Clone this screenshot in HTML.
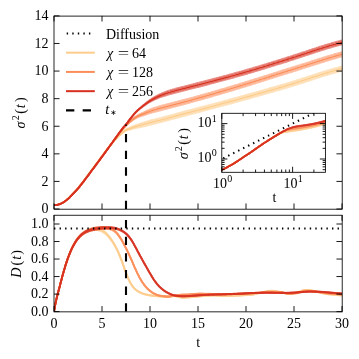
<!DOCTYPE html>
<html><head><meta charset="utf-8"><style>
html,body{margin:0;padding:0;background:#fff;}
svg{display:block;}
</style></head><body>
<svg width="359" height="359" viewBox="0 0 359 359">
<defs><clipPath id="ctop"><rect x="54.0" y="15.9" width="288.0" height="193.1"/></clipPath><clipPath id="cbot"><rect x="54.0" y="215.24" width="288.0" height="96.36000000000001"/></clipPath><clipPath id="cins"><rect x="221.8" y="113.3" width="103.59999999999997" height="59.000000000000014"/></clipPath></defs>
<rect width="359" height="359" fill="#fff"/>
<g font-family="'Liberation Serif', 'DejaVu Serif', serif" fill="#000">
<g fill="none" stroke="#fdcc8a" stroke-width="1.8" stroke-opacity="0.55" stroke-linejoin="round" clip-path="url(#ctop)">
<polyline points="54.0,205.2 55.0,205.2 55.9,205.1 56.9,205.0 57.8,204.7 58.8,204.5 59.8,204.1 60.7,203.7 61.7,203.3 62.6,202.8 63.6,202.2 64.6,201.5 65.5,200.8 66.5,200.1 67.4,199.3 68.4,198.4 69.4,197.5 70.3,196.6 71.3,195.6 72.2,194.6 73.2,193.5 74.2,192.5 75.1,191.5 76.1,190.4 77.0,189.4 78.0,188.3 79.0,187.1 79.9,185.9 80.9,184.7 81.8,183.4 82.8,182.2 83.8,180.9 84.7,179.6 85.7,178.3 86.6,177.0 87.6,175.7 88.6,174.4 89.5,173.1 90.5,171.8 91.4,170.5 92.4,169.2 93.4,167.9 94.3,166.6 95.3,165.3 96.2,164.0 97.2,162.7 98.2,161.4 99.1,160.1 100.1,158.8 101.0,157.5 102.0,156.2 103.0,154.9 103.9,153.6 104.9,152.4 105.8,151.1 106.8,149.8 107.8,148.6 108.7,147.4 109.7,146.2 110.6,145.0 111.6,143.8 112.6,142.7 113.5,141.6 114.5,140.5 115.4,139.4 116.4,138.3 117.4,137.3 118.3,136.3 119.3,135.3 120.2,134.3 121.2,133.4 122.2,132.5 123.1,131.7 124.1,130.9 125.0,130.1 126.0,129.4 127.0,128.8 127.9,128.4 128.9,128.0 129.8,127.6 130.8,127.1 131.8,126.7 132.7,126.3 133.7,125.9 134.6,125.5 135.6,125.1 136.6,124.8 137.5,124.4 138.5,124.1 139.4,123.8 140.4,123.4 141.4,123.1 142.3,122.8 143.3,122.5 144.2,122.2 145.2,121.9 146.2,121.6 147.1,121.3 148.1,121.1 149.0,120.8 150.0,120.5 151.0,120.3 151.9,120.0 152.9,119.8 153.8,119.6 154.8,119.3 155.8,119.1 156.7,118.8 157.7,118.6 158.6,118.3 159.6,118.1 160.6,117.9 161.5,117.6 162.5,117.4 163.4,117.1 164.4,116.9 165.4,116.6 166.3,116.4 167.3,116.1 168.2,115.9 169.2,115.6 170.2,115.3 171.1,115.1 172.1,114.8 173.0,114.6 174.0,114.3 175.0,114.1 175.9,113.8 176.9,113.5 177.8,113.3 178.8,113.0 179.8,112.8 180.7,112.5 181.7,112.2 182.6,112.0 183.6,111.7 184.6,111.5 185.5,111.2 186.5,110.9 187.4,110.7 188.4,110.4 189.4,110.2 190.3,109.9 191.3,109.7 192.2,109.4 193.2,109.2 194.2,108.9 195.1,108.7 196.1,108.4 197.0,108.2 198.0,107.9 199.0,107.7 199.9,107.4 200.9,107.2 201.8,106.9 202.8,106.6 203.8,106.4 204.7,106.1 205.7,105.9 206.6,105.6 207.6,105.4 208.6,105.1 209.5,104.9 210.5,104.6 211.4,104.4 212.4,104.1 213.4,103.9 214.3,103.6 215.3,103.4 216.2,103.1 217.2,102.8 218.2,102.6 219.1,102.3 220.1,102.1 221.0,101.8 222.0,101.6 223.0,101.3 223.9,101.0 224.9,100.8 225.8,100.5 226.8,100.3 227.8,100.0 228.7,99.7 229.7,99.5 230.6,99.2 231.6,98.9 232.6,98.7 233.5,98.4 234.5,98.2 235.4,97.9 236.4,97.6 237.4,97.4 238.3,97.1 239.3,96.8 240.2,96.6 241.2,96.3 242.2,96.0 243.1,95.8 244.1,95.5 245.0,95.2 246.0,95.0 247.0,94.7 247.9,94.4 248.9,94.2 249.8,93.9 250.8,93.6 251.8,93.4 252.7,93.1 253.7,92.8 254.6,92.6 255.6,92.3 256.6,92.0 257.5,91.8 258.5,91.5 259.4,91.2 260.4,91.0 261.4,90.7 262.3,90.4 263.3,90.1 264.2,89.9 265.2,89.6 266.2,89.3 267.1,89.1 268.1,88.8 269.0,88.5 270.0,88.2 271.0,88.0 271.9,87.7 272.9,87.4 273.8,87.1 274.8,86.9 275.8,86.6 276.7,86.3 277.7,86.0 278.6,85.8 279.6,85.5 280.6,85.2 281.5,84.9 282.5,84.7 283.4,84.4 284.4,84.1 285.4,83.8 286.3,83.5 287.3,83.2 288.2,82.9 289.2,82.6 290.2,82.3 291.1,82.0 292.1,81.8 293.0,81.5 294.0,81.2 295.0,80.9 295.9,80.6 296.9,80.2 297.8,79.9 298.8,79.6 299.8,79.3 300.7,79.0 301.7,78.7 302.6,78.4 303.6,78.1 304.6,77.8 305.5,77.5 306.5,77.2 307.4,76.8 308.4,76.5 309.4,76.2 310.3,75.9 311.3,75.6 312.2,75.3 313.2,75.0 314.2,74.6 315.1,74.3 316.1,74.0 317.0,73.7 318.0,73.4 319.0,73.1 319.9,72.8 320.9,72.5 321.8,72.2 322.8,71.9 323.8,71.6 324.7,71.3 325.7,71.0 326.6,70.7 327.6,70.4 328.6,70.1 329.5,69.9 330.5,69.6 331.4,69.3 332.4,69.0 333.4,68.7 334.3,68.5 335.3,68.2 336.2,67.9 337.2,67.7 338.2,67.4 339.1,67.1 340.1,66.9 341.0,66.6 342.0,66.4"/>
<polyline points="54.0,205.2 55.0,205.2 55.9,205.1 56.9,205.0 57.8,204.7 58.8,204.5 59.8,204.1 60.7,203.7 61.7,203.3 62.6,202.8 63.6,202.2 64.6,201.5 65.5,200.8 66.5,200.1 67.4,199.3 68.4,198.4 69.4,197.5 70.3,196.6 71.3,195.6 72.2,194.6 73.2,193.5 74.2,192.5 75.1,191.5 76.1,190.4 77.0,189.4 78.0,188.3 79.0,187.1 79.9,185.9 80.9,184.7 81.8,183.4 82.8,182.2 83.8,180.9 84.7,179.6 85.7,178.3 86.6,177.0 87.6,175.7 88.6,174.4 89.5,173.1 90.5,171.8 91.4,170.5 92.4,169.2 93.4,167.9 94.3,166.6 95.3,165.3 96.2,164.0 97.2,162.7 98.2,161.4 99.1,160.1 100.1,158.8 101.0,157.5 102.0,156.2 103.0,154.9 103.9,153.6 104.9,152.4 105.8,151.1 106.8,149.8 107.8,148.6 108.7,147.4 109.7,146.2 110.6,145.0 111.6,143.8 112.6,142.7 113.5,141.6 114.5,140.5 115.4,139.4 116.4,138.4 117.4,137.4 118.3,136.4 119.3,135.4 120.2,134.5 121.2,133.6 122.2,132.8 123.1,132.0 124.1,131.2 125.0,130.5 126.0,129.8 127.0,129.3 127.9,128.9 128.9,128.6 129.8,128.3 130.8,127.9 131.8,127.5 132.7,127.1 133.7,126.8 134.6,126.5 135.6,126.1 136.6,125.8 137.5,125.5 138.5,125.2 139.4,125.0 140.4,124.7 141.4,124.4 142.3,124.1 143.3,123.8 144.2,123.6 145.2,123.3 146.2,123.0 147.1,122.8 148.1,122.5 149.0,122.2 150.0,122.0 151.0,121.7 151.9,121.5 152.9,121.3 153.8,121.0 154.8,120.8 155.8,120.5 156.7,120.3 157.7,120.0 158.6,119.8 159.6,119.5 160.6,119.3 161.5,119.1 162.5,118.8 163.4,118.6 164.4,118.3 165.4,118.1 166.3,117.8 167.3,117.6 168.2,117.3 169.2,117.0 170.2,116.8 171.1,116.5 172.1,116.3 173.0,116.0 174.0,115.8 175.0,115.5 175.9,115.2 176.9,115.0 177.8,114.7 178.8,114.5 179.8,114.2 180.7,113.9 181.7,113.7 182.6,113.4 183.6,113.2 184.6,112.9 185.5,112.7 186.5,112.4 187.4,112.1 188.4,111.9 189.4,111.6 190.3,111.4 191.3,111.1 192.2,110.9 193.2,110.6 194.2,110.4 195.1,110.1 196.1,109.9 197.0,109.6 198.0,109.4 199.0,109.1 199.9,108.9 200.9,108.6 201.8,108.4 202.8,108.1 203.8,107.8 204.7,107.6 205.7,107.3 206.6,107.1 207.6,106.8 208.6,106.6 209.5,106.3 210.5,106.1 211.4,105.8 212.4,105.6 213.4,105.3 214.3,105.1 215.3,104.8 216.2,104.5 217.2,104.3 218.2,104.0 219.1,103.8 220.1,103.5 221.0,103.3 222.0,103.0 223.0,102.7 223.9,102.5 224.9,102.2 225.8,102.0 226.8,101.7 227.8,101.4 228.7,101.2 229.7,100.9 230.6,100.7 231.6,100.4 232.6,100.1 233.5,99.9 234.5,99.6 235.4,99.3 236.4,99.1 237.4,98.8 238.3,98.5 239.3,98.3 240.2,98.0 241.2,97.8 242.2,97.5 243.1,97.2 244.1,97.0 245.0,96.7 246.0,96.4 247.0,96.2 247.9,95.9 248.9,95.6 249.8,95.4 250.8,95.1 251.8,94.8 252.7,94.6 253.7,94.3 254.6,94.0 255.6,93.8 256.6,93.5 257.5,93.2 258.5,92.9 259.4,92.7 260.4,92.4 261.4,92.1 262.3,91.9 263.3,91.6 264.2,91.3 265.2,91.1 266.2,90.8 267.1,90.5 268.1,90.2 269.0,90.0 270.0,89.7 271.0,89.4 271.9,89.1 272.9,88.9 273.8,88.6 274.8,88.3 275.8,88.0 276.7,87.8 277.7,87.5 278.6,87.2 279.6,86.9 280.6,86.7 281.5,86.4 282.5,86.1 283.4,85.8 284.4,85.5 285.4,85.2 286.3,85.0 287.3,84.7 288.2,84.4 289.2,84.1 290.2,83.8 291.1,83.5 292.1,83.2 293.0,82.9 294.0,82.6 295.0,82.3 295.9,82.0 296.9,81.7 297.8,81.4 298.8,81.1 299.8,80.8 300.7,80.5 301.7,80.2 302.6,79.9 303.6,79.5 304.6,79.2 305.5,78.9 306.5,78.6 307.4,78.3 308.4,78.0 309.4,77.7 310.3,77.3 311.3,77.0 312.2,76.7 313.2,76.4 314.2,76.1 315.1,75.8 316.1,75.5 317.0,75.2 318.0,74.9 319.0,74.6 319.9,74.2 320.9,73.9 321.8,73.6 322.8,73.3 323.8,73.0 324.7,72.7 325.7,72.5 326.6,72.2 327.6,71.9 328.6,71.6 329.5,71.3 330.5,71.0 331.4,70.7 332.4,70.5 333.4,70.2 334.3,69.9 335.3,69.7 336.2,69.4 337.2,69.1 338.2,68.9 339.1,68.6 340.1,68.3 341.0,68.1 342.0,67.8"/>
<polyline points="54.0,205.2 55.0,205.2 55.9,205.1 56.9,205.0 57.8,204.7 58.8,204.5 59.8,204.1 60.7,203.7 61.7,203.3 62.6,202.8 63.6,202.2 64.6,201.5 65.5,200.8 66.5,200.1 67.4,199.3 68.4,198.4 69.4,197.5 70.3,196.6 71.3,195.6 72.2,194.6 73.2,193.5 74.2,192.5 75.1,191.5 76.1,190.4 77.0,189.4 78.0,188.3 79.0,187.1 79.9,185.9 80.9,184.7 81.8,183.4 82.8,182.2 83.8,180.9 84.7,179.6 85.7,178.3 86.6,177.0 87.6,175.7 88.6,174.4 89.5,173.1 90.5,171.8 91.4,170.5 92.4,169.2 93.4,167.9 94.3,166.6 95.3,165.3 96.2,164.0 97.2,162.7 98.2,161.4 99.1,160.1 100.1,158.8 101.0,157.5 102.0,156.2 103.0,154.9 103.9,153.6 104.9,152.4 105.8,151.1 106.8,149.8 107.8,148.6 108.7,147.4 109.7,146.2 110.6,145.0 111.6,143.8 112.6,142.7 113.5,141.6 114.5,140.5 115.4,139.5 116.4,138.5 117.4,137.5 118.3,136.5 119.3,135.6 120.2,134.7 121.2,133.8 122.2,133.0 123.1,132.3 124.1,131.6 125.0,130.9 126.0,130.3 127.0,129.8 127.9,129.5 128.9,129.2 129.8,128.9 130.8,128.6 131.8,128.3 132.7,128.0 133.7,127.7 134.6,127.4 135.6,127.1 136.6,126.9 137.5,126.6 138.5,126.4 139.4,126.1 140.4,125.9 141.4,125.7 142.3,125.4 143.3,125.2 144.2,124.9 145.2,124.7 146.2,124.4 147.1,124.2 148.1,123.9 149.0,123.7 150.0,123.4 151.0,123.2 151.9,122.9 152.9,122.7 153.8,122.5 154.8,122.2 155.8,122.0 156.7,121.7 157.7,121.5 158.6,121.2 159.6,121.0 160.6,120.8 161.5,120.5 162.5,120.3 163.4,120.0 164.4,119.8 165.4,119.5 166.3,119.3 167.3,119.0 168.2,118.8 169.2,118.5 170.2,118.2 171.1,118.0 172.1,117.7 173.0,117.5 174.0,117.2 175.0,117.0 175.9,116.7 176.9,116.4 177.8,116.2 178.8,115.9 179.8,115.7 180.7,115.4 181.7,115.1 182.6,114.9 183.6,114.6 184.6,114.4 185.5,114.1 186.5,113.8 187.4,113.6 188.4,113.3 189.4,113.1 190.3,112.8 191.3,112.6 192.2,112.3 193.2,112.1 194.2,111.8 195.1,111.6 196.1,111.3 197.0,111.1 198.0,110.8 199.0,110.6 199.9,110.3 200.9,110.1 201.8,109.8 202.8,109.5 203.8,109.3 204.7,109.0 205.7,108.8 206.6,108.5 207.6,108.3 208.6,108.0 209.5,107.8 210.5,107.5 211.4,107.3 212.4,107.0 213.4,106.8 214.3,106.5 215.3,106.3 216.2,106.0 217.2,105.7 218.2,105.5 219.1,105.2 220.1,105.0 221.0,104.7 222.0,104.5 223.0,104.2 223.9,103.9 224.9,103.7 225.8,103.4 226.8,103.2 227.8,102.9 228.7,102.6 229.7,102.4 230.6,102.1 231.6,101.8 232.6,101.6 233.5,101.3 234.5,101.1 235.4,100.8 236.4,100.5 237.4,100.3 238.3,100.0 239.3,99.7 240.2,99.5 241.2,99.2 242.2,98.9 243.1,98.7 244.1,98.4 245.0,98.1 246.0,97.9 247.0,97.6 247.9,97.3 248.9,97.1 249.8,96.8 250.8,96.5 251.8,96.3 252.7,96.0 253.7,95.7 254.6,95.5 255.6,95.2 256.6,94.9 257.5,94.7 258.5,94.4 259.4,94.1 260.4,93.9 261.4,93.6 262.3,93.3 263.3,93.0 264.2,92.8 265.2,92.5 266.2,92.2 267.1,92.0 268.1,91.7 269.0,91.4 270.0,91.1 271.0,90.9 271.9,90.6 272.9,90.3 273.8,90.0 274.8,89.8 275.8,89.5 276.7,89.2 277.7,88.9 278.6,88.7 279.6,88.4 280.6,88.1 281.5,87.8 282.5,87.6 283.4,87.3 284.4,87.0 285.4,86.7 286.3,86.4 287.3,86.1 288.2,85.8 289.2,85.5 290.2,85.2 291.1,84.9 292.1,84.7 293.0,84.4 294.0,84.1 295.0,83.8 295.9,83.5 296.9,83.1 297.8,82.8 298.8,82.5 299.8,82.2 300.7,81.9 301.7,81.6 302.6,81.3 303.6,81.0 304.6,80.7 305.5,80.4 306.5,80.1 307.4,79.7 308.4,79.4 309.4,79.1 310.3,78.8 311.3,78.5 312.2,78.2 313.2,77.9 314.2,77.5 315.1,77.2 316.1,76.9 317.0,76.6 318.0,76.3 319.0,76.0 319.9,75.7 320.9,75.4 321.8,75.1 322.8,74.8 323.8,74.5 324.7,74.2 325.7,73.9 326.6,73.6 327.6,73.3 328.6,73.0 329.5,72.8 330.5,72.5 331.4,72.2 332.4,71.9 333.4,71.6 334.3,71.4 335.3,71.1 336.2,70.8 337.2,70.6 338.2,70.3 339.1,70.0 340.1,69.8 341.0,69.5 342.0,69.3"/>
<polyline points="54.0,205.2 55.0,205.2 55.9,205.1 56.9,205.0 57.8,204.7 58.8,204.5 59.8,204.1 60.7,203.7 61.7,203.3 62.6,202.8 63.6,202.2 64.6,201.5 65.5,200.8 66.5,200.1 67.4,199.3 68.4,198.4 69.4,197.5 70.3,196.6 71.3,195.6 72.2,194.6 73.2,193.5 74.2,192.5 75.1,191.5 76.1,190.4 77.0,189.4 78.0,188.3 79.0,187.1 79.9,185.9 80.9,184.7 81.8,183.4 82.8,182.2 83.8,180.9 84.7,179.6 85.7,178.3 86.6,177.0 87.6,175.7 88.6,174.4 89.5,173.1 90.5,171.8 91.4,170.5 92.4,169.2 93.4,167.9 94.3,166.6 95.3,165.3 96.2,164.0 97.2,162.7 98.2,161.4 99.1,160.1 100.1,158.8 101.0,157.5 102.0,156.2 103.0,154.9 103.9,153.6 104.9,152.4 105.8,151.1 106.8,149.8 107.8,148.6 108.7,147.4 109.7,146.2 110.6,145.0 111.6,143.8 112.6,142.7 113.5,141.6 114.5,140.5 115.4,139.5 116.4,138.5 117.4,137.6 118.3,136.6 119.3,135.7 120.2,134.9 121.2,134.1 122.2,133.3 123.1,132.6 124.1,131.9 125.0,131.3 126.0,130.8 127.0,130.3 127.9,130.0 128.9,129.8 129.8,129.6 130.8,129.3 131.8,129.0 132.7,128.8 133.7,128.6 134.6,128.3 135.6,128.1 136.6,127.9 137.5,127.7 138.5,127.5 139.4,127.3 140.4,127.1 141.4,126.9 142.3,126.7 143.3,126.5 144.2,126.3 145.2,126.1 146.2,125.8 147.1,125.6 148.1,125.4 149.0,125.1 150.0,124.9 151.0,124.6 151.9,124.4 152.9,124.2 153.8,123.9 154.8,123.7 155.8,123.4 156.7,123.2 157.7,122.9 158.6,122.7 159.6,122.4 160.6,122.2 161.5,122.0 162.5,121.7 163.4,121.5 164.4,121.2 165.4,121.0 166.3,120.7 167.3,120.5 168.2,120.2 169.2,119.9 170.2,119.7 171.1,119.4 172.1,119.2 173.0,118.9 174.0,118.7 175.0,118.4 175.9,118.1 176.9,117.9 177.8,117.6 178.8,117.4 179.8,117.1 180.7,116.8 181.7,116.6 182.6,116.3 183.6,116.1 184.6,115.8 185.5,115.6 186.5,115.3 187.4,115.0 188.4,114.8 189.4,114.5 190.3,114.3 191.3,114.0 192.2,113.8 193.2,113.5 194.2,113.3 195.1,113.0 196.1,112.8 197.0,112.5 198.0,112.3 199.0,112.0 199.9,111.8 200.9,111.5 201.8,111.3 202.8,111.0 203.8,110.7 204.7,110.5 205.7,110.2 206.6,110.0 207.6,109.7 208.6,109.5 209.5,109.2 210.5,109.0 211.4,108.7 212.4,108.5 213.4,108.2 214.3,108.0 215.3,107.7 216.2,107.4 217.2,107.2 218.2,106.9 219.1,106.7 220.1,106.4 221.0,106.2 222.0,105.9 223.0,105.6 223.9,105.4 224.9,105.1 225.8,104.9 226.8,104.6 227.8,104.3 228.7,104.1 229.7,103.8 230.6,103.6 231.6,103.3 232.6,103.0 233.5,102.8 234.5,102.5 235.4,102.2 236.4,102.0 237.4,101.7 238.3,101.4 239.3,101.2 240.2,100.9 241.2,100.7 242.2,100.4 243.1,100.1 244.1,99.9 245.0,99.6 246.0,99.3 247.0,99.1 247.9,98.8 248.9,98.5 249.8,98.3 250.8,98.0 251.8,97.7 252.7,97.5 253.7,97.2 254.6,96.9 255.6,96.7 256.6,96.4 257.5,96.1 258.5,95.8 259.4,95.6 260.4,95.3 261.4,95.0 262.3,94.8 263.3,94.5 264.2,94.2 265.2,94.0 266.2,93.7 267.1,93.4 268.1,93.1 269.0,92.9 270.0,92.6 271.0,92.3 271.9,92.0 272.9,91.8 273.8,91.5 274.8,91.2 275.8,90.9 276.7,90.7 277.7,90.4 278.6,90.1 279.6,89.8 280.6,89.6 281.5,89.3 282.5,89.0 283.4,88.7 284.4,88.4 285.4,88.1 286.3,87.9 287.3,87.6 288.2,87.3 289.2,87.0 290.2,86.7 291.1,86.4 292.1,86.1 293.0,85.8 294.0,85.5 295.0,85.2 295.9,84.9 296.9,84.6 297.8,84.3 298.8,84.0 299.8,83.7 300.7,83.4 301.7,83.1 302.6,82.8 303.6,82.4 304.6,82.1 305.5,81.8 306.5,81.5 307.4,81.2 308.4,80.9 309.4,80.6 310.3,80.2 311.3,79.9 312.2,79.6 313.2,79.3 314.2,79.0 315.1,78.7 316.1,78.4 317.0,78.1 318.0,77.8 319.0,77.5 319.9,77.1 320.9,76.8 321.8,76.5 322.8,76.2 323.8,75.9 324.7,75.6 325.7,75.4 326.6,75.1 327.6,74.8 328.6,74.5 329.5,74.2 330.5,73.9 331.4,73.6 332.4,73.4 333.4,73.1 334.3,72.8 335.3,72.6 336.2,72.3 337.2,72.0 338.2,71.8 339.1,71.5 340.1,71.2 341.0,71.0 342.0,70.7"/>
</g>
<g fill="none" stroke="#fdcc8a" stroke-width="1.2" stroke-opacity="1.0" stroke-linejoin="round" clip-path="url(#ctop)">
<polyline points="54.0,205.2 55.0,205.2 55.9,205.1 56.9,205.0 57.8,204.7 58.8,204.5 59.8,204.1 60.7,203.7 61.7,203.3 62.6,202.8 63.6,202.2 64.6,201.5 65.5,200.8 66.5,200.1 67.4,199.3 68.4,198.4 69.4,197.5 70.3,196.6 71.3,195.6 72.2,194.6 73.2,193.5 74.2,192.5 75.1,191.5 76.1,190.4 77.0,189.4 78.0,188.3 79.0,187.1 79.9,185.9 80.9,184.7 81.8,183.4 82.8,182.2 83.8,180.9 84.7,179.6 85.7,178.3 86.6,177.0 87.6,175.7 88.6,174.4 89.5,173.1 90.5,171.8 91.4,170.5 92.4,169.2 93.4,167.9 94.3,166.6 95.3,165.3 96.2,164.0 97.2,162.7 98.2,161.4 99.1,160.1 100.1,158.8 101.0,157.5 102.0,156.2 103.0,154.9 103.9,153.6 104.9,152.4 105.8,151.1 106.8,149.8 107.8,148.6 108.7,147.4 109.7,146.2 110.6,145.0 111.6,143.8 112.6,142.7 113.5,141.6 114.5,140.5 115.4,139.5 116.4,138.4 117.4,137.4 118.3,136.4 119.3,135.5 120.2,134.6 121.2,133.7 122.2,132.9 123.1,132.1 124.1,131.4 125.0,130.7 126.0,130.1 127.0,129.6 127.9,129.2 128.9,128.9 129.8,128.6 130.8,128.2 131.8,127.9 132.7,127.5 133.7,127.2 134.6,126.9 135.6,126.6 136.6,126.4 137.5,126.1 138.5,125.8 139.4,125.5 140.4,125.3 141.4,125.0 142.3,124.8 143.3,124.5 144.2,124.2 145.2,124.0 146.2,123.7 147.1,123.5 148.1,123.2 149.0,123.0 150.0,122.7 151.0,122.5 151.9,122.2 152.9,122.0 153.8,121.7 154.8,121.5 155.8,121.2 156.7,121.0 157.7,120.8 158.6,120.5 159.6,120.3 160.6,120.0 161.5,119.8 162.5,119.5 163.4,119.3 164.4,119.0 165.4,118.8 166.3,118.5 167.3,118.3 168.2,118.0 169.2,117.8 170.2,117.5 171.1,117.3 172.1,117.0 173.0,116.7 174.0,116.5 175.0,116.2 175.9,116.0 176.9,115.7 177.8,115.5 178.8,115.2 179.8,114.9 180.7,114.7 181.7,114.4 182.6,114.2 183.6,113.9 184.6,113.6 185.5,113.4 186.5,113.1 187.4,112.9 188.4,112.6 189.4,112.4 190.3,112.1 191.3,111.9 192.2,111.6 193.2,111.3 194.2,111.1 195.1,110.8 196.1,110.6 197.0,110.3 198.0,110.1 199.0,109.8 199.9,109.6 200.9,109.3 201.8,109.1 202.8,108.8 203.8,108.6 204.7,108.3 205.7,108.1 206.6,107.8 207.6,107.6 208.6,107.3 209.5,107.1 210.5,106.8 211.4,106.5 212.4,106.3 213.4,106.0 214.3,105.8 215.3,105.5 216.2,105.3 217.2,105.0 218.2,104.8 219.1,104.5 220.1,104.2 221.0,104.0 222.0,103.7 223.0,103.5 223.9,103.2 224.9,103.0 225.8,102.7 226.8,102.4 227.8,102.2 228.7,101.9 229.7,101.6 230.6,101.4 231.6,101.1 232.6,100.9 233.5,100.6 234.5,100.3 235.4,100.1 236.4,99.8 237.4,99.5 238.3,99.3 239.3,99.0 240.2,98.7 241.2,98.5 242.2,98.2 243.1,98.0 244.1,97.7 245.0,97.4 246.0,97.2 247.0,96.9 247.9,96.6 248.9,96.4 249.8,96.1 250.8,95.8 251.8,95.6 252.7,95.3 253.7,95.0 254.6,94.8 255.6,94.5 256.6,94.2 257.5,93.9 258.5,93.7 259.4,93.4 260.4,93.1 261.4,92.9 262.3,92.6 263.3,92.3 264.2,92.0 265.2,91.8 266.2,91.5 267.1,91.2 268.1,91.0 269.0,90.7 270.0,90.4 271.0,90.1 271.9,89.9 272.9,89.6 273.8,89.3 274.8,89.0 275.8,88.8 276.7,88.5 277.7,88.2 278.6,87.9 279.6,87.7 280.6,87.4 281.5,87.1 282.5,86.8 283.4,86.5 284.4,86.3 285.4,86.0 286.3,85.7 287.3,85.4 288.2,85.1 289.2,84.8 290.2,84.5 291.1,84.2 292.1,83.9 293.0,83.6 294.0,83.3 295.0,83.0 295.9,82.7 296.9,82.4 297.8,82.1 298.8,81.8 299.8,81.5 300.7,81.2 301.7,80.9 302.6,80.6 303.6,80.3 304.6,80.0 305.5,79.6 306.5,79.3 307.4,79.0 308.4,78.7 309.4,78.4 310.3,78.1 311.3,77.8 312.2,77.4 313.2,77.1 314.2,76.8 315.1,76.5 316.1,76.2 317.0,75.9 318.0,75.6 319.0,75.3 319.9,75.0 320.9,74.7 321.8,74.4 322.8,74.1 323.8,73.8 324.7,73.5 325.7,73.2 326.6,72.9 327.6,72.6 328.6,72.3 329.5,72.0 330.5,71.7 331.4,71.5 332.4,71.2 333.4,70.9 334.3,70.6 335.3,70.4 336.2,70.1 337.2,69.8 338.2,69.6 339.1,69.3 340.1,69.1 341.0,68.8 342.0,68.5"/>
</g>
<g fill="none" stroke="#fc8d59" stroke-width="1.8" stroke-opacity="0.55" stroke-linejoin="round" clip-path="url(#ctop)">
<polyline points="54.0,205.1 55.0,205.1 55.9,205.0 56.9,204.9 57.8,204.7 58.8,204.4 59.8,204.1 60.7,203.7 61.7,203.3 62.6,202.7 63.6,202.2 64.6,201.5 65.5,200.9 66.5,200.1 67.4,199.3 68.4,198.5 69.4,197.6 70.3,196.6 71.3,195.6 72.2,194.6 73.2,193.6 74.2,192.6 75.1,191.6 76.1,190.5 77.0,189.5 78.0,188.4 79.0,187.2 79.9,186.1 80.9,184.8 81.8,183.6 82.8,182.4 83.8,181.1 84.7,179.8 85.7,178.5 86.6,177.3 87.6,176.0 88.6,174.7 89.5,173.4 90.5,172.1 91.4,170.8 92.4,169.5 93.4,168.2 94.3,166.9 95.3,165.6 96.2,164.3 97.2,163.0 98.2,161.7 99.1,160.5 100.1,159.2 101.0,157.8 102.0,156.5 103.0,155.2 103.9,153.9 104.9,152.6 105.8,151.3 106.8,149.9 107.8,148.6 108.7,147.3 109.7,146.0 110.6,144.7 111.6,143.4 112.6,142.1 113.5,140.8 114.5,139.5 115.4,138.2 116.4,136.9 117.4,135.7 118.3,134.4 119.3,133.2 120.2,132.0 121.2,130.8 122.2,129.7 123.1,128.5 124.1,127.4 125.0,126.3 126.0,125.2 127.0,124.2 127.9,123.2 128.9,122.3 129.8,121.3 130.8,120.5 131.8,119.6 132.7,118.8 133.7,118.0 134.6,117.3 135.6,116.6 136.6,115.9 137.5,115.3 138.5,114.8 139.4,114.3 140.4,113.8 141.4,113.4 142.3,112.9 143.3,112.5 144.2,112.0 145.2,111.5 146.2,111.1 147.1,110.6 148.1,110.2 149.0,109.8 150.0,109.4 151.0,109.0 151.9,108.7 152.9,108.3 153.8,108.0 154.8,107.7 155.8,107.4 156.7,107.1 157.7,106.8 158.6,106.5 159.6,106.2 160.6,106.0 161.5,105.7 162.5,105.4 163.4,105.2 164.4,104.9 165.4,104.7 166.3,104.4 167.3,104.2 168.2,103.9 169.2,103.7 170.2,103.4 171.1,103.2 172.1,102.9 173.0,102.7 174.0,102.4 175.0,102.2 175.9,101.9 176.9,101.7 177.8,101.4 178.8,101.2 179.8,100.9 180.7,100.7 181.7,100.4 182.6,100.2 183.6,99.9 184.6,99.7 185.5,99.4 186.5,99.2 187.4,98.9 188.4,98.7 189.4,98.4 190.3,98.1 191.3,97.9 192.2,97.6 193.2,97.4 194.2,97.1 195.1,96.8 196.1,96.6 197.0,96.3 198.0,96.0 199.0,95.8 199.9,95.5 200.9,95.2 201.8,95.0 202.8,94.7 203.8,94.4 204.7,94.1 205.7,93.9 206.6,93.6 207.6,93.3 208.6,93.0 209.5,92.8 210.5,92.5 211.4,92.2 212.4,91.9 213.4,91.7 214.3,91.4 215.3,91.1 216.2,90.8 217.2,90.5 218.2,90.3 219.1,90.0 220.1,89.7 221.0,89.4 222.0,89.1 223.0,88.8 223.9,88.6 224.9,88.3 225.8,88.0 226.8,87.7 227.8,87.4 228.7,87.1 229.7,86.9 230.6,86.6 231.6,86.3 232.6,86.0 233.5,85.7 234.5,85.4 235.4,85.1 236.4,84.8 237.4,84.6 238.3,84.3 239.3,84.0 240.2,83.7 241.2,83.4 242.2,83.1 243.1,82.8 244.1,82.5 245.0,82.2 246.0,81.9 247.0,81.6 247.9,81.3 248.9,81.0 249.8,80.7 250.8,80.4 251.8,80.1 252.7,79.8 253.7,79.5 254.6,79.2 255.6,78.9 256.6,78.6 257.5,78.3 258.5,78.0 259.4,77.7 260.4,77.4 261.4,77.1 262.3,76.8 263.3,76.5 264.2,76.2 265.2,75.9 266.2,75.6 267.1,75.3 268.1,75.0 269.0,74.7 270.0,74.4 271.0,74.1 271.9,73.8 272.9,73.5 273.8,73.2 274.8,72.9 275.8,72.6 276.7,72.3 277.7,72.0 278.6,71.7 279.6,71.4 280.6,71.0 281.5,70.7 282.5,70.4 283.4,70.1 284.4,69.8 285.4,69.5 286.3,69.2 287.3,68.9 288.2,68.6 289.2,68.3 290.2,68.0 291.1,67.7 292.1,67.4 293.0,67.1 294.0,66.8 295.0,66.5 295.9,66.2 296.9,65.9 297.8,65.6 298.8,65.3 299.8,65.0 300.7,64.7 301.7,64.4 302.6,64.1 303.6,63.8 304.6,63.5 305.5,63.2 306.5,62.9 307.4,62.6 308.4,62.3 309.4,62.0 310.3,61.7 311.3,61.3 312.2,61.0 313.2,60.7 314.2,60.4 315.1,60.1 316.1,59.8 317.0,59.5 318.0,59.2 319.0,58.9 319.9,58.6 320.9,58.3 321.8,58.0 322.8,57.7 323.8,57.4 324.7,57.1 325.7,56.8 326.6,56.5 327.6,56.2 328.6,56.0 329.5,55.7 330.5,55.4 331.4,55.1 332.4,54.8 333.4,54.5 334.3,54.2 335.3,54.0 336.2,53.7 337.2,53.4 338.2,53.1 339.1,52.8 340.1,52.6 341.0,52.3 342.0,52.0"/>
<polyline points="54.0,205.1 55.0,205.1 55.9,205.0 56.9,204.9 57.8,204.7 58.8,204.4 59.8,204.1 60.7,203.7 61.7,203.3 62.6,202.7 63.6,202.2 64.6,201.5 65.5,200.9 66.5,200.1 67.4,199.3 68.4,198.5 69.4,197.6 70.3,196.6 71.3,195.6 72.2,194.6 73.2,193.6 74.2,192.6 75.1,191.6 76.1,190.5 77.0,189.5 78.0,188.4 79.0,187.2 79.9,186.1 80.9,184.8 81.8,183.6 82.8,182.4 83.8,181.1 84.7,179.8 85.7,178.5 86.6,177.3 87.6,176.0 88.6,174.7 89.5,173.4 90.5,172.1 91.4,170.8 92.4,169.5 93.4,168.2 94.3,166.9 95.3,165.6 96.2,164.3 97.2,163.0 98.2,161.7 99.1,160.5 100.1,159.2 101.0,157.8 102.0,156.5 103.0,155.2 103.9,153.9 104.9,152.6 105.8,151.3 106.8,149.9 107.8,148.6 108.7,147.3 109.7,146.0 110.6,144.7 111.6,143.4 112.6,142.1 113.5,140.8 114.5,139.5 115.4,138.2 116.4,136.9 117.4,135.7 118.3,134.5 119.3,133.2 120.2,132.0 121.2,130.9 122.2,129.7 123.1,128.6 124.1,127.5 125.0,126.4 126.0,125.4 127.0,124.4 127.9,123.5 128.9,122.6 129.8,121.7 130.8,120.8 131.8,120.0 132.7,119.3 133.7,118.5 134.6,117.8 135.6,117.2 136.6,116.6 137.5,116.0 138.5,115.5 139.4,115.1 140.4,114.7 141.4,114.3 142.3,113.9 143.3,113.5 144.2,113.0 145.2,112.6 146.2,112.2 147.1,111.8 148.1,111.4 149.0,111.0 150.0,110.7 151.0,110.3 151.9,110.0 152.9,109.7 153.8,109.4 154.8,109.1 155.8,108.8 156.7,108.5 157.7,108.2 158.6,107.9 159.6,107.7 160.6,107.4 161.5,107.2 162.5,106.9 163.4,106.6 164.4,106.4 165.4,106.1 166.3,105.9 167.3,105.6 168.2,105.4 169.2,105.1 170.2,104.9 171.1,104.6 172.1,104.4 173.0,104.1 174.0,103.9 175.0,103.6 175.9,103.4 176.9,103.1 177.8,102.9 178.8,102.6 179.8,102.4 180.7,102.1 181.7,101.9 182.6,101.6 183.6,101.4 184.6,101.1 185.5,100.9 186.5,100.6 187.4,100.4 188.4,100.1 189.4,99.9 190.3,99.6 191.3,99.3 192.2,99.1 193.2,98.8 194.2,98.5 195.1,98.3 196.1,98.0 197.0,97.8 198.0,97.5 199.0,97.2 199.9,97.0 200.9,96.7 201.8,96.4 202.8,96.1 203.8,95.9 204.7,95.6 205.7,95.3 206.6,95.0 207.6,94.8 208.6,94.5 209.5,94.2 210.5,93.9 211.4,93.7 212.4,93.4 213.4,93.1 214.3,92.8 215.3,92.5 216.2,92.3 217.2,92.0 218.2,91.7 219.1,91.4 220.1,91.1 221.0,90.9 222.0,90.6 223.0,90.3 223.9,90.0 224.9,89.7 225.8,89.4 226.8,89.2 227.8,88.9 228.7,88.6 229.7,88.3 230.6,88.0 231.6,87.7 232.6,87.4 233.5,87.2 234.5,86.9 235.4,86.6 236.4,86.3 237.4,86.0 238.3,85.7 239.3,85.4 240.2,85.1 241.2,84.8 242.2,84.5 243.1,84.2 244.1,84.0 245.0,83.7 246.0,83.4 247.0,83.1 247.9,82.8 248.9,82.5 249.8,82.2 250.8,81.9 251.8,81.6 252.7,81.3 253.7,81.0 254.6,80.7 255.6,80.4 256.6,80.1 257.5,79.8 258.5,79.5 259.4,79.2 260.4,78.9 261.4,78.6 262.3,78.3 263.3,78.0 264.2,77.7 265.2,77.3 266.2,77.0 267.1,76.7 268.1,76.4 269.0,76.1 270.0,75.8 271.0,75.5 271.9,75.2 272.9,74.9 273.8,74.6 274.8,74.3 275.8,74.0 276.7,73.7 277.7,73.4 278.6,73.1 279.6,72.8 280.6,72.5 281.5,72.2 282.5,71.9 283.4,71.6 284.4,71.3 285.4,71.0 286.3,70.7 287.3,70.4 288.2,70.1 289.2,69.8 290.2,69.5 291.1,69.2 292.1,68.9 293.0,68.6 294.0,68.3 295.0,68.0 295.9,67.7 296.9,67.4 297.8,67.1 298.8,66.8 299.8,66.5 300.7,66.2 301.7,65.9 302.6,65.5 303.6,65.2 304.6,64.9 305.5,64.6 306.5,64.3 307.4,64.0 308.4,63.7 309.4,63.4 310.3,63.1 311.3,62.8 312.2,62.5 313.2,62.2 314.2,61.9 315.1,61.6 316.1,61.3 317.0,61.0 318.0,60.7 319.0,60.4 319.9,60.1 320.9,59.8 321.8,59.5 322.8,59.2 323.8,58.9 324.7,58.6 325.7,58.3 326.6,58.0 327.6,57.7 328.6,57.4 329.5,57.1 330.5,56.8 331.4,56.5 332.4,56.3 333.4,56.0 334.3,55.7 335.3,55.4 336.2,55.1 337.2,54.8 338.2,54.6 339.1,54.3 340.1,54.0 341.0,53.8 342.0,53.5"/>
<polyline points="54.0,205.1 55.0,205.1 55.9,205.0 56.9,204.9 57.8,204.7 58.8,204.4 59.8,204.1 60.7,203.7 61.7,203.3 62.6,202.7 63.6,202.2 64.6,201.5 65.5,200.9 66.5,200.1 67.4,199.3 68.4,198.5 69.4,197.6 70.3,196.6 71.3,195.6 72.2,194.6 73.2,193.6 74.2,192.6 75.1,191.6 76.1,190.5 77.0,189.5 78.0,188.4 79.0,187.2 79.9,186.1 80.9,184.8 81.8,183.6 82.8,182.4 83.8,181.1 84.7,179.8 85.7,178.5 86.6,177.3 87.6,176.0 88.6,174.7 89.5,173.4 90.5,172.1 91.4,170.8 92.4,169.5 93.4,168.2 94.3,166.9 95.3,165.6 96.2,164.3 97.2,163.0 98.2,161.7 99.1,160.5 100.1,159.2 101.0,157.8 102.0,156.5 103.0,155.2 103.9,153.9 104.9,152.6 105.8,151.3 106.8,149.9 107.8,148.6 108.7,147.3 109.7,146.0 110.6,144.7 111.6,143.4 112.6,142.1 113.5,140.8 114.5,139.5 115.4,138.2 116.4,136.9 117.4,135.7 118.3,134.5 119.3,133.3 120.2,132.1 121.2,130.9 122.2,129.8 123.1,128.7 124.1,127.6 125.0,126.6 126.0,125.6 127.0,124.6 127.9,123.7 128.9,122.9 129.8,122.0 130.8,121.2 131.8,120.4 132.7,119.7 133.7,119.0 134.6,118.4 135.6,117.8 136.6,117.2 137.5,116.7 138.5,116.3 139.4,115.9 140.4,115.5 141.4,115.1 142.3,114.8 143.3,114.4 144.2,114.1 145.2,113.7 146.2,113.3 147.1,113.0 148.1,112.6 149.0,112.3 150.0,111.9 151.0,111.6 151.9,111.3 152.9,111.0 153.8,110.7 154.8,110.5 155.8,110.2 156.7,109.9 157.7,109.6 158.6,109.4 159.6,109.1 160.6,108.9 161.5,108.6 162.5,108.3 163.4,108.1 164.4,107.8 165.4,107.6 166.3,107.3 167.3,107.1 168.2,106.8 169.2,106.6 170.2,106.3 171.1,106.1 172.1,105.8 173.0,105.6 174.0,105.3 175.0,105.1 175.9,104.8 176.9,104.6 177.8,104.3 178.8,104.1 179.8,103.8 180.7,103.6 181.7,103.3 182.6,103.1 183.6,102.8 184.6,102.6 185.5,102.3 186.5,102.1 187.4,101.8 188.4,101.6 189.4,101.3 190.3,101.0 191.3,100.8 192.2,100.5 193.2,100.3 194.2,100.0 195.1,99.7 196.1,99.5 197.0,99.2 198.0,98.9 199.0,98.7 199.9,98.4 200.9,98.1 201.8,97.9 202.8,97.6 203.8,97.3 204.7,97.0 205.7,96.8 206.6,96.5 207.6,96.2 208.6,95.9 209.5,95.7 210.5,95.4 211.4,95.1 212.4,94.8 213.4,94.6 214.3,94.3 215.3,94.0 216.2,93.7 217.2,93.4 218.2,93.2 219.1,92.9 220.1,92.6 221.0,92.3 222.0,92.0 223.0,91.7 223.9,91.5 224.9,91.2 225.8,90.9 226.8,90.6 227.8,90.3 228.7,90.0 229.7,89.8 230.6,89.5 231.6,89.2 232.6,88.9 233.5,88.6 234.5,88.3 235.4,88.0 236.4,87.7 237.4,87.5 238.3,87.2 239.3,86.9 240.2,86.6 241.2,86.3 242.2,86.0 243.1,85.7 244.1,85.4 245.0,85.1 246.0,84.8 247.0,84.5 247.9,84.2 248.9,83.9 249.8,83.6 250.8,83.3 251.8,83.0 252.7,82.7 253.7,82.4 254.6,82.1 255.6,81.8 256.6,81.5 257.5,81.2 258.5,80.9 259.4,80.6 260.4,80.3 261.4,80.0 262.3,79.7 263.3,79.4 264.2,79.1 265.2,78.8 266.2,78.5 267.1,78.2 268.1,77.9 269.0,77.6 270.0,77.3 271.0,77.0 271.9,76.7 272.9,76.4 273.8,76.1 274.8,75.8 275.8,75.5 276.7,75.2 277.7,74.9 278.6,74.6 279.6,74.3 280.6,73.9 281.5,73.6 282.5,73.3 283.4,73.0 284.4,72.7 285.4,72.4 286.3,72.1 287.3,71.8 288.2,71.5 289.2,71.2 290.2,70.9 291.1,70.6 292.1,70.3 293.0,70.0 294.0,69.7 295.0,69.4 295.9,69.1 296.9,68.8 297.8,68.5 298.8,68.2 299.8,67.9 300.7,67.6 301.7,67.3 302.6,67.0 303.6,66.7 304.6,66.4 305.5,66.1 306.5,65.8 307.4,65.5 308.4,65.2 309.4,64.9 310.3,64.6 311.3,64.2 312.2,63.9 313.2,63.6 314.2,63.3 315.1,63.0 316.1,62.7 317.0,62.4 318.0,62.1 319.0,61.8 319.9,61.5 320.9,61.2 321.8,60.9 322.8,60.6 323.8,60.3 324.7,60.0 325.7,59.7 326.6,59.4 327.6,59.1 328.6,58.9 329.5,58.6 330.5,58.3 331.4,58.0 332.4,57.7 333.4,57.4 334.3,57.1 335.3,56.9 336.2,56.6 337.2,56.3 338.2,56.0 339.1,55.7 340.1,55.5 341.0,55.2 342.0,54.9"/>
<polyline points="54.0,205.1 55.0,205.1 55.9,205.0 56.9,204.9 57.8,204.7 58.8,204.4 59.8,204.1 60.7,203.7 61.7,203.3 62.6,202.7 63.6,202.2 64.6,201.5 65.5,200.9 66.5,200.1 67.4,199.3 68.4,198.5 69.4,197.6 70.3,196.6 71.3,195.6 72.2,194.6 73.2,193.6 74.2,192.6 75.1,191.6 76.1,190.5 77.0,189.5 78.0,188.4 79.0,187.2 79.9,186.1 80.9,184.8 81.8,183.6 82.8,182.4 83.8,181.1 84.7,179.8 85.7,178.5 86.6,177.3 87.6,176.0 88.6,174.7 89.5,173.4 90.5,172.1 91.4,170.8 92.4,169.5 93.4,168.2 94.3,166.9 95.3,165.6 96.2,164.3 97.2,163.0 98.2,161.7 99.1,160.5 100.1,159.2 101.0,157.8 102.0,156.5 103.0,155.2 103.9,153.9 104.9,152.6 105.8,151.3 106.8,149.9 107.8,148.6 108.7,147.3 109.7,146.0 110.6,144.7 111.6,143.4 112.6,142.1 113.5,140.8 114.5,139.5 115.4,138.2 116.4,136.9 117.4,135.7 118.3,134.5 119.3,133.3 120.2,132.1 121.2,131.0 122.2,129.9 123.1,128.8 124.1,127.7 125.0,126.7 126.0,125.8 127.0,124.9 127.9,124.0 128.9,123.1 129.8,122.3 130.8,121.6 131.8,120.9 132.7,120.2 133.7,119.5 134.6,118.9 135.6,118.4 136.6,117.9 137.5,117.4 138.5,117.0 139.4,116.7 140.4,116.3 141.4,116.0 142.3,115.7 143.3,115.4 144.2,115.1 145.2,114.8 146.2,114.4 147.1,114.1 148.1,113.8 149.0,113.5 150.0,113.2 151.0,112.9 151.9,112.7 152.9,112.4 153.8,112.1 154.8,111.9 155.8,111.6 156.7,111.3 157.7,111.1 158.6,110.8 159.6,110.6 160.6,110.3 161.5,110.1 162.5,109.8 163.4,109.5 164.4,109.3 165.4,109.0 166.3,108.8 167.3,108.5 168.2,108.3 169.2,108.0 170.2,107.8 171.1,107.5 172.1,107.3 173.0,107.0 174.0,106.8 175.0,106.5 175.9,106.3 176.9,106.0 177.8,105.8 178.8,105.5 179.8,105.3 180.7,105.0 181.7,104.8 182.6,104.5 183.6,104.3 184.6,104.0 185.5,103.8 186.5,103.5 187.4,103.3 188.4,103.0 189.4,102.8 190.3,102.5 191.3,102.2 192.2,102.0 193.2,101.7 194.2,101.4 195.1,101.2 196.1,100.9 197.0,100.7 198.0,100.4 199.0,100.1 199.9,99.9 200.9,99.6 201.8,99.3 202.8,99.0 203.8,98.8 204.7,98.5 205.7,98.2 206.6,97.9 207.6,97.7 208.6,97.4 209.5,97.1 210.5,96.8 211.4,96.6 212.4,96.3 213.4,96.0 214.3,95.7 215.3,95.4 216.2,95.2 217.2,94.9 218.2,94.6 219.1,94.3 220.1,94.0 221.0,93.8 222.0,93.5 223.0,93.2 223.9,92.9 224.9,92.6 225.8,92.3 226.8,92.1 227.8,91.8 228.7,91.5 229.7,91.2 230.6,90.9 231.6,90.6 232.6,90.3 233.5,90.1 234.5,89.8 235.4,89.5 236.4,89.2 237.4,88.9 238.3,88.6 239.3,88.3 240.2,88.0 241.2,87.7 242.2,87.4 243.1,87.1 244.1,86.9 245.0,86.6 246.0,86.3 247.0,86.0 247.9,85.7 248.9,85.4 249.8,85.1 250.8,84.8 251.8,84.5 252.7,84.2 253.7,83.9 254.6,83.6 255.6,83.3 256.6,83.0 257.5,82.7 258.5,82.4 259.4,82.1 260.4,81.8 261.4,81.5 262.3,81.2 263.3,80.9 264.2,80.6 265.2,80.2 266.2,79.9 267.1,79.6 268.1,79.3 269.0,79.0 270.0,78.7 271.0,78.4 271.9,78.1 272.9,77.8 273.8,77.5 274.8,77.2 275.8,76.9 276.7,76.6 277.7,76.3 278.6,76.0 279.6,75.7 280.6,75.4 281.5,75.1 282.5,74.8 283.4,74.5 284.4,74.2 285.4,73.9 286.3,73.6 287.3,73.3 288.2,73.0 289.2,72.7 290.2,72.4 291.1,72.1 292.1,71.8 293.0,71.5 294.0,71.2 295.0,70.9 295.9,70.6 296.9,70.3 297.8,70.0 298.8,69.7 299.8,69.4 300.7,69.1 301.7,68.8 302.6,68.4 303.6,68.1 304.6,67.8 305.5,67.5 306.5,67.2 307.4,66.9 308.4,66.6 309.4,66.3 310.3,66.0 311.3,65.7 312.2,65.4 313.2,65.1 314.2,64.8 315.1,64.5 316.1,64.2 317.0,63.9 318.0,63.6 319.0,63.3 319.9,63.0 320.9,62.7 321.8,62.4 322.8,62.1 323.8,61.8 324.7,61.5 325.7,61.2 326.6,60.9 327.6,60.6 328.6,60.3 329.5,60.0 330.5,59.7 331.4,59.4 332.4,59.2 333.4,58.9 334.3,58.6 335.3,58.3 336.2,58.0 337.2,57.7 338.2,57.5 339.1,57.2 340.1,56.9 341.0,56.7 342.0,56.4"/>
</g>
<g fill="none" stroke="#fc8d59" stroke-width="1.2" stroke-opacity="1.0" stroke-linejoin="round" clip-path="url(#ctop)">
<polyline points="54.0,205.1 55.0,205.1 55.9,205.0 56.9,204.9 57.8,204.7 58.8,204.4 59.8,204.1 60.7,203.7 61.7,203.3 62.6,202.7 63.6,202.2 64.6,201.5 65.5,200.9 66.5,200.1 67.4,199.3 68.4,198.5 69.4,197.6 70.3,196.6 71.3,195.6 72.2,194.6 73.2,193.6 74.2,192.6 75.1,191.6 76.1,190.5 77.0,189.5 78.0,188.4 79.0,187.2 79.9,186.1 80.9,184.8 81.8,183.6 82.8,182.4 83.8,181.1 84.7,179.8 85.7,178.5 86.6,177.3 87.6,176.0 88.6,174.7 89.5,173.4 90.5,172.1 91.4,170.8 92.4,169.5 93.4,168.2 94.3,166.9 95.3,165.6 96.2,164.3 97.2,163.0 98.2,161.7 99.1,160.5 100.1,159.2 101.0,157.8 102.0,156.5 103.0,155.2 103.9,153.9 104.9,152.6 105.8,151.3 106.8,149.9 107.8,148.6 108.7,147.3 109.7,146.0 110.6,144.7 111.6,143.4 112.6,142.1 113.5,140.8 114.5,139.5 115.4,138.2 116.4,136.9 117.4,135.7 118.3,134.5 119.3,133.3 120.2,132.1 121.2,130.9 122.2,129.8 123.1,128.6 124.1,127.6 125.0,126.5 126.0,125.5 127.0,124.5 127.9,123.6 128.9,122.7 129.8,121.8 130.8,121.0 131.8,120.2 132.7,119.5 133.7,118.8 134.6,118.1 135.6,117.5 136.6,116.9 137.5,116.4 138.5,115.9 139.4,115.5 140.4,115.1 141.4,114.7 142.3,114.3 143.3,113.9 144.2,113.6 145.2,113.2 146.2,112.8 147.1,112.4 148.1,112.0 149.0,111.7 150.0,111.3 151.0,111.0 151.9,110.7 152.9,110.4 153.8,110.1 154.8,109.8 155.8,109.5 156.7,109.2 157.7,108.9 158.6,108.7 159.6,108.4 160.6,108.1 161.5,107.9 162.5,107.6 163.4,107.4 164.4,107.1 165.4,106.9 166.3,106.6 167.3,106.4 168.2,106.1 169.2,105.9 170.2,105.6 171.1,105.4 172.1,105.1 173.0,104.9 174.0,104.6 175.0,104.4 175.9,104.1 176.9,103.9 177.8,103.6 178.8,103.4 179.8,103.1 180.7,102.9 181.7,102.6 182.6,102.4 183.6,102.1 184.6,101.9 185.5,101.6 186.5,101.3 187.4,101.1 188.4,100.8 189.4,100.6 190.3,100.3 191.3,100.1 192.2,99.8 193.2,99.5 194.2,99.3 195.1,99.0 196.1,98.7 197.0,98.5 198.0,98.2 199.0,97.9 199.9,97.7 200.9,97.4 201.8,97.1 202.8,96.9 203.8,96.6 204.7,96.3 205.7,96.0 206.6,95.8 207.6,95.5 208.6,95.2 209.5,94.9 210.5,94.7 211.4,94.4 212.4,94.1 213.4,93.8 214.3,93.6 215.3,93.3 216.2,93.0 217.2,92.7 218.2,92.4 219.1,92.1 220.1,91.9 221.0,91.6 222.0,91.3 223.0,91.0 223.9,90.7 224.9,90.5 225.8,90.2 226.8,89.9 227.8,89.6 228.7,89.3 229.7,89.0 230.6,88.7 231.6,88.5 232.6,88.2 233.5,87.9 234.5,87.6 235.4,87.3 236.4,87.0 237.4,86.7 238.3,86.4 239.3,86.1 240.2,85.9 241.2,85.6 242.2,85.3 243.1,85.0 244.1,84.7 245.0,84.4 246.0,84.1 247.0,83.8 247.9,83.5 248.9,83.2 249.8,82.9 250.8,82.6 251.8,82.3 252.7,82.0 253.7,81.7 254.6,81.4 255.6,81.1 256.6,80.8 257.5,80.5 258.5,80.2 259.4,79.9 260.4,79.6 261.4,79.3 262.3,79.0 263.3,78.7 264.2,78.4 265.2,78.1 266.2,77.8 267.1,77.5 268.1,77.2 269.0,76.9 270.0,76.6 271.0,76.3 271.9,75.9 272.9,75.6 273.8,75.3 274.8,75.0 275.8,74.7 276.7,74.4 277.7,74.1 278.6,73.8 279.6,73.5 280.6,73.2 281.5,72.9 282.5,72.6 283.4,72.3 284.4,72.0 285.4,71.7 286.3,71.4 287.3,71.1 288.2,70.8 289.2,70.5 290.2,70.2 291.1,69.9 292.1,69.6 293.0,69.3 294.0,69.0 295.0,68.7 295.9,68.4 296.9,68.1 297.8,67.8 298.8,67.5 299.8,67.2 300.7,66.9 301.7,66.6 302.6,66.3 303.6,66.0 304.6,65.7 305.5,65.4 306.5,65.1 307.4,64.7 308.4,64.4 309.4,64.1 310.3,63.8 311.3,63.5 312.2,63.2 313.2,62.9 314.2,62.6 315.1,62.3 316.1,62.0 317.0,61.7 318.0,61.4 319.0,61.1 319.9,60.8 320.9,60.5 321.8,60.2 322.8,59.9 323.8,59.6 324.7,59.3 325.7,59.0 326.6,58.7 327.6,58.4 328.6,58.1 329.5,57.8 330.5,57.5 331.4,57.3 332.4,57.0 333.4,56.7 334.3,56.4 335.3,56.1 336.2,55.9 337.2,55.6 338.2,55.3 339.1,55.0 340.1,54.8 341.0,54.5 342.0,54.2"/>
</g>
<g fill="none" stroke="#d7301f" stroke-width="1.8" stroke-opacity="0.55" stroke-linejoin="round" clip-path="url(#ctop)">
<polyline points="54.0,205.0 55.0,205.1 55.9,205.0 56.9,204.9 57.8,204.7 58.8,204.4 59.8,204.1 60.7,203.7 61.7,203.2 62.6,202.7 63.6,202.2 64.6,201.6 65.5,200.9 66.5,200.1 67.4,199.3 68.4,198.5 69.4,197.6 70.3,196.7 71.3,195.7 72.2,194.7 73.2,193.7 74.2,192.7 75.1,191.7 76.1,190.7 77.0,189.6 78.0,188.5 79.0,187.4 79.9,186.2 80.9,185.0 81.8,183.8 82.8,182.5 83.8,181.3 84.7,180.0 85.7,178.7 86.6,177.5 87.6,176.2 88.6,174.9 89.5,173.6 90.5,172.3 91.4,171.0 92.4,169.7 93.4,168.5 94.3,167.2 95.3,165.9 96.2,164.6 97.2,163.3 98.2,162.0 99.1,160.7 100.1,159.4 101.0,158.1 102.0,156.8 103.0,155.5 103.9,154.2 104.9,152.9 105.8,151.5 106.8,150.2 107.8,148.9 108.7,147.5 109.7,146.2 110.6,144.9 111.6,143.5 112.6,142.2 113.5,140.9 114.5,139.5 115.4,138.2 116.4,136.9 117.4,135.5 118.3,134.2 119.3,132.8 120.2,131.5 121.2,130.2 122.2,128.9 123.1,127.6 124.1,126.5 125.0,125.5 126.0,124.4 127.0,123.2 127.9,121.9 128.9,120.6 129.8,119.3 130.8,118.1 131.8,116.9 132.7,115.6 133.7,114.5 134.6,113.3 135.6,112.2 136.6,111.2 137.5,110.2 138.5,109.3 139.4,108.4 140.4,107.6 141.4,106.7 142.3,105.9 143.3,105.1 144.2,104.4 145.2,103.6 146.2,102.8 147.1,102.0 148.1,101.3 149.0,100.6 150.0,99.9 151.0,99.3 151.9,98.6 152.9,98.0 153.8,97.4 154.8,96.9 155.8,96.3 156.7,95.8 157.7,95.3 158.6,94.8 159.6,94.4 160.6,93.9 161.5,93.5 162.5,93.0 163.4,92.6 164.4,92.3 165.4,91.9 166.3,91.5 167.3,91.2 168.2,90.8 169.2,90.5 170.2,90.2 171.1,89.9 172.1,89.6 173.0,89.3 174.0,89.1 175.0,88.8 175.9,88.5 176.9,88.3 177.8,88.0 178.8,87.8 179.8,87.5 180.7,87.3 181.7,87.0 182.6,86.8 183.6,86.6 184.6,86.3 185.5,86.1 186.5,85.8 187.4,85.6 188.4,85.4 189.4,85.1 190.3,84.9 191.3,84.7 192.2,84.4 193.2,84.2 194.2,83.9 195.1,83.7 196.1,83.4 197.0,83.2 198.0,83.0 199.0,82.7 199.9,82.5 200.9,82.2 201.8,82.0 202.8,81.7 203.8,81.5 204.7,81.2 205.7,81.0 206.6,80.7 207.6,80.5 208.6,80.2 209.5,79.9 210.5,79.7 211.4,79.4 212.4,79.2 213.4,78.9 214.3,78.7 215.3,78.4 216.2,78.2 217.2,77.9 218.2,77.6 219.1,77.4 220.1,77.1 221.0,76.9 222.0,76.6 223.0,76.4 223.9,76.1 224.9,75.8 225.8,75.6 226.8,75.3 227.8,75.1 228.7,74.8 229.7,74.5 230.6,74.3 231.6,74.0 232.6,73.8 233.5,73.5 234.5,73.2 235.4,73.0 236.4,72.7 237.4,72.4 238.3,72.2 239.3,71.9 240.2,71.6 241.2,71.4 242.2,71.1 243.1,70.8 244.1,70.5 245.0,70.3 246.0,70.0 247.0,69.7 247.9,69.4 248.9,69.2 249.8,68.9 250.8,68.6 251.8,68.3 252.7,68.0 253.7,67.7 254.6,67.5 255.6,67.2 256.6,66.9 257.5,66.6 258.5,66.3 259.4,66.0 260.4,65.7 261.4,65.4 262.3,65.1 263.3,64.8 264.2,64.5 265.2,64.3 266.2,64.0 267.1,63.7 268.1,63.4 269.0,63.1 270.0,62.8 271.0,62.5 271.9,62.2 272.9,61.9 273.8,61.6 274.8,61.3 275.8,61.0 276.7,60.7 277.7,60.4 278.6,60.1 279.6,59.8 280.6,59.5 281.5,59.2 282.5,58.9 283.4,58.6 284.4,58.3 285.4,58.0 286.3,57.7 287.3,57.4 288.2,57.1 289.2,56.8 290.2,56.5 291.1,56.2 292.1,55.9 293.0,55.6 294.0,55.2 295.0,54.9 295.9,54.6 296.9,54.3 297.8,54.0 298.8,53.7 299.8,53.4 300.7,53.1 301.7,52.7 302.6,52.4 303.6,52.1 304.6,51.8 305.5,51.5 306.5,51.1 307.4,50.8 308.4,50.5 309.4,50.2 310.3,49.9 311.3,49.6 312.2,49.2 313.2,48.9 314.2,48.6 315.1,48.3 316.1,48.0 317.0,47.7 318.0,47.4 319.0,47.0 319.9,46.7 320.9,46.4 321.8,46.1 322.8,45.8 323.8,45.5 324.7,45.2 325.7,44.9 326.6,44.7 327.6,44.4 328.6,44.1 329.5,43.8 330.5,43.5 331.4,43.2 332.4,43.0 333.4,42.7 334.3,42.4 335.3,42.2 336.2,41.9 337.2,41.6 338.2,41.4 339.1,41.1 340.1,40.9 341.0,40.6 342.0,40.4"/>
<polyline points="54.0,205.0 55.0,205.1 55.9,205.0 56.9,204.9 57.8,204.7 58.8,204.4 59.8,204.1 60.7,203.7 61.7,203.2 62.6,202.7 63.6,202.2 64.6,201.6 65.5,200.9 66.5,200.1 67.4,199.3 68.4,198.5 69.4,197.6 70.3,196.7 71.3,195.7 72.2,194.7 73.2,193.7 74.2,192.7 75.1,191.7 76.1,190.7 77.0,189.6 78.0,188.5 79.0,187.4 79.9,186.2 80.9,185.0 81.8,183.8 82.8,182.5 83.8,181.3 84.7,180.0 85.7,178.7 86.6,177.5 87.6,176.2 88.6,174.9 89.5,173.6 90.5,172.3 91.4,171.0 92.4,169.7 93.4,168.5 94.3,167.2 95.3,165.9 96.2,164.6 97.2,163.3 98.2,162.0 99.1,160.7 100.1,159.4 101.0,158.1 102.0,156.8 103.0,155.5 103.9,154.2 104.9,152.9 105.8,151.5 106.8,150.2 107.8,148.9 108.7,147.5 109.7,146.2 110.6,144.9 111.6,143.5 112.6,142.2 113.5,140.9 114.5,139.5 115.4,138.2 116.4,136.9 117.4,135.5 118.3,134.2 119.3,132.8 120.2,131.5 121.2,130.2 122.2,128.9 123.1,127.6 124.1,126.5 125.0,125.5 126.0,124.4 127.0,123.2 127.9,121.9 128.9,120.6 129.8,119.4 130.8,118.1 131.8,116.9 132.7,115.7 133.7,114.6 134.6,113.4 135.6,112.4 136.6,111.4 137.5,110.4 138.5,109.5 139.4,108.7 140.4,107.9 141.4,107.1 142.3,106.3 143.3,105.5 144.2,104.8 145.2,104.0 146.2,103.3 147.1,102.6 148.1,101.9 149.0,101.2 150.0,100.6 151.0,100.0 151.9,99.4 152.9,98.8 153.8,98.3 154.8,97.7 155.8,97.2 156.7,96.8 157.7,96.3 158.6,95.9 159.6,95.4 160.6,95.0 161.5,94.6 162.5,94.2 163.4,93.8 164.4,93.5 165.4,93.1 166.3,92.8 167.3,92.4 168.2,92.1 169.2,91.8 170.2,91.5 171.1,91.2 172.1,90.9 173.0,90.7 174.0,90.4 175.0,90.1 175.9,89.9 176.9,89.6 177.8,89.4 178.8,89.1 179.8,88.9 180.7,88.6 181.7,88.4 182.6,88.2 183.6,87.9 184.6,87.7 185.5,87.4 186.5,87.2 187.4,87.0 188.4,86.7 189.4,86.5 190.3,86.2 191.3,86.0 192.2,85.8 193.2,85.5 194.2,85.3 195.1,85.0 196.1,84.8 197.0,84.5 198.0,84.3 199.0,84.1 199.9,83.8 200.9,83.6 201.8,83.3 202.8,83.1 203.8,82.8 204.7,82.6 205.7,82.3 206.6,82.1 207.6,81.8 208.6,81.6 209.5,81.3 210.5,81.0 211.4,80.8 212.4,80.5 213.4,80.3 214.3,80.0 215.3,79.8 216.2,79.5 217.2,79.3 218.2,79.0 219.1,78.7 220.1,78.5 221.0,78.2 222.0,78.0 223.0,77.7 223.9,77.5 224.9,77.2 225.8,76.9 226.8,76.7 227.8,76.4 228.7,76.2 229.7,75.9 230.6,75.6 231.6,75.4 232.6,75.1 233.5,74.8 234.5,74.6 235.4,74.3 236.4,74.0 237.4,73.8 238.3,73.5 239.3,73.2 240.2,73.0 241.2,72.7 242.2,72.4 243.1,72.2 244.1,71.9 245.0,71.6 246.0,71.3 247.0,71.1 247.9,70.8 248.9,70.5 249.8,70.2 250.8,69.9 251.8,69.7 252.7,69.4 253.7,69.1 254.6,68.8 255.6,68.5 256.6,68.2 257.5,67.9 258.5,67.7 259.4,67.4 260.4,67.1 261.4,66.8 262.3,66.5 263.3,66.2 264.2,65.9 265.2,65.6 266.2,65.3 267.1,65.0 268.1,64.7 269.0,64.4 270.0,64.1 271.0,63.8 271.9,63.5 272.9,63.2 273.8,62.9 274.8,62.6 275.8,62.3 276.7,62.0 277.7,61.7 278.6,61.4 279.6,61.2 280.6,60.9 281.5,60.6 282.5,60.3 283.4,60.0 284.4,59.7 285.4,59.4 286.3,59.1 287.3,58.7 288.2,58.4 289.2,58.1 290.2,57.8 291.1,57.5 292.1,57.2 293.0,56.9 294.0,56.6 295.0,56.3 295.9,56.0 296.9,55.7 297.8,55.4 298.8,55.0 299.8,54.7 300.7,54.4 301.7,54.1 302.6,53.8 303.6,53.5 304.6,53.1 305.5,52.8 306.5,52.5 307.4,52.2 308.4,51.9 309.4,51.5 310.3,51.2 311.3,50.9 312.2,50.6 313.2,50.3 314.2,50.0 315.1,49.6 316.1,49.3 317.0,49.0 318.0,48.7 319.0,48.4 319.9,48.1 320.9,47.8 321.8,47.5 322.8,47.2 323.8,46.9 324.7,46.6 325.7,46.3 326.6,46.0 327.6,45.7 328.6,45.4 329.5,45.2 330.5,44.9 331.4,44.6 332.4,44.3 333.4,44.0 334.3,43.8 335.3,43.5 336.2,43.2 337.2,43.0 338.2,42.7 339.1,42.5 340.1,42.2 341.0,42.0 342.0,41.7"/>
<polyline points="54.0,205.0 55.0,205.1 55.9,205.0 56.9,204.9 57.8,204.7 58.8,204.4 59.8,204.1 60.7,203.7 61.7,203.2 62.6,202.7 63.6,202.2 64.6,201.6 65.5,200.9 66.5,200.1 67.4,199.3 68.4,198.5 69.4,197.6 70.3,196.7 71.3,195.7 72.2,194.7 73.2,193.7 74.2,192.7 75.1,191.7 76.1,190.7 77.0,189.6 78.0,188.5 79.0,187.4 79.9,186.2 80.9,185.0 81.8,183.8 82.8,182.5 83.8,181.3 84.7,180.0 85.7,178.7 86.6,177.5 87.6,176.2 88.6,174.9 89.5,173.6 90.5,172.3 91.4,171.0 92.4,169.7 93.4,168.5 94.3,167.2 95.3,165.9 96.2,164.6 97.2,163.3 98.2,162.0 99.1,160.7 100.1,159.4 101.0,158.1 102.0,156.8 103.0,155.5 103.9,154.2 104.9,152.9 105.8,151.5 106.8,150.2 107.8,148.9 108.7,147.5 109.7,146.2 110.6,144.9 111.6,143.5 112.6,142.2 113.5,140.9 114.5,139.5 115.4,138.2 116.4,136.9 117.4,135.5 118.3,134.2 119.3,132.8 120.2,131.5 121.2,130.2 122.2,128.9 123.1,127.6 124.1,126.5 125.0,125.5 126.0,124.4 127.0,123.2 127.9,121.9 128.9,120.6 129.8,119.4 130.8,118.2 131.8,117.0 132.7,115.8 133.7,114.6 134.6,113.6 135.6,112.5 136.6,111.5 137.5,110.6 138.5,109.8 139.4,108.9 140.4,108.2 141.4,107.4 142.3,106.7 143.3,105.9 144.2,105.2 145.2,104.5 146.2,103.8 147.1,103.1 148.1,102.5 149.0,101.9 150.0,101.3 151.0,100.7 151.9,100.1 152.9,99.6 153.8,99.1 154.8,98.6 155.8,98.2 156.7,97.7 157.7,97.3 158.6,96.9 159.6,96.5 160.6,96.1 161.5,95.7 162.5,95.4 163.4,95.0 164.4,94.7 165.4,94.3 166.3,94.0 167.3,93.7 168.2,93.4 169.2,93.1 170.2,92.8 171.1,92.6 172.1,92.3 173.0,92.0 174.0,91.8 175.0,91.5 175.9,91.2 176.9,91.0 177.8,90.7 178.8,90.5 179.8,90.2 180.7,90.0 181.7,89.7 182.6,89.5 183.6,89.3 184.6,89.0 185.5,88.8 186.5,88.5 187.4,88.3 188.4,88.1 189.4,87.8 190.3,87.6 191.3,87.4 192.2,87.1 193.2,86.9 194.2,86.6 195.1,86.4 196.1,86.1 197.0,85.9 198.0,85.7 199.0,85.4 199.9,85.2 200.9,84.9 201.8,84.7 202.8,84.4 203.8,84.2 204.7,83.9 205.7,83.7 206.6,83.4 207.6,83.2 208.6,82.9 209.5,82.6 210.5,82.4 211.4,82.1 212.4,81.9 213.4,81.6 214.3,81.4 215.3,81.1 216.2,80.9 217.2,80.6 218.2,80.3 219.1,80.1 220.1,79.8 221.0,79.6 222.0,79.3 223.0,79.1 223.9,78.8 224.9,78.5 225.8,78.3 226.8,78.0 227.8,77.8 228.7,77.5 229.7,77.2 230.6,77.0 231.6,76.7 232.6,76.5 233.5,76.2 234.5,75.9 235.4,75.7 236.4,75.4 237.4,75.1 238.3,74.9 239.3,74.6 240.2,74.3 241.2,74.1 242.2,73.8 243.1,73.5 244.1,73.2 245.0,73.0 246.0,72.7 247.0,72.4 247.9,72.1 248.9,71.9 249.8,71.6 250.8,71.3 251.8,71.0 252.7,70.7 253.7,70.4 254.6,70.2 255.6,69.9 256.6,69.6 257.5,69.3 258.5,69.0 259.4,68.7 260.4,68.4 261.4,68.1 262.3,67.8 263.3,67.5 264.2,67.2 265.2,67.0 266.2,66.7 267.1,66.4 268.1,66.1 269.0,65.8 270.0,65.5 271.0,65.2 271.9,64.9 272.9,64.6 273.8,64.3 274.8,64.0 275.8,63.7 276.7,63.4 277.7,63.1 278.6,62.8 279.6,62.5 280.6,62.2 281.5,61.9 282.5,61.6 283.4,61.3 284.4,61.0 285.4,60.7 286.3,60.4 287.3,60.1 288.2,59.8 289.2,59.5 290.2,59.2 291.1,58.9 292.1,58.6 293.0,58.3 294.0,57.9 295.0,57.6 295.9,57.3 296.9,57.0 297.8,56.7 298.8,56.4 299.8,56.1 300.7,55.8 301.7,55.4 302.6,55.1 303.6,54.8 304.6,54.5 305.5,54.2 306.5,53.8 307.4,53.5 308.4,53.2 309.4,52.9 310.3,52.6 311.3,52.3 312.2,51.9 313.2,51.6 314.2,51.3 315.1,51.0 316.1,50.7 317.0,50.4 318.0,50.1 319.0,49.7 319.9,49.4 320.9,49.1 321.8,48.8 322.8,48.5 323.8,48.2 324.7,47.9 325.7,47.6 326.6,47.4 327.6,47.1 328.6,46.8 329.5,46.5 330.5,46.2 331.4,45.9 332.4,45.7 333.4,45.4 334.3,45.1 335.3,44.9 336.2,44.6 337.2,44.3 338.2,44.1 339.1,43.8 340.1,43.6 341.0,43.3 342.0,43.1"/>
<polyline points="54.0,205.0 55.0,205.1 55.9,205.0 56.9,204.9 57.8,204.7 58.8,204.4 59.8,204.1 60.7,203.7 61.7,203.2 62.6,202.7 63.6,202.2 64.6,201.6 65.5,200.9 66.5,200.1 67.4,199.3 68.4,198.5 69.4,197.6 70.3,196.7 71.3,195.7 72.2,194.7 73.2,193.7 74.2,192.7 75.1,191.7 76.1,190.7 77.0,189.6 78.0,188.5 79.0,187.4 79.9,186.2 80.9,185.0 81.8,183.8 82.8,182.5 83.8,181.3 84.7,180.0 85.7,178.7 86.6,177.5 87.6,176.2 88.6,174.9 89.5,173.6 90.5,172.3 91.4,171.0 92.4,169.7 93.4,168.5 94.3,167.2 95.3,165.9 96.2,164.6 97.2,163.3 98.2,162.0 99.1,160.7 100.1,159.4 101.0,158.1 102.0,156.8 103.0,155.5 103.9,154.2 104.9,152.9 105.8,151.5 106.8,150.2 107.8,148.9 108.7,147.5 109.7,146.2 110.6,144.9 111.6,143.5 112.6,142.2 113.5,140.9 114.5,139.5 115.4,138.2 116.4,136.9 117.4,135.5 118.3,134.2 119.3,132.8 120.2,131.5 121.2,130.2 122.2,128.9 123.1,127.6 124.1,126.5 125.0,125.5 126.0,124.4 127.0,123.2 127.9,121.9 128.9,120.7 129.8,119.4 130.8,118.2 131.8,117.0 132.7,115.9 133.7,114.7 134.6,113.7 135.6,112.7 136.6,111.7 137.5,110.8 138.5,110.0 139.4,109.2 140.4,108.4 141.4,107.7 142.3,107.0 143.3,106.3 144.2,105.7 145.2,105.0 146.2,104.3 147.1,103.7 148.1,103.1 149.0,102.5 150.0,101.9 151.0,101.4 151.9,100.9 152.9,100.4 153.8,99.9 154.8,99.5 155.8,99.1 156.7,98.7 157.7,98.3 158.6,97.9 159.6,97.5 160.6,97.2 161.5,96.8 162.5,96.5 163.4,96.2 164.4,95.9 165.4,95.6 166.3,95.3 167.3,95.0 168.2,94.7 169.2,94.4 170.2,94.2 171.1,93.9 172.1,93.6 173.0,93.4 174.0,93.1 175.0,92.8 175.9,92.6 176.9,92.3 177.8,92.1 178.8,91.8 179.8,91.6 180.7,91.3 181.7,91.1 182.6,90.9 183.6,90.6 184.6,90.4 185.5,90.1 186.5,89.9 187.4,89.7 188.4,89.4 189.4,89.2 190.3,88.9 191.3,88.7 192.2,88.5 193.2,88.2 194.2,88.0 195.1,87.7 196.1,87.5 197.0,87.2 198.0,87.0 199.0,86.8 199.9,86.5 200.9,86.3 201.8,86.0 202.8,85.8 203.8,85.5 204.7,85.3 205.7,85.0 206.6,84.8 207.6,84.5 208.6,84.3 209.5,84.0 210.5,83.7 211.4,83.5 212.4,83.2 213.4,83.0 214.3,82.7 215.3,82.5 216.2,82.2 217.2,82.0 218.2,81.7 219.1,81.4 220.1,81.2 221.0,80.9 222.0,80.7 223.0,80.4 223.9,80.2 224.9,79.9 225.8,79.6 226.8,79.4 227.8,79.1 228.7,78.9 229.7,78.6 230.6,78.3 231.6,78.1 232.6,77.8 233.5,77.5 234.5,77.3 235.4,77.0 236.4,76.7 237.4,76.5 238.3,76.2 239.3,75.9 240.2,75.7 241.2,75.4 242.2,75.1 243.1,74.9 244.1,74.6 245.0,74.3 246.0,74.0 247.0,73.8 247.9,73.5 248.9,73.2 249.8,72.9 250.8,72.6 251.8,72.4 252.7,72.1 253.7,71.8 254.6,71.5 255.6,71.2 256.6,70.9 257.5,70.6 258.5,70.4 259.4,70.1 260.4,69.8 261.4,69.5 262.3,69.2 263.3,68.9 264.2,68.6 265.2,68.3 266.2,68.0 267.1,67.7 268.1,67.4 269.0,67.1 270.0,66.8 271.0,66.5 271.9,66.2 272.9,65.9 273.8,65.6 274.8,65.3 275.8,65.0 276.7,64.7 277.7,64.4 278.6,64.1 279.6,63.9 280.6,63.6 281.5,63.3 282.5,63.0 283.4,62.7 284.4,62.4 285.4,62.1 286.3,61.8 287.3,61.4 288.2,61.1 289.2,60.8 290.2,60.5 291.1,60.2 292.1,59.9 293.0,59.6 294.0,59.3 295.0,59.0 295.9,58.7 296.9,58.4 297.8,58.1 298.8,57.7 299.8,57.4 300.7,57.1 301.7,56.8 302.6,56.5 303.6,56.2 304.6,55.8 305.5,55.5 306.5,55.2 307.4,54.9 308.4,54.6 309.4,54.2 310.3,53.9 311.3,53.6 312.2,53.3 313.2,53.0 314.2,52.7 315.1,52.3 316.1,52.0 317.0,51.7 318.0,51.4 319.0,51.1 319.9,50.8 320.9,50.5 321.8,50.2 322.8,49.9 323.8,49.6 324.7,49.3 325.7,49.0 326.6,48.7 327.6,48.4 328.6,48.1 329.5,47.9 330.5,47.6 331.4,47.3 332.4,47.0 333.4,46.7 334.3,46.5 335.3,46.2 336.2,45.9 337.2,45.7 338.2,45.4 339.1,45.2 340.1,44.9 341.0,44.7 342.0,44.4"/>
</g>
<g fill="none" stroke="#d7301f" stroke-width="1.2" stroke-opacity="1.0" stroke-linejoin="round" clip-path="url(#ctop)">
<polyline points="54.0,205.0 55.0,205.1 55.9,205.0 56.9,204.9 57.8,204.7 58.8,204.4 59.8,204.1 60.7,203.7 61.7,203.2 62.6,202.7 63.6,202.2 64.6,201.6 65.5,200.9 66.5,200.1 67.4,199.3 68.4,198.5 69.4,197.6 70.3,196.7 71.3,195.7 72.2,194.7 73.2,193.7 74.2,192.7 75.1,191.7 76.1,190.7 77.0,189.6 78.0,188.5 79.0,187.4 79.9,186.2 80.9,185.0 81.8,183.8 82.8,182.5 83.8,181.3 84.7,180.0 85.7,178.7 86.6,177.5 87.6,176.2 88.6,174.9 89.5,173.6 90.5,172.3 91.4,171.0 92.4,169.7 93.4,168.5 94.3,167.2 95.3,165.9 96.2,164.6 97.2,163.3 98.2,162.0 99.1,160.7 100.1,159.4 101.0,158.1 102.0,156.8 103.0,155.5 103.9,154.2 104.9,152.9 105.8,151.5 106.8,150.2 107.8,148.9 108.7,147.5 109.7,146.2 110.6,144.9 111.6,143.5 112.6,142.2 113.5,140.9 114.5,139.5 115.4,138.2 116.4,136.9 117.4,135.5 118.3,134.2 119.3,132.8 120.2,131.5 121.2,130.2 122.2,128.9 123.1,127.6 124.1,126.5 125.0,125.5 126.0,124.4 127.0,123.2 127.9,121.9 128.9,120.6 129.8,119.4 130.8,118.1 131.8,116.9 132.7,115.7 133.7,114.6 134.6,113.5 135.6,112.4 136.6,111.5 137.5,110.5 138.5,109.6 139.4,108.8 140.4,108.0 141.4,107.2 142.3,106.5 143.3,105.7 144.2,105.0 145.2,104.3 146.2,103.5 147.1,102.9 148.1,102.2 149.0,101.5 150.0,100.9 151.0,100.3 151.9,99.8 152.9,99.2 153.8,98.7 154.8,98.2 155.8,97.7 156.7,97.2 157.7,96.8 158.6,96.4 159.6,95.9 160.6,95.5 161.5,95.2 162.5,94.8 163.4,94.4 164.4,94.1 165.4,93.7 166.3,93.4 167.3,93.1 168.2,92.8 169.2,92.5 170.2,92.2 171.1,91.9 172.1,91.6 173.0,91.3 174.0,91.1 175.0,90.8 175.9,90.6 176.9,90.3 177.8,90.1 178.8,89.8 179.8,89.6 180.7,89.3 181.7,89.1 182.6,88.8 183.6,88.6 184.6,88.4 185.5,88.1 186.5,87.9 187.4,87.6 188.4,87.4 189.4,87.2 190.3,86.9 191.3,86.7 192.2,86.4 193.2,86.2 194.2,86.0 195.1,85.7 196.1,85.5 197.0,85.2 198.0,85.0 199.0,84.7 199.9,84.5 200.9,84.2 201.8,84.0 202.8,83.7 203.8,83.5 204.7,83.2 205.7,83.0 206.6,82.7 207.6,82.5 208.6,82.2 209.5,82.0 210.5,81.7 211.4,81.5 212.4,81.2 213.4,81.0 214.3,80.7 215.3,80.4 216.2,80.2 217.2,79.9 218.2,79.7 219.1,79.4 220.1,79.2 221.0,78.9 222.0,78.6 223.0,78.4 223.9,78.1 224.9,77.9 225.8,77.6 226.8,77.3 227.8,77.1 228.7,76.8 229.7,76.6 230.6,76.3 231.6,76.0 232.6,75.8 233.5,75.5 234.5,75.3 235.4,75.0 236.4,74.7 237.4,74.5 238.3,74.2 239.3,73.9 240.2,73.7 241.2,73.4 242.2,73.1 243.1,72.8 244.1,72.6 245.0,72.3 246.0,72.0 247.0,71.7 247.9,71.5 248.9,71.2 249.8,70.9 250.8,70.6 251.8,70.3 252.7,70.1 253.7,69.8 254.6,69.5 255.6,69.2 256.6,68.9 257.5,68.6 258.5,68.3 259.4,68.0 260.4,67.7 261.4,67.5 262.3,67.2 263.3,66.9 264.2,66.6 265.2,66.3 266.2,66.0 267.1,65.7 268.1,65.4 269.0,65.1 270.0,64.8 271.0,64.5 271.9,64.2 272.9,63.9 273.8,63.6 274.8,63.3 275.8,63.0 276.7,62.7 277.7,62.4 278.6,62.1 279.6,61.8 280.6,61.5 281.5,61.2 282.5,60.9 283.4,60.6 284.4,60.3 285.4,60.0 286.3,59.7 287.3,59.4 288.2,59.1 289.2,58.8 290.2,58.5 291.1,58.2 292.1,57.9 293.0,57.6 294.0,57.3 295.0,57.0 295.9,56.7 296.9,56.3 297.8,56.0 298.8,55.7 299.8,55.4 300.7,55.1 301.7,54.8 302.6,54.4 303.6,54.1 304.6,53.8 305.5,53.5 306.5,53.2 307.4,52.9 308.4,52.5 309.4,52.2 310.3,51.9 311.3,51.6 312.2,51.3 313.2,50.9 314.2,50.6 315.1,50.3 316.1,50.0 317.0,49.7 318.0,49.4 319.0,49.1 319.9,48.8 320.9,48.5 321.8,48.2 322.8,47.9 323.8,47.6 324.7,47.3 325.7,47.0 326.6,46.7 327.6,46.4 328.6,46.1 329.5,45.8 330.5,45.5 331.4,45.3 332.4,45.0 333.4,44.7 334.3,44.5 335.3,44.2 336.2,43.9 337.2,43.7 338.2,43.4 339.1,43.1 340.1,42.9 341.0,42.6 342.0,42.4"/>
</g>
<line x1="126.00" y1="209.00" x2="126.00" y2="124.43" stroke="#000" stroke-width="2.1" stroke-dasharray="8.33 8.33"/>
<g fill="none" stroke="#fdcc8a" stroke-width="1.8" stroke-opacity="0.6" stroke-linejoin="round" clip-path="url(#cbot)">
<polyline points="54.0,311.4 55.0,305.7 55.9,301.0 56.9,297.0 57.8,293.2 58.8,289.6 59.8,285.9 60.7,282.2 61.7,278.6 62.6,275.0 63.6,271.5 64.6,268.2 65.5,265.0 66.5,262.0 67.4,259.2 68.4,256.5 69.4,254.0 70.3,251.6 71.3,249.4 72.2,247.4 73.2,245.5 74.2,243.7 75.1,242.0 76.1,240.5 77.0,239.1 78.0,237.8 79.0,236.6 79.9,235.6 80.9,234.6 81.8,233.7 82.8,232.9 83.8,232.2 84.7,231.5 85.7,230.9 86.6,230.4 87.6,229.9 88.6,229.4 89.5,229.1 90.5,228.7 91.4,228.5 92.4,228.3 93.4,228.1 94.3,228.0 95.3,228.0 96.2,228.0 97.2,228.1 98.2,228.2 99.1,228.5 100.1,228.8 101.0,229.2 102.0,229.7 103.0,230.3 103.9,230.9 104.9,231.7 105.8,232.5 106.8,233.4 107.8,234.5 108.7,235.6 109.7,236.8 110.6,238.1 111.6,239.5 112.6,241.0 113.5,242.5 114.5,244.2 115.4,245.9 116.4,247.8 117.4,249.8 118.3,251.9 119.3,254.1 120.2,256.5 121.2,259.0 122.2,261.6 123.1,264.4 124.1,267.2 125.0,269.9 126.0,272.5 127.0,275.0 127.9,277.4 128.9,279.6 129.8,281.5 130.8,283.3 131.8,284.9 132.7,286.2 133.7,287.4 134.6,288.4 135.6,289.3 136.6,290.1 137.5,290.7 138.5,291.3 139.4,291.9 140.4,292.3 141.4,292.7 142.3,293.1 143.3,293.5 144.2,293.8 145.2,294.1 146.2,294.3 147.1,294.6 148.1,294.8 149.0,294.9 150.0,295.1 151.0,295.3 151.9,295.4 152.9,295.5 153.8,295.6 154.8,295.7 155.8,295.8 156.7,295.9 157.7,296.0 158.6,296.1 159.6,296.1 160.6,296.2 161.5,296.2 162.5,296.3 163.4,296.3 164.4,296.3 165.4,296.4 166.3,296.4 167.3,296.4 168.2,296.4 169.2,296.4 170.2,296.2 171.1,296.0 172.1,295.8 173.0,295.8 174.0,295.7 175.0,295.8 175.9,296.0 176.9,296.2 177.8,296.5 178.8,296.7 179.8,296.9 180.7,297.1 181.7,297.2 182.6,297.3 183.6,297.3 184.6,297.3 185.5,297.3 186.5,297.3 187.4,297.2 188.4,297.1 189.4,297.0 190.3,297.0 191.3,296.9 192.2,296.8 193.2,296.7 194.2,296.6 195.1,296.5 196.1,296.4 197.0,296.3 198.0,296.2 199.0,296.1 199.9,296.1 200.9,296.0 201.8,295.9 202.8,295.8 203.8,295.7 204.7,295.7 205.7,295.6 206.6,295.5 207.6,295.5 208.6,295.4 209.5,295.4 210.5,295.3 211.4,295.3 212.4,295.2 213.4,295.2 214.3,295.2 215.3,295.2 216.2,295.3 217.2,295.3 218.2,295.4 219.1,295.4 220.1,295.5 221.0,295.6 222.0,295.6 223.0,295.7 223.9,295.7 224.9,295.7 225.8,295.7 226.8,295.7 227.8,295.7 228.7,295.7 229.7,295.6 230.6,295.6 231.6,295.6 232.6,295.5 233.5,295.5 234.5,295.4 235.4,295.4 236.4,295.4 237.4,295.3 238.3,295.3 239.3,295.2 240.2,295.2 241.2,295.1 242.2,295.1 243.1,295.0 244.1,294.9 245.0,294.9 246.0,294.8 247.0,294.8 247.9,294.7 248.9,294.6 249.8,294.6 250.8,294.5 251.8,294.4 252.7,294.3 253.7,294.1 254.6,293.9 255.6,293.7 256.6,293.5 257.5,293.2 258.5,293.0 259.4,292.8 260.4,292.6 261.4,292.4 262.3,292.2 263.3,291.9 264.2,291.7 265.2,291.5 266.2,291.3 267.1,291.1 268.1,290.9 269.0,290.8 270.0,290.7 271.0,290.6 271.9,290.6 272.9,290.7 273.8,290.7 274.8,290.8 275.8,291.0 276.7,291.1 277.7,291.3 278.6,291.5 279.6,291.6 280.6,291.8 281.5,292.0 282.5,292.3 283.4,292.6 284.4,292.9 285.4,293.1 286.3,293.3 287.3,293.5 288.2,293.6 289.2,293.6 290.2,293.6 291.1,293.5 292.1,293.3 293.0,293.1 294.0,292.9 295.0,292.7 295.9,292.4 296.9,292.2 297.8,291.9 298.8,291.6 299.8,291.3 300.7,291.0 301.7,290.7 302.6,290.4 303.6,290.1 304.6,289.9 305.5,289.8 306.5,289.8 307.4,289.8 308.4,289.9 309.4,290.0 310.3,290.1 311.3,290.3 312.2,290.4 313.2,290.6 314.2,290.8 315.1,291.0 316.1,291.1 317.0,291.4 318.0,291.6 319.0,291.9 319.9,292.1 320.9,292.4 321.8,292.7 322.8,293.0 323.8,293.2 324.7,293.4 325.7,293.6 326.6,293.8 327.6,293.9 328.6,294.0 329.5,294.1 330.5,294.1 331.4,294.2 332.4,294.3 333.4,294.4 334.3,294.5 335.3,294.6 336.2,294.7 337.2,294.7 338.2,294.8 339.1,294.9 340.1,295.0 341.0,295.1 342.0,295.1"/>
<polyline points="54.0,311.5 55.0,305.8 55.9,301.2 56.9,297.2 57.8,293.4 58.8,289.7 59.8,286.1 60.7,282.4 61.7,278.8 62.6,275.2 63.6,271.7 64.6,268.4 65.5,265.2 66.5,262.2 67.4,259.4 68.4,256.7 69.4,254.2 70.3,251.9 71.3,249.7 72.2,247.7 73.2,245.8 74.2,244.0 75.1,242.4 76.1,240.9 77.0,239.5 78.0,238.2 79.0,237.0 79.9,236.0 80.9,235.0 81.8,234.2 82.8,233.4 83.8,232.7 84.7,232.0 85.7,231.5 86.6,230.9 87.6,230.5 88.6,230.1 89.5,229.7 90.5,229.4 91.4,229.1 92.4,228.9 93.4,228.8 94.3,228.7 95.3,228.6 96.2,228.7 97.2,228.8 98.2,228.9 99.1,229.2 100.1,229.5 101.0,229.9 102.0,230.4 103.0,230.9 103.9,231.6 104.9,232.3 105.8,233.1 106.8,234.0 107.8,235.0 108.7,236.2 109.7,237.3 110.6,238.6 111.6,240.0 112.6,241.4 113.5,243.0 114.5,244.6 115.4,246.3 116.4,248.2 117.4,250.1 118.3,252.2 119.3,254.4 120.2,256.8 121.2,259.3 122.2,261.9 123.1,264.7 124.1,267.4 125.0,270.1 126.0,272.8 127.0,275.3 127.9,277.6 128.9,279.8 129.8,281.7 130.8,283.5 131.8,285.0 132.7,286.4 133.7,287.6 134.6,288.6 135.6,289.5 136.6,290.2 137.5,290.9 138.5,291.5 139.4,292.0 140.4,292.5 141.4,292.9 142.3,293.3 143.3,293.6 144.2,293.9 145.2,294.2 146.2,294.5 147.1,294.7 148.1,294.9 149.0,295.1 150.0,295.3 151.0,295.4 151.9,295.5 152.9,295.7 153.8,295.8 154.8,295.9 155.8,296.0 156.7,296.1 157.7,296.1 158.6,296.2 159.6,296.3 160.6,296.3 161.5,296.4 162.5,296.4 163.4,296.5 164.4,296.5 165.4,296.5 166.3,296.5 167.3,296.6 168.2,296.6 169.2,296.6 170.2,296.3 171.1,296.1 172.1,296.0 173.0,295.9 174.0,295.9 175.0,296.0 175.9,296.1 176.9,296.3 177.8,296.6 178.8,296.9 179.8,297.1 180.7,297.3 181.7,297.4 182.6,297.5 183.6,297.5 184.6,297.5 185.5,297.4 186.5,297.4 187.4,297.3 188.4,297.3 189.4,297.2 190.3,297.1 191.3,297.0 192.2,296.9 193.2,296.8 194.2,296.7 195.1,296.6 196.1,296.5 197.0,296.5 198.0,296.4 199.0,296.3 199.9,296.2 200.9,296.1 201.8,296.0 202.8,296.0 203.8,295.9 204.7,295.8 205.7,295.8 206.6,295.7 207.6,295.6 208.6,295.6 209.5,295.5 210.5,295.5 211.4,295.4 212.4,295.4 213.4,295.4 214.3,295.4 215.3,295.4 216.2,295.4 217.2,295.5 218.2,295.5 219.1,295.6 220.1,295.7 221.0,295.7 222.0,295.8 223.0,295.8 223.9,295.9 224.9,295.9 225.8,295.9 226.8,295.9 227.8,295.8 228.7,295.8 229.7,295.8 230.6,295.7 231.6,295.7 232.6,295.7 233.5,295.6 234.5,295.6 235.4,295.5 236.4,295.5 237.4,295.5 238.3,295.4 239.3,295.4 240.2,295.3 241.2,295.3 242.2,295.2 243.1,295.1 244.1,295.1 245.0,295.0 246.0,295.0 247.0,294.9 247.9,294.9 248.9,294.8 249.8,294.7 250.8,294.7 251.8,294.6 252.7,294.5 253.7,294.3 254.6,294.1 255.6,293.9 256.6,293.6 257.5,293.4 258.5,293.1 259.4,292.9 260.4,292.7 261.4,292.5 262.3,292.3 263.3,292.1 264.2,291.9 265.2,291.7 266.2,291.4 267.1,291.2 268.1,291.1 269.0,290.9 270.0,290.8 271.0,290.8 271.9,290.8 272.9,290.8 273.8,290.9 274.8,291.0 275.8,291.1 276.7,291.3 277.7,291.4 278.6,291.6 279.6,291.8 280.6,291.9 281.5,292.2 282.5,292.4 283.4,292.7 284.4,293.0 285.4,293.3 286.3,293.5 287.3,293.7 288.2,293.8 289.2,293.8 290.2,293.7 291.1,293.6 292.1,293.5 293.0,293.3 294.0,293.1 295.0,292.8 295.9,292.6 296.9,292.3 297.8,292.1 298.8,291.8 299.8,291.5 300.7,291.1 301.7,290.8 302.6,290.5 303.6,290.3 304.6,290.1 305.5,290.0 306.5,289.9 307.4,290.0 308.4,290.0 309.4,290.1 310.3,290.2 311.3,290.4 312.2,290.6 313.2,290.8 314.2,290.9 315.1,291.1 316.1,291.3 317.0,291.5 318.0,291.8 319.0,292.0 319.9,292.3 320.9,292.6 321.8,292.9 322.8,293.1 323.8,293.4 324.7,293.6 325.7,293.8 326.6,293.9 327.6,294.0 328.6,294.1 329.5,294.2 330.5,294.3 331.4,294.4 332.4,294.5 333.4,294.6 334.3,294.6 335.3,294.7 336.2,294.8 337.2,294.9 338.2,295.0 339.1,295.1 340.1,295.1 341.0,295.2 342.0,295.3"/>
<polyline points="54.0,311.7 55.0,306.0 55.9,301.4 56.9,297.3 57.8,293.6 58.8,289.9 59.8,286.3 60.7,282.6 61.7,278.9 62.6,275.4 63.6,271.9 64.6,268.6 65.5,265.4 66.5,262.4 67.4,259.6 68.4,257.0 69.4,254.5 70.3,252.2 71.3,250.0 72.2,248.0 73.2,246.1 74.2,244.3 75.1,242.7 76.1,241.2 77.0,239.8 78.0,238.6 79.0,237.5 79.9,236.4 80.9,235.5 81.8,234.6 82.8,233.9 83.8,233.2 84.7,232.6 85.7,232.0 86.6,231.5 87.6,231.1 88.6,230.7 89.5,230.3 90.5,230.0 91.4,229.8 92.4,229.6 93.4,229.5 94.3,229.4 95.3,229.3 96.2,229.4 97.2,229.5 98.2,229.6 99.1,229.9 100.1,230.2 101.0,230.6 102.0,231.0 103.0,231.6 103.9,232.2 104.9,232.9 105.8,233.7 106.8,234.6 107.8,235.6 108.7,236.7 109.7,237.9 110.6,239.1 111.6,240.5 112.6,241.9 113.5,243.4 114.5,245.0 115.4,246.7 116.4,248.6 117.4,250.5 118.3,252.6 119.3,254.8 120.2,257.1 121.2,259.6 122.2,262.2 123.1,264.9 124.1,267.7 125.0,270.4 126.0,273.0 127.0,275.5 127.9,277.8 128.9,280.0 129.8,281.9 130.8,283.7 131.8,285.2 132.7,286.6 133.7,287.7 134.6,288.8 135.6,289.6 136.6,290.4 137.5,291.1 138.5,291.7 139.4,292.2 140.4,292.6 141.4,293.1 142.3,293.4 143.3,293.8 144.2,294.1 145.2,294.4 146.2,294.6 147.1,294.9 148.1,295.1 149.0,295.2 150.0,295.4 151.0,295.6 151.9,295.7 152.9,295.8 153.8,295.9 154.8,296.0 155.8,296.1 156.7,296.2 157.7,296.3 158.6,296.4 159.6,296.4 160.6,296.5 161.5,296.5 162.5,296.6 163.4,296.6 164.4,296.6 165.4,296.7 166.3,296.7 167.3,296.7 168.2,296.7 169.2,296.7 170.2,296.5 171.1,296.3 172.1,296.1 173.0,296.1 174.0,296.0 175.0,296.1 175.9,296.3 176.9,296.5 177.8,296.8 178.8,297.0 179.8,297.2 180.7,297.4 181.7,297.5 182.6,297.6 183.6,297.6 184.6,297.6 185.5,297.6 186.5,297.6 187.4,297.5 188.4,297.4 189.4,297.3 190.3,297.3 191.3,297.2 192.2,297.1 193.2,297.0 194.2,296.9 195.1,296.8 196.1,296.7 197.0,296.6 198.0,296.5 199.0,296.4 199.9,296.4 200.9,296.3 201.8,296.2 202.8,296.1 203.8,296.0 204.7,296.0 205.7,295.9 206.6,295.8 207.6,295.8 208.6,295.7 209.5,295.7 210.5,295.6 211.4,295.6 212.4,295.5 213.4,295.5 214.3,295.5 215.3,295.5 216.2,295.6 217.2,295.6 218.2,295.7 219.1,295.7 220.1,295.8 221.0,295.9 222.0,295.9 223.0,296.0 223.9,296.0 224.9,296.0 225.8,296.0 226.8,296.0 227.8,296.0 228.7,296.0 229.7,295.9 230.6,295.9 231.6,295.9 232.6,295.8 233.5,295.8 234.5,295.7 235.4,295.7 236.4,295.7 237.4,295.6 238.3,295.6 239.3,295.5 240.2,295.5 241.2,295.4 242.2,295.4 243.1,295.3 244.1,295.2 245.0,295.2 246.0,295.1 247.0,295.1 247.9,295.0 248.9,294.9 249.8,294.9 250.8,294.8 251.8,294.7 252.7,294.6 253.7,294.4 254.6,294.2 255.6,294.0 256.6,293.8 257.5,293.5 258.5,293.3 259.4,293.1 260.4,292.9 261.4,292.7 262.3,292.5 263.3,292.2 264.2,292.0 265.2,291.8 266.2,291.6 267.1,291.4 268.1,291.2 269.0,291.1 270.0,291.0 271.0,290.9 271.9,290.9 272.9,291.0 273.8,291.0 274.8,291.1 275.8,291.3 276.7,291.4 277.7,291.6 278.6,291.8 279.6,291.9 280.6,292.1 281.5,292.3 282.5,292.6 283.4,292.9 284.4,293.2 285.4,293.4 286.3,293.6 287.3,293.8 288.2,293.9 289.2,293.9 290.2,293.9 291.1,293.8 292.1,293.6 293.0,293.4 294.0,293.2 295.0,293.0 295.9,292.7 296.9,292.5 297.8,292.2 298.8,291.9 299.8,291.6 300.7,291.3 301.7,291.0 302.6,290.7 303.6,290.4 304.6,290.2 305.5,290.1 306.5,290.1 307.4,290.1 308.4,290.2 309.4,290.3 310.3,290.4 311.3,290.6 312.2,290.7 313.2,290.9 314.2,291.1 315.1,291.3 316.1,291.4 317.0,291.7 318.0,291.9 319.0,292.2 319.9,292.4 320.9,292.7 321.8,293.0 322.8,293.3 323.8,293.5 324.7,293.7 325.7,293.9 326.6,294.1 327.6,294.2 328.6,294.3 329.5,294.4 330.5,294.4 331.4,294.5 332.4,294.6 333.4,294.7 334.3,294.8 335.3,294.9 336.2,295.0 337.2,295.0 338.2,295.1 339.1,295.2 340.1,295.3 341.0,295.4 342.0,295.4"/>
<polyline points="54.0,311.8 55.0,306.2 55.9,301.5 56.9,297.5 57.8,293.7 58.8,290.1 59.8,286.4 60.7,282.8 61.7,279.1 62.6,275.5 63.6,272.1 64.6,268.8 65.5,265.6 66.5,262.7 67.4,259.9 68.4,257.2 69.4,254.7 70.3,252.4 71.3,250.3 72.2,248.2 73.2,246.4 74.2,244.6 75.1,243.0 76.1,241.6 77.0,240.2 78.0,239.0 79.0,237.9 79.9,236.9 80.9,235.9 81.8,235.1 82.8,234.4 83.8,233.7 84.7,233.1 85.7,232.6 86.6,232.1 87.6,231.7 88.6,231.3 89.5,231.0 90.5,230.7 91.4,230.4 92.4,230.3 93.4,230.1 94.3,230.1 95.3,230.0 96.2,230.1 97.2,230.2 98.2,230.3 99.1,230.6 100.1,230.9 101.0,231.3 102.0,231.7 103.0,232.2 103.9,232.9 104.9,233.6 105.8,234.4 106.8,235.2 107.8,236.2 108.7,237.3 109.7,238.4 110.6,239.7 111.6,241.0 112.6,242.4 113.5,243.9 114.5,245.5 115.4,247.1 116.4,248.9 117.4,250.9 118.3,252.9 119.3,255.1 120.2,257.4 121.2,259.9 122.2,262.5 123.1,265.2 124.1,267.9 125.0,270.6 126.0,273.2 127.0,275.7 127.9,278.0 128.9,280.2 129.8,282.1 130.8,283.9 131.8,285.4 132.7,286.8 133.7,287.9 134.6,288.9 135.6,289.8 136.6,290.6 137.5,291.2 138.5,291.8 139.4,292.3 140.4,292.8 141.4,293.2 142.3,293.6 143.3,293.9 144.2,294.3 145.2,294.5 146.2,294.8 147.1,295.0 148.1,295.2 149.0,295.4 150.0,295.6 151.0,295.7 151.9,295.8 152.9,296.0 153.8,296.1 154.8,296.2 155.8,296.3 156.7,296.4 157.7,296.4 158.6,296.5 159.6,296.6 160.6,296.6 161.5,296.7 162.5,296.7 163.4,296.8 164.4,296.8 165.4,296.8 166.3,296.8 167.3,296.9 168.2,296.9 169.2,296.9 170.2,296.6 171.1,296.4 172.1,296.3 173.0,296.2 174.0,296.2 175.0,296.3 175.9,296.4 176.9,296.6 177.8,296.9 178.8,297.2 179.8,297.4 180.7,297.6 181.7,297.7 182.6,297.8 183.6,297.8 184.6,297.8 185.5,297.7 186.5,297.7 187.4,297.6 188.4,297.6 189.4,297.5 190.3,297.4 191.3,297.3 192.2,297.2 193.2,297.1 194.2,297.0 195.1,296.9 196.1,296.8 197.0,296.8 198.0,296.7 199.0,296.6 199.9,296.5 200.9,296.4 201.8,296.3 202.8,296.3 203.8,296.2 204.7,296.1 205.7,296.1 206.6,296.0 207.6,295.9 208.6,295.9 209.5,295.8 210.5,295.8 211.4,295.7 212.4,295.7 213.4,295.7 214.3,295.7 215.3,295.7 216.2,295.7 217.2,295.8 218.2,295.8 219.1,295.9 220.1,296.0 221.0,296.0 222.0,296.1 223.0,296.1 223.9,296.2 224.9,296.2 225.8,296.2 226.8,296.2 227.8,296.1 228.7,296.1 229.7,296.1 230.6,296.0 231.6,296.0 232.6,296.0 233.5,295.9 234.5,295.9 235.4,295.8 236.4,295.8 237.4,295.8 238.3,295.7 239.3,295.7 240.2,295.6 241.2,295.6 242.2,295.5 243.1,295.4 244.1,295.4 245.0,295.3 246.0,295.3 247.0,295.2 247.9,295.2 248.9,295.1 249.8,295.0 250.8,295.0 251.8,294.9 252.7,294.8 253.7,294.6 254.6,294.4 255.6,294.2 256.6,293.9 257.5,293.7 258.5,293.4 259.4,293.2 260.4,293.0 261.4,292.8 262.3,292.6 263.3,292.4 264.2,292.2 265.2,292.0 266.2,291.7 267.1,291.5 268.1,291.4 269.0,291.2 270.0,291.1 271.0,291.1 271.9,291.1 272.9,291.1 273.8,291.2 274.8,291.3 275.8,291.4 276.7,291.6 277.7,291.7 278.6,291.9 279.6,292.1 280.6,292.2 281.5,292.5 282.5,292.7 283.4,293.0 284.4,293.3 285.4,293.6 286.3,293.8 287.3,294.0 288.2,294.1 289.2,294.1 290.2,294.0 291.1,293.9 292.1,293.8 293.0,293.6 294.0,293.4 295.0,293.1 295.9,292.9 296.9,292.6 297.8,292.4 298.8,292.1 299.8,291.8 300.7,291.4 301.7,291.1 302.6,290.8 303.6,290.6 304.6,290.4 305.5,290.3 306.5,290.2 307.4,290.3 308.4,290.3 309.4,290.4 310.3,290.5 311.3,290.7 312.2,290.9 313.2,291.1 314.2,291.2 315.1,291.4 316.1,291.6 317.0,291.8 318.0,292.1 319.0,292.3 319.9,292.6 320.9,292.9 321.8,293.2 322.8,293.4 323.8,293.7 324.7,293.9 325.7,294.1 326.6,294.2 327.6,294.3 328.6,294.4 329.5,294.5 330.5,294.6 331.4,294.7 332.4,294.8 333.4,294.9 334.3,294.9 335.3,295.0 336.2,295.1 337.2,295.2 338.2,295.3 339.1,295.4 340.1,295.4 341.0,295.5 342.0,295.6"/>
</g>
<g fill="none" stroke="#fc8d59" stroke-width="1.8" stroke-opacity="0.6" stroke-linejoin="round" clip-path="url(#cbot)">
<polyline points="54.0,311.4 55.0,305.7 55.9,301.0 56.9,297.0 57.8,293.2 58.8,289.6 59.8,285.9 60.7,282.2 61.7,278.6 62.6,275.0 63.6,271.5 64.6,268.2 65.5,265.0 66.5,262.0 67.4,259.2 68.4,256.5 69.4,254.0 70.3,251.6 71.3,249.4 72.2,247.4 73.2,245.4 74.2,243.7 75.1,242.0 76.1,240.5 77.0,239.1 78.0,237.8 79.0,236.6 79.9,235.6 80.9,234.6 81.8,233.7 82.8,233.0 83.8,232.2 84.7,231.6 85.7,231.0 86.6,230.5 87.6,230.1 88.6,229.6 89.5,229.3 90.5,228.9 91.4,228.6 92.4,228.4 93.4,228.1 94.3,227.9 95.3,227.7 96.2,227.5 97.2,227.4 98.2,227.3 99.1,227.2 100.1,227.1 101.0,227.0 102.0,227.0 103.0,227.0 103.9,227.0 104.9,227.0 105.8,227.1 106.8,227.2 107.8,227.3 108.7,227.5 109.7,227.8 110.6,228.1 111.6,228.5 112.6,229.0 113.5,229.6 114.5,230.3 115.4,231.2 116.4,232.2 117.4,233.3 118.3,234.5 119.3,235.9 120.2,237.3 121.2,238.9 122.2,240.5 123.1,242.3 124.1,244.1 125.0,245.9 126.0,247.9 127.0,249.8 127.9,251.8 128.9,253.9 129.8,256.0 130.8,258.1 131.8,260.3 132.7,262.5 133.7,264.8 134.6,267.0 135.6,269.2 136.6,271.3 137.5,273.3 138.5,275.2 139.4,277.1 140.4,278.8 141.4,280.4 142.3,281.9 143.3,283.3 144.2,284.6 145.2,285.8 146.2,287.0 147.1,288.0 148.1,289.0 149.0,289.8 150.0,290.6 151.0,291.4 151.9,292.1 152.9,292.7 153.8,293.2 154.8,293.7 155.8,294.1 156.7,294.5 157.7,294.8 158.6,295.1 159.6,295.4 160.6,295.6 161.5,295.8 162.5,295.9 163.4,296.1 164.4,296.2 165.4,296.2 166.3,296.3 167.3,296.4 168.2,296.4 169.2,296.4 170.2,296.2 171.1,296.0 172.1,295.8 173.0,295.8 174.0,295.7 175.0,295.6 175.9,295.4 176.9,295.2 177.8,295.0 178.8,294.8 179.8,294.7 180.7,294.6 181.7,294.5 182.6,294.5 183.6,294.4 184.6,294.4 185.5,294.4 186.5,294.4 187.4,294.3 188.4,294.3 189.4,294.2 190.3,294.2 191.3,294.1 192.2,294.0 193.2,293.9 194.2,293.9 195.1,293.8 196.1,293.7 197.0,293.7 198.0,293.6 199.0,293.5 199.9,293.5 200.9,293.5 201.8,293.5 202.8,293.5 203.8,293.6 204.7,293.6 205.7,293.6 206.6,293.7 207.6,293.7 208.6,293.7 209.5,293.7 210.5,293.8 211.4,293.8 212.4,293.9 213.4,293.9 214.3,294.0 215.3,294.0 216.2,294.0 217.2,294.1 218.2,294.1 219.1,294.1 220.1,294.1 221.0,294.1 222.0,294.1 223.0,294.1 223.9,294.1 224.9,294.0 225.8,294.0 226.8,294.0 227.8,293.9 228.7,293.9 229.7,293.9 230.6,293.8 231.6,293.8 232.6,293.8 233.5,293.7 234.5,293.7 235.4,293.7 236.4,293.6 237.4,293.6 238.3,293.5 239.3,293.5 240.2,293.5 241.2,293.4 242.2,293.4 243.1,293.3 244.1,293.3 245.0,293.2 246.0,293.2 247.0,293.1 247.9,293.1 248.9,293.0 249.8,293.0 250.8,293.0 251.8,292.9 252.7,292.9 253.7,292.8 254.6,292.8 255.6,292.7 256.6,292.7 257.5,292.6 258.5,292.5 259.4,292.5 260.4,292.4 261.4,292.2 262.3,292.1 263.3,292.0 264.2,291.9 265.2,291.8 266.2,291.8 267.1,291.7 268.1,291.7 269.0,291.6 270.0,291.6 271.0,291.7 271.9,291.7 272.9,291.7 273.8,291.7 274.8,291.7 275.8,291.7 276.7,291.7 277.7,291.8 278.6,291.8 279.6,291.8 280.6,291.8 281.5,292.0 282.5,292.2 283.4,292.4 284.4,292.7 285.4,292.9 286.3,293.2 287.3,293.3 288.2,293.4 289.2,293.5 290.2,293.4 291.1,293.4 292.1,293.3 293.0,293.3 294.0,293.2 295.0,293.1 295.9,293.0 296.9,292.8 297.8,292.6 298.8,292.4 299.8,292.1 300.7,291.8 301.7,291.5 302.6,291.2 303.6,291.0 304.6,290.8 305.5,290.7 306.5,290.7 307.4,290.7 308.4,290.7 309.4,290.8 310.3,290.8 311.3,290.9 312.2,291.1 313.2,291.2 314.2,291.3 315.1,291.4 316.1,291.5 317.0,291.6 318.0,291.7 319.0,291.9 319.9,292.0 320.9,292.2 321.8,292.3 322.8,292.4 323.8,292.6 324.7,292.7 325.7,292.8 326.6,292.9 327.6,293.0 328.6,293.1 329.5,293.2 330.5,293.3 331.4,293.4 332.4,293.4 333.4,293.5 334.3,293.6 335.3,293.7 336.2,293.8 337.2,293.9 338.2,293.9 339.1,294.0 340.1,294.1 341.0,294.2 342.0,294.3"/>
<polyline points="54.0,311.5 55.0,305.8 55.9,301.2 56.9,297.2 57.8,293.4 58.8,289.7 59.8,286.1 60.7,282.4 61.7,278.8 62.6,275.2 63.6,271.7 64.6,268.4 65.5,265.2 66.5,262.2 67.4,259.4 68.4,256.7 69.4,254.2 70.3,251.9 71.3,249.7 72.2,247.7 73.2,245.7 74.2,244.0 75.1,242.3 76.1,240.8 77.0,239.5 78.0,238.2 79.0,237.0 79.9,236.0 80.9,235.1 81.8,234.2 82.8,233.4 83.8,232.8 84.7,232.1 85.7,231.6 86.6,231.1 87.6,230.7 88.6,230.3 89.5,229.9 90.5,229.6 91.4,229.3 92.4,229.0 93.4,228.8 94.3,228.6 95.3,228.4 96.2,228.2 97.2,228.1 98.2,228.0 99.1,227.9 100.1,227.8 101.0,227.7 102.0,227.7 103.0,227.6 103.9,227.6 104.9,227.7 105.8,227.7 106.8,227.8 107.8,227.9 108.7,228.1 109.7,228.3 110.6,228.6 111.6,229.0 112.6,229.5 113.5,230.1 114.5,230.8 115.4,231.6 116.4,232.6 117.4,233.6 118.3,234.9 119.3,236.2 120.2,237.6 121.2,239.2 122.2,240.8 123.1,242.5 124.1,244.3 125.0,246.2 126.0,248.1 127.0,250.0 127.9,252.0 128.9,254.1 129.8,256.2 130.8,258.3 131.8,260.5 132.7,262.7 133.7,265.0 134.6,267.2 135.6,269.3 136.6,271.4 137.5,273.4 138.5,275.4 139.4,277.2 140.4,278.9 141.4,280.6 142.3,282.1 143.3,283.5 144.2,284.8 145.2,286.0 146.2,287.1 147.1,288.2 148.1,289.1 149.0,290.0 150.0,290.8 151.0,291.5 151.9,292.2 152.9,292.8 153.8,293.4 154.8,293.8 155.8,294.3 156.7,294.7 157.7,295.0 158.6,295.3 159.6,295.5 160.6,295.7 161.5,295.9 162.5,296.1 163.4,296.2 164.4,296.3 165.4,296.4 166.3,296.5 167.3,296.5 168.2,296.5 169.2,296.6 170.2,296.3 171.1,296.1 172.1,296.0 173.0,295.9 174.0,295.9 175.0,295.7 175.9,295.6 176.9,295.4 177.8,295.1 178.8,294.9 179.8,294.8 180.7,294.7 181.7,294.7 182.6,294.6 183.6,294.6 184.6,294.6 185.5,294.6 186.5,294.5 187.4,294.5 188.4,294.4 189.4,294.4 190.3,294.3 191.3,294.2 192.2,294.2 193.2,294.1 194.2,294.0 195.1,293.9 196.1,293.9 197.0,293.8 198.0,293.7 199.0,293.7 199.9,293.7 200.9,293.6 201.8,293.7 202.8,293.7 203.8,293.7 204.7,293.8 205.7,293.8 206.6,293.8 207.6,293.8 208.6,293.9 209.5,293.9 210.5,293.9 211.4,294.0 212.4,294.0 213.4,294.1 214.3,294.1 215.3,294.1 216.2,294.2 217.2,294.2 218.2,294.2 219.1,294.3 220.1,294.3 221.0,294.3 222.0,294.3 223.0,294.2 223.9,294.2 224.9,294.2 225.8,294.2 226.8,294.1 227.8,294.1 228.7,294.1 229.7,294.0 230.6,294.0 231.6,294.0 232.6,293.9 233.5,293.9 234.5,293.9 235.4,293.8 236.4,293.8 237.4,293.7 238.3,293.7 239.3,293.6 240.2,293.6 241.2,293.6 242.2,293.5 243.1,293.5 244.1,293.4 245.0,293.4 246.0,293.3 247.0,293.3 247.9,293.2 248.9,293.2 249.8,293.1 250.8,293.1 251.8,293.1 252.7,293.0 253.7,293.0 254.6,292.9 255.6,292.9 256.6,292.8 257.5,292.8 258.5,292.7 259.4,292.6 260.4,292.5 261.4,292.4 262.3,292.3 263.3,292.2 264.2,292.1 265.2,292.0 266.2,291.9 267.1,291.9 268.1,291.8 269.0,291.8 270.0,291.8 271.0,291.8 271.9,291.8 272.9,291.8 273.8,291.8 274.8,291.9 275.8,291.9 276.7,291.9 277.7,291.9 278.6,291.9 279.6,291.9 280.6,292.0 281.5,292.1 282.5,292.3 283.4,292.6 284.4,292.8 285.4,293.1 286.3,293.3 287.3,293.5 288.2,293.6 289.2,293.6 290.2,293.6 291.1,293.5 292.1,293.5 293.0,293.4 294.0,293.3 295.0,293.2 295.9,293.1 296.9,293.0 297.8,292.8 298.8,292.5 299.8,292.2 300.7,291.9 301.7,291.6 302.6,291.3 303.6,291.1 304.6,290.9 305.5,290.8 306.5,290.8 307.4,290.8 308.4,290.8 309.4,290.9 310.3,291.0 311.3,291.1 312.2,291.2 313.2,291.3 314.2,291.4 315.1,291.5 316.1,291.7 317.0,291.8 318.0,291.9 319.0,292.0 319.9,292.2 320.9,292.3 321.8,292.5 322.8,292.6 323.8,292.7 324.7,292.9 325.7,293.0 326.6,293.1 327.6,293.2 328.6,293.2 329.5,293.3 330.5,293.4 331.4,293.5 332.4,293.6 333.4,293.7 334.3,293.8 335.3,293.8 336.2,293.9 337.2,294.0 338.2,294.1 339.1,294.2 340.1,294.3 341.0,294.3 342.0,294.4"/>
<polyline points="54.0,311.7 55.0,306.0 55.9,301.4 56.9,297.3 57.8,293.6 58.8,289.9 59.8,286.3 60.7,282.6 61.7,278.9 62.6,275.4 63.6,271.9 64.6,268.6 65.5,265.4 66.5,262.4 67.4,259.6 68.4,257.0 69.4,254.5 70.3,252.2 71.3,250.0 72.2,247.9 73.2,246.1 74.2,244.3 75.1,242.7 76.1,241.2 77.0,239.8 78.0,238.6 79.0,237.5 79.9,236.4 80.9,235.5 81.8,234.7 82.8,233.9 83.8,233.3 84.7,232.7 85.7,232.2 86.6,231.7 87.6,231.3 88.6,230.9 89.5,230.5 90.5,230.2 91.4,230.0 92.4,229.7 93.4,229.5 94.3,229.3 95.3,229.1 96.2,228.9 97.2,228.8 98.2,228.7 99.1,228.6 100.1,228.5 101.0,228.4 102.0,228.3 103.0,228.3 103.9,228.3 104.9,228.3 105.8,228.3 106.8,228.4 107.8,228.5 108.7,228.6 109.7,228.8 110.6,229.1 111.6,229.5 112.6,229.9 113.5,230.5 114.5,231.2 115.4,232.0 116.4,232.9 117.4,234.0 118.3,235.2 119.3,236.5 120.2,238.0 121.2,239.5 122.2,241.1 123.1,242.8 124.1,244.6 125.0,246.4 126.0,248.3 127.0,250.3 127.9,252.2 128.9,254.3 129.8,256.4 130.8,258.5 131.8,260.7 132.7,262.9 133.7,265.1 134.6,267.3 135.6,269.5 136.6,271.6 137.5,273.6 138.5,275.5 139.4,277.4 140.4,279.1 141.4,280.7 142.3,282.2 143.3,283.6 144.2,284.9 145.2,286.2 146.2,287.3 147.1,288.3 148.1,289.3 149.0,290.1 150.0,291.0 151.0,291.7 151.9,292.4 152.9,293.0 153.8,293.5 154.8,294.0 155.8,294.4 156.7,294.8 157.7,295.1 158.6,295.4 159.6,295.7 160.6,295.9 161.5,296.1 162.5,296.2 163.4,296.4 164.4,296.5 165.4,296.5 166.3,296.6 167.3,296.7 168.2,296.7 169.2,296.7 170.2,296.5 171.1,296.3 172.1,296.1 173.0,296.1 174.0,296.0 175.0,295.9 175.9,295.7 176.9,295.5 177.8,295.3 178.8,295.1 179.8,295.0 180.7,294.9 181.7,294.8 182.6,294.8 183.6,294.7 184.6,294.7 185.5,294.7 186.5,294.7 187.4,294.6 188.4,294.6 189.4,294.5 190.3,294.5 191.3,294.4 192.2,294.3 193.2,294.2 194.2,294.2 195.1,294.1 196.1,294.0 197.0,294.0 198.0,293.9 199.0,293.8 199.9,293.8 200.9,293.8 201.8,293.8 202.8,293.8 203.8,293.9 204.7,293.9 205.7,293.9 206.6,294.0 207.6,294.0 208.6,294.0 209.5,294.0 210.5,294.1 211.4,294.1 212.4,294.2 213.4,294.2 214.3,294.3 215.3,294.3 216.2,294.3 217.2,294.4 218.2,294.4 219.1,294.4 220.1,294.4 221.0,294.4 222.0,294.4 223.0,294.4 223.9,294.4 224.9,294.3 225.8,294.3 226.8,294.3 227.8,294.2 228.7,294.2 229.7,294.2 230.6,294.1 231.6,294.1 232.6,294.1 233.5,294.0 234.5,294.0 235.4,294.0 236.4,293.9 237.4,293.9 238.3,293.8 239.3,293.8 240.2,293.8 241.2,293.7 242.2,293.7 243.1,293.6 244.1,293.6 245.0,293.5 246.0,293.5 247.0,293.4 247.9,293.4 248.9,293.3 249.8,293.3 250.8,293.3 251.8,293.2 252.7,293.2 253.7,293.1 254.6,293.1 255.6,293.0 256.6,293.0 257.5,292.9 258.5,292.8 259.4,292.8 260.4,292.7 261.4,292.5 262.3,292.4 263.3,292.3 264.2,292.2 265.2,292.1 266.2,292.1 267.1,292.0 268.1,292.0 269.0,291.9 270.0,291.9 271.0,292.0 271.9,292.0 272.9,292.0 273.8,292.0 274.8,292.0 275.8,292.0 276.7,292.0 277.7,292.1 278.6,292.1 279.6,292.1 280.6,292.1 281.5,292.3 282.5,292.5 283.4,292.7 284.4,293.0 285.4,293.2 286.3,293.5 287.3,293.6 288.2,293.7 289.2,293.8 290.2,293.7 291.1,293.7 292.1,293.6 293.0,293.6 294.0,293.5 295.0,293.4 295.9,293.3 296.9,293.1 297.8,292.9 298.8,292.7 299.8,292.4 300.7,292.1 301.7,291.8 302.6,291.5 303.6,291.3 304.6,291.1 305.5,291.0 306.5,291.0 307.4,291.0 308.4,291.0 309.4,291.1 310.3,291.1 311.3,291.2 312.2,291.4 313.2,291.5 314.2,291.6 315.1,291.7 316.1,291.8 317.0,291.9 318.0,292.0 319.0,292.2 319.9,292.3 320.9,292.5 321.8,292.6 322.8,292.7 323.8,292.9 324.7,293.0 325.7,293.1 326.6,293.2 327.6,293.3 328.6,293.4 329.5,293.5 330.5,293.6 331.4,293.7 332.4,293.7 333.4,293.8 334.3,293.9 335.3,294.0 336.2,294.1 337.2,294.2 338.2,294.2 339.1,294.3 340.1,294.4 341.0,294.5 342.0,294.6"/>
<polyline points="54.0,311.8 55.0,306.2 55.9,301.5 56.9,297.5 57.8,293.7 58.8,290.1 59.8,286.4 60.7,282.8 61.7,279.1 62.6,275.5 63.6,272.1 64.6,268.8 65.5,265.6 66.5,262.7 67.4,259.9 68.4,257.2 69.4,254.7 70.3,252.4 71.3,250.2 72.2,248.2 73.2,246.4 74.2,244.6 75.1,243.0 76.1,241.5 77.0,240.2 78.0,239.0 79.0,237.9 79.9,236.9 80.9,236.0 81.8,235.2 82.8,234.4 83.8,233.8 84.7,233.2 85.7,232.7 86.6,232.3 87.6,231.9 88.6,231.5 89.5,231.2 90.5,230.9 91.4,230.6 92.4,230.4 93.4,230.2 94.3,230.0 95.3,229.8 96.2,229.6 97.2,229.5 98.2,229.4 99.1,229.3 100.1,229.2 101.0,229.1 102.0,229.0 103.0,229.0 103.9,228.9 104.9,228.9 105.8,229.0 106.8,229.0 107.8,229.1 108.7,229.2 109.7,229.4 110.6,229.6 111.6,230.0 112.6,230.4 113.5,231.0 114.5,231.6 115.4,232.4 116.4,233.3 117.4,234.4 118.3,235.6 119.3,236.9 120.2,238.3 121.2,239.8 122.2,241.4 123.1,243.1 124.1,244.9 125.0,246.7 126.0,248.6 127.0,250.5 127.9,252.5 128.9,254.5 129.8,256.6 130.8,258.7 131.8,260.9 132.7,263.1 133.7,265.3 134.6,267.5 135.6,269.7 136.6,271.8 137.5,273.8 138.5,275.7 139.4,277.5 140.4,279.3 141.4,280.9 142.3,282.4 143.3,283.8 144.2,285.1 145.2,286.3 146.2,287.4 147.1,288.5 148.1,289.4 149.0,290.3 150.0,291.1 151.0,291.8 151.9,292.5 152.9,293.1 153.8,293.7 154.8,294.1 155.8,294.6 156.7,295.0 157.7,295.3 158.6,295.6 159.6,295.8 160.6,296.0 161.5,296.2 162.5,296.4 163.4,296.5 164.4,296.6 165.4,296.7 166.3,296.8 167.3,296.8 168.2,296.8 169.2,296.9 170.2,296.6 171.1,296.4 172.1,296.3 173.0,296.2 174.0,296.2 175.0,296.0 175.9,295.9 176.9,295.7 177.8,295.4 178.8,295.2 179.8,295.1 180.7,295.0 181.7,295.0 182.6,294.9 183.6,294.9 184.6,294.9 185.5,294.9 186.5,294.8 187.4,294.8 188.4,294.7 189.4,294.7 190.3,294.6 191.3,294.5 192.2,294.5 193.2,294.4 194.2,294.3 195.1,294.2 196.1,294.2 197.0,294.1 198.0,294.0 199.0,294.0 199.9,294.0 200.9,293.9 201.8,294.0 202.8,294.0 203.8,294.0 204.7,294.1 205.7,294.1 206.6,294.1 207.6,294.1 208.6,294.2 209.5,294.2 210.5,294.2 211.4,294.3 212.4,294.3 213.4,294.4 214.3,294.4 215.3,294.4 216.2,294.5 217.2,294.5 218.2,294.5 219.1,294.6 220.1,294.6 221.0,294.6 222.0,294.6 223.0,294.5 223.9,294.5 224.9,294.5 225.8,294.5 226.8,294.4 227.8,294.4 228.7,294.4 229.7,294.3 230.6,294.3 231.6,294.3 232.6,294.2 233.5,294.2 234.5,294.2 235.4,294.1 236.4,294.1 237.4,294.0 238.3,294.0 239.3,293.9 240.2,293.9 241.2,293.9 242.2,293.8 243.1,293.8 244.1,293.7 245.0,293.7 246.0,293.6 247.0,293.6 247.9,293.5 248.9,293.5 249.8,293.4 250.8,293.4 251.8,293.4 252.7,293.3 253.7,293.3 254.6,293.2 255.6,293.2 256.6,293.1 257.5,293.1 258.5,293.0 259.4,292.9 260.4,292.8 261.4,292.7 262.3,292.6 263.3,292.5 264.2,292.4 265.2,292.3 266.2,292.2 267.1,292.2 268.1,292.1 269.0,292.1 270.0,292.1 271.0,292.1 271.9,292.1 272.9,292.1 273.8,292.1 274.8,292.2 275.8,292.2 276.7,292.2 277.7,292.2 278.6,292.2 279.6,292.2 280.6,292.3 281.5,292.4 282.5,292.6 283.4,292.9 284.4,293.1 285.4,293.4 286.3,293.6 287.3,293.8 288.2,293.9 289.2,293.9 290.2,293.9 291.1,293.8 292.1,293.8 293.0,293.7 294.0,293.6 295.0,293.5 295.9,293.4 296.9,293.3 297.8,293.1 298.8,292.8 299.8,292.5 300.7,292.2 301.7,291.9 302.6,291.6 303.6,291.4 304.6,291.2 305.5,291.1 306.5,291.1 307.4,291.1 308.4,291.1 309.4,291.2 310.3,291.3 311.3,291.4 312.2,291.5 313.2,291.6 314.2,291.7 315.1,291.8 316.1,292.0 317.0,292.1 318.0,292.2 319.0,292.3 319.9,292.5 320.9,292.6 321.8,292.8 322.8,292.9 323.8,293.0 324.7,293.2 325.7,293.3 326.6,293.4 327.6,293.5 328.6,293.5 329.5,293.6 330.5,293.7 331.4,293.8 332.4,293.9 333.4,294.0 334.3,294.1 335.3,294.1 336.2,294.2 337.2,294.3 338.2,294.4 339.1,294.5 340.1,294.6 341.0,294.6 342.0,294.7"/>
</g>
<g fill="none" stroke="#d7301f" stroke-width="1.8" stroke-opacity="0.6" stroke-linejoin="round" clip-path="url(#cbot)">
<polyline points="54.0,311.4 55.0,305.7 55.9,301.0 56.9,297.0 57.8,293.2 58.8,289.6 59.8,285.9 60.7,282.2 61.7,278.6 62.6,275.0 63.6,271.5 64.6,268.2 65.5,265.0 66.5,262.0 67.4,259.2 68.4,256.5 69.4,254.0 70.3,251.6 71.3,249.4 72.2,247.4 73.2,245.4 74.2,243.7 75.1,242.0 76.1,240.5 77.0,239.1 78.0,237.8 79.0,236.6 79.9,235.6 80.9,234.6 81.8,233.7 82.8,232.9 83.8,232.2 84.7,231.6 85.7,231.0 86.6,230.5 87.6,230.1 88.6,229.7 89.5,229.3 90.5,229.0 91.4,228.7 92.4,228.4 93.4,228.2 94.3,227.9 95.3,227.7 96.2,227.6 97.2,227.4 98.2,227.3 99.1,227.2 100.1,227.1 101.0,227.0 102.0,226.9 103.0,226.9 103.9,226.8 104.9,226.8 105.8,226.8 106.8,226.8 107.8,226.8 108.7,226.8 109.7,226.9 110.6,227.0 111.6,227.1 112.6,227.2 113.5,227.3 114.5,227.5 115.4,227.8 116.4,228.0 117.4,228.3 118.3,228.7 119.3,229.1 120.2,229.5 121.2,230.0 122.2,230.5 123.1,231.1 124.1,231.7 125.0,232.5 126.0,233.3 127.0,234.2 127.9,235.1 128.9,236.2 129.8,237.5 130.8,238.8 131.8,240.3 132.7,241.9 133.7,243.6 134.6,245.3 135.6,247.1 136.6,248.9 137.5,250.7 138.5,252.5 139.4,254.3 140.4,256.1 141.4,257.9 142.3,259.6 143.3,261.3 144.2,263.0 145.2,264.7 146.2,266.4 147.1,268.1 148.1,269.8 149.0,271.5 150.0,273.1 151.0,274.8 151.9,276.4 152.9,277.9 153.8,279.4 154.8,280.8 155.8,282.1 156.7,283.4 157.7,284.5 158.6,285.6 159.6,286.6 160.6,287.5 161.5,288.3 162.5,289.1 163.4,289.9 164.4,290.6 165.4,291.2 166.3,291.8 167.3,292.4 168.2,292.9 169.2,293.3 170.2,293.8 171.1,294.1 172.1,294.5 173.0,294.8 174.0,295.0 175.0,295.3 175.9,295.4 176.9,295.6 177.8,295.7 178.8,295.8 179.8,295.9 180.7,296.0 181.7,296.0 182.6,296.0 183.6,296.0 184.6,296.0 185.5,296.0 186.5,296.0 187.4,295.9 188.4,295.9 189.4,295.8 190.3,295.7 191.3,295.7 192.2,295.6 193.2,295.5 194.2,295.4 195.1,295.4 196.1,295.3 197.0,295.2 198.0,295.2 199.0,295.1 199.9,295.0 200.9,295.0 201.8,294.9 202.8,294.8 203.8,294.8 204.7,294.7 205.7,294.7 206.6,294.6 207.6,294.6 208.6,294.5 209.5,294.5 210.5,294.4 211.4,294.4 212.4,294.4 213.4,294.3 214.3,294.3 215.3,294.3 216.2,294.3 217.2,294.2 218.2,294.2 219.1,294.2 220.1,294.2 221.0,294.1 222.0,294.1 223.0,294.1 223.9,294.1 224.9,294.0 225.8,294.0 226.8,294.0 227.8,293.9 228.7,293.9 229.7,293.9 230.6,293.8 231.6,293.8 232.6,293.8 233.5,293.7 234.5,293.7 235.4,293.7 236.4,293.6 237.4,293.6 238.3,293.5 239.3,293.5 240.2,293.5 241.2,293.4 242.2,293.4 243.1,293.3 244.1,293.3 245.0,293.2 246.0,293.2 247.0,293.1 247.9,293.1 248.9,293.0 249.8,293.0 250.8,293.0 251.8,292.9 252.7,292.9 253.7,292.8 254.6,292.8 255.6,292.7 256.6,292.7 257.5,292.7 258.5,292.6 259.4,292.6 260.4,292.6 261.4,292.6 262.3,292.5 263.3,292.5 264.2,292.5 265.2,292.5 266.2,292.5 267.1,292.5 268.1,292.5 269.0,292.5 270.0,292.5 271.0,292.5 271.9,292.5 272.9,292.6 273.8,292.6 274.8,292.6 275.8,292.6 276.7,292.6 277.7,292.6 278.6,292.6 279.6,292.7 280.6,292.7 281.5,292.7 282.5,292.7 283.4,292.7 284.4,292.7 285.4,292.7 286.3,292.7 287.3,292.6 288.2,292.6 289.2,292.6 290.2,292.6 291.1,292.5 292.1,292.5 293.0,292.4 294.0,292.4 295.0,292.3 295.9,292.3 296.9,292.2 297.8,292.1 298.8,292.1 299.8,292.0 300.7,291.9 301.7,291.8 302.6,291.8 303.6,291.7 304.6,291.6 305.5,291.6 306.5,291.5 307.4,291.5 308.4,291.4 309.4,291.4 310.3,291.4 311.3,291.4 312.2,291.4 313.2,291.4 314.2,291.4 315.1,291.4 316.1,291.4 317.0,291.5 318.0,291.5 319.0,291.5 319.9,291.6 320.9,291.6 321.8,291.7 322.8,291.8 323.8,291.8 324.7,291.9 325.7,292.0 326.6,292.1 327.6,292.1 328.6,292.2 329.5,292.3 330.5,292.4 331.4,292.5 332.4,292.6 333.4,292.6 334.3,292.7 335.3,292.8 336.2,292.9 337.2,293.0 338.2,293.1 339.1,293.2 340.1,293.2 341.0,293.3 342.0,293.4"/>
<polyline points="54.0,311.5 55.0,305.8 55.9,301.2 56.9,297.2 57.8,293.4 58.8,289.7 59.8,286.1 60.7,282.4 61.7,278.8 62.6,275.2 63.6,271.7 64.6,268.4 65.5,265.2 66.5,262.2 67.4,259.4 68.4,256.7 69.4,254.2 70.3,251.9 71.3,249.7 72.2,247.7 73.2,245.7 74.2,244.0 75.1,242.3 76.1,240.8 77.0,239.5 78.0,238.2 79.0,237.0 79.9,236.0 80.9,235.1 81.8,234.2 82.8,233.4 83.8,232.8 84.7,232.1 85.7,231.6 86.6,231.1 87.6,230.7 88.6,230.3 89.5,229.9 90.5,229.6 91.4,229.3 92.4,229.1 93.4,228.8 94.3,228.6 95.3,228.4 96.2,228.3 97.2,228.1 98.2,228.0 99.1,227.9 100.1,227.8 101.0,227.7 102.0,227.6 103.0,227.5 103.9,227.5 104.9,227.4 105.8,227.4 106.8,227.4 107.8,227.4 108.7,227.4 109.7,227.4 110.6,227.5 111.6,227.5 112.6,227.7 113.5,227.8 114.5,228.0 115.4,228.2 116.4,228.4 117.4,228.7 118.3,229.0 119.3,229.4 120.2,229.8 121.2,230.3 122.2,230.8 123.1,231.4 124.1,232.0 125.0,232.7 126.0,233.5 127.0,234.4 127.9,235.4 128.9,236.5 129.8,237.7 130.8,239.0 131.8,240.5 132.7,242.1 133.7,243.7 134.6,245.5 135.6,247.3 136.6,249.1 137.5,250.9 138.5,252.7 139.4,254.5 140.4,256.3 141.4,258.0 142.3,259.7 143.3,261.5 144.2,263.2 145.2,264.9 146.2,266.6 147.1,268.3 148.1,270.0 149.0,271.6 150.0,273.3 151.0,274.9 151.9,276.5 152.9,278.1 153.8,279.6 154.8,281.0 155.8,282.3 156.7,283.5 157.7,284.7 158.6,285.7 159.6,286.7 160.6,287.6 161.5,288.5 162.5,289.3 163.4,290.0 164.4,290.7 165.4,291.4 166.3,292.0 167.3,292.5 168.2,293.0 169.2,293.5 170.2,293.9 171.1,294.3 172.1,294.6 173.0,294.9 174.0,295.2 175.0,295.4 175.9,295.6 176.9,295.7 177.8,295.9 178.8,296.0 179.8,296.1 180.7,296.1 181.7,296.2 182.6,296.2 183.6,296.2 184.6,296.2 185.5,296.1 186.5,296.1 187.4,296.1 188.4,296.0 189.4,296.0 190.3,295.9 191.3,295.8 192.2,295.7 193.2,295.7 194.2,295.6 195.1,295.5 196.1,295.5 197.0,295.4 198.0,295.3 199.0,295.2 199.9,295.2 200.9,295.1 201.8,295.1 202.8,295.0 203.8,294.9 204.7,294.9 205.7,294.8 206.6,294.8 207.6,294.7 208.6,294.7 209.5,294.6 210.5,294.6 211.4,294.6 212.4,294.5 213.4,294.5 214.3,294.5 215.3,294.4 216.2,294.4 217.2,294.4 218.2,294.4 219.1,294.3 220.1,294.3 221.0,294.3 222.0,294.3 223.0,294.2 223.9,294.2 224.9,294.2 225.8,294.2 226.8,294.1 227.8,294.1 228.7,294.1 229.7,294.0 230.6,294.0 231.6,294.0 232.6,293.9 233.5,293.9 234.5,293.9 235.4,293.8 236.4,293.8 237.4,293.7 238.3,293.7 239.3,293.6 240.2,293.6 241.2,293.6 242.2,293.5 243.1,293.5 244.1,293.4 245.0,293.4 246.0,293.3 247.0,293.3 247.9,293.2 248.9,293.2 249.8,293.1 250.8,293.1 251.8,293.1 252.7,293.0 253.7,293.0 254.6,292.9 255.6,292.9 256.6,292.9 257.5,292.8 258.5,292.8 259.4,292.8 260.4,292.7 261.4,292.7 262.3,292.7 263.3,292.7 264.2,292.7 265.2,292.6 266.2,292.6 267.1,292.6 268.1,292.6 269.0,292.7 270.0,292.7 271.0,292.7 271.9,292.7 272.9,292.7 273.8,292.7 274.8,292.7 275.8,292.8 276.7,292.8 277.7,292.8 278.6,292.8 279.6,292.8 280.6,292.8 281.5,292.8 282.5,292.8 283.4,292.8 284.4,292.8 285.4,292.8 286.3,292.8 287.3,292.8 288.2,292.8 289.2,292.7 290.2,292.7 291.1,292.7 292.1,292.6 293.0,292.6 294.0,292.5 295.0,292.5 295.9,292.4 296.9,292.3 297.8,292.3 298.8,292.2 299.8,292.1 300.7,292.1 301.7,292.0 302.6,291.9 303.6,291.8 304.6,291.8 305.5,291.7 306.5,291.7 307.4,291.6 308.4,291.6 309.4,291.5 310.3,291.5 311.3,291.5 312.2,291.5 313.2,291.5 314.2,291.5 315.1,291.5 316.1,291.6 317.0,291.6 318.0,291.6 319.0,291.7 319.9,291.7 320.9,291.8 321.8,291.9 322.8,291.9 323.8,292.0 324.7,292.1 325.7,292.1 326.6,292.2 327.6,292.3 328.6,292.4 329.5,292.5 330.5,292.5 331.4,292.6 332.4,292.7 333.4,292.8 334.3,292.9 335.3,293.0 336.2,293.1 337.2,293.1 338.2,293.2 339.1,293.3 340.1,293.4 341.0,293.5 342.0,293.5"/>
<polyline points="54.0,311.7 55.0,306.0 55.9,301.4 56.9,297.3 57.8,293.6 58.8,289.9 59.8,286.3 60.7,282.6 61.7,278.9 62.6,275.4 63.6,271.9 64.6,268.6 65.5,265.4 66.5,262.4 67.4,259.6 68.4,257.0 69.4,254.5 70.3,252.2 71.3,250.0 72.2,247.9 73.2,246.1 74.2,244.3 75.1,242.7 76.1,241.2 77.0,239.8 78.0,238.6 79.0,237.4 79.9,236.4 80.9,235.5 81.8,234.7 82.8,233.9 83.8,233.3 84.7,232.7 85.7,232.2 86.6,231.7 87.6,231.3 88.6,230.9 89.5,230.5 90.5,230.2 91.4,230.0 92.4,229.7 93.4,229.5 94.3,229.3 95.3,229.1 96.2,229.0 97.2,228.8 98.2,228.7 99.1,228.6 100.1,228.4 101.0,228.3 102.0,228.3 103.0,228.2 103.9,228.1 104.9,228.0 105.8,228.0 106.8,228.0 107.8,227.9 108.7,227.9 109.7,228.0 110.6,228.0 111.6,228.0 112.6,228.1 113.5,228.2 114.5,228.4 115.4,228.6 116.4,228.8 117.4,229.1 118.3,229.4 119.3,229.7 120.2,230.1 121.2,230.6 122.2,231.1 123.1,231.6 124.1,232.3 125.0,233.0 126.0,233.7 127.0,234.6 127.9,235.6 128.9,236.7 129.8,237.9 130.8,239.2 131.8,240.7 132.7,242.2 133.7,243.9 134.6,245.7 135.6,247.5 136.6,249.3 137.5,251.1 138.5,252.9 139.4,254.7 140.4,256.4 141.4,258.2 142.3,259.9 143.3,261.6 144.2,263.3 145.2,265.0 146.2,266.7 147.1,268.4 148.1,270.1 149.0,271.8 150.0,273.4 151.0,275.1 151.9,276.7 152.9,278.2 153.8,279.7 154.8,281.1 155.8,282.4 156.7,283.7 157.7,284.8 158.6,285.9 159.6,286.9 160.6,287.8 161.5,288.6 162.5,289.4 163.4,290.2 164.4,290.9 165.4,291.5 166.3,292.1 167.3,292.7 168.2,293.2 169.2,293.6 170.2,294.1 171.1,294.4 172.1,294.8 173.0,295.1 174.0,295.3 175.0,295.6 175.9,295.7 176.9,295.9 177.8,296.0 178.8,296.1 179.8,296.2 180.7,296.3 181.7,296.3 182.6,296.3 183.6,296.3 184.6,296.3 185.5,296.3 186.5,296.3 187.4,296.2 188.4,296.2 189.4,296.1 190.3,296.0 191.3,296.0 192.2,295.9 193.2,295.8 194.2,295.7 195.1,295.7 196.1,295.6 197.0,295.5 198.0,295.5 199.0,295.4 199.9,295.3 200.9,295.3 201.8,295.2 202.8,295.1 203.8,295.1 204.7,295.0 205.7,295.0 206.6,294.9 207.6,294.9 208.6,294.8 209.5,294.8 210.5,294.7 211.4,294.7 212.4,294.7 213.4,294.6 214.3,294.6 215.3,294.6 216.2,294.6 217.2,294.5 218.2,294.5 219.1,294.5 220.1,294.5 221.0,294.4 222.0,294.4 223.0,294.4 223.9,294.4 224.9,294.3 225.8,294.3 226.8,294.3 227.8,294.2 228.7,294.2 229.7,294.2 230.6,294.1 231.6,294.1 232.6,294.1 233.5,294.0 234.5,294.0 235.4,294.0 236.4,293.9 237.4,293.9 238.3,293.8 239.3,293.8 240.2,293.8 241.2,293.7 242.2,293.7 243.1,293.6 244.1,293.6 245.0,293.5 246.0,293.5 247.0,293.4 247.9,293.4 248.9,293.3 249.8,293.3 250.8,293.3 251.8,293.2 252.7,293.2 253.7,293.1 254.6,293.1 255.6,293.0 256.6,293.0 257.5,293.0 258.5,292.9 259.4,292.9 260.4,292.9 261.4,292.9 262.3,292.8 263.3,292.8 264.2,292.8 265.2,292.8 266.2,292.8 267.1,292.8 268.1,292.8 269.0,292.8 270.0,292.8 271.0,292.8 271.9,292.8 272.9,292.9 273.8,292.9 274.8,292.9 275.8,292.9 276.7,292.9 277.7,292.9 278.6,292.9 279.6,293.0 280.6,293.0 281.5,293.0 282.5,293.0 283.4,293.0 284.4,293.0 285.4,293.0 286.3,293.0 287.3,292.9 288.2,292.9 289.2,292.9 290.2,292.9 291.1,292.8 292.1,292.8 293.0,292.7 294.0,292.7 295.0,292.6 295.9,292.6 296.9,292.5 297.8,292.4 298.8,292.4 299.8,292.3 300.7,292.2 301.7,292.1 302.6,292.1 303.6,292.0 304.6,291.9 305.5,291.9 306.5,291.8 307.4,291.8 308.4,291.7 309.4,291.7 310.3,291.7 311.3,291.7 312.2,291.7 313.2,291.7 314.2,291.7 315.1,291.7 316.1,291.7 317.0,291.8 318.0,291.8 319.0,291.8 319.9,291.9 320.9,291.9 321.8,292.0 322.8,292.1 323.8,292.1 324.7,292.2 325.7,292.3 326.6,292.4 327.6,292.4 328.6,292.5 329.5,292.6 330.5,292.7 331.4,292.8 332.4,292.9 333.4,292.9 334.3,293.0 335.3,293.1 336.2,293.2 337.2,293.3 338.2,293.4 339.1,293.5 340.1,293.5 341.0,293.6 342.0,293.7"/>
<polyline points="54.0,311.8 55.0,306.2 55.9,301.5 56.9,297.5 57.8,293.7 58.8,290.1 59.8,286.4 60.7,282.8 61.7,279.1 62.6,275.5 63.6,272.1 64.6,268.8 65.5,265.6 66.5,262.7 67.4,259.9 68.4,257.2 69.4,254.7 70.3,252.4 71.3,250.2 72.2,248.2 73.2,246.4 74.2,244.6 75.1,243.0 76.1,241.5 77.0,240.2 78.0,239.0 79.0,237.9 79.9,236.9 80.9,236.0 81.8,235.2 82.8,234.4 83.8,233.8 84.7,233.2 85.7,232.7 86.6,232.3 87.6,231.9 88.6,231.5 89.5,231.2 90.5,230.9 91.4,230.6 92.4,230.4 93.4,230.2 94.3,230.0 95.3,229.8 96.2,229.7 97.2,229.5 98.2,229.4 99.1,229.3 100.1,229.1 101.0,229.0 102.0,228.9 103.0,228.8 103.9,228.8 104.9,228.7 105.8,228.6 106.8,228.6 107.8,228.5 108.7,228.5 109.7,228.5 110.6,228.5 111.6,228.5 112.6,228.6 113.5,228.7 114.5,228.8 115.4,229.0 116.4,229.2 117.4,229.4 118.3,229.7 119.3,230.1 120.2,230.4 121.2,230.9 122.2,231.4 123.1,231.9 124.1,232.5 125.0,233.2 126.0,234.0 127.0,234.8 127.9,235.8 128.9,236.9 129.8,238.1 130.8,239.4 131.8,240.9 132.7,242.4 133.7,244.1 134.6,245.8 135.6,247.6 136.6,249.4 137.5,251.2 138.5,253.0 139.4,254.8 140.4,256.6 141.4,258.3 142.3,260.1 143.3,261.8 144.2,263.5 145.2,265.2 146.2,266.9 147.1,268.6 148.1,270.3 149.0,271.9 150.0,273.6 151.0,275.2 151.9,276.8 152.9,278.4 153.8,279.9 154.8,281.3 155.8,282.6 156.7,283.8 157.7,285.0 158.6,286.0 159.6,287.0 160.6,287.9 161.5,288.8 162.5,289.6 163.4,290.3 164.4,291.0 165.4,291.7 166.3,292.3 167.3,292.8 168.2,293.3 169.2,293.8 170.2,294.2 171.1,294.6 172.1,294.9 173.0,295.2 174.0,295.5 175.0,295.7 175.9,295.9 176.9,296.0 177.8,296.2 178.8,296.3 179.8,296.4 180.7,296.4 181.7,296.5 182.6,296.5 183.6,296.5 184.6,296.5 185.5,296.4 186.5,296.4 187.4,296.4 188.4,296.3 189.4,296.3 190.3,296.2 191.3,296.1 192.2,296.0 193.2,296.0 194.2,295.9 195.1,295.8 196.1,295.8 197.0,295.7 198.0,295.6 199.0,295.5 199.9,295.5 200.9,295.4 201.8,295.4 202.8,295.3 203.8,295.2 204.7,295.2 205.7,295.1 206.6,295.1 207.6,295.0 208.6,295.0 209.5,294.9 210.5,294.9 211.4,294.9 212.4,294.8 213.4,294.8 214.3,294.8 215.3,294.7 216.2,294.7 217.2,294.7 218.2,294.7 219.1,294.6 220.1,294.6 221.0,294.6 222.0,294.6 223.0,294.5 223.9,294.5 224.9,294.5 225.8,294.5 226.8,294.4 227.8,294.4 228.7,294.4 229.7,294.3 230.6,294.3 231.6,294.3 232.6,294.2 233.5,294.2 234.5,294.2 235.4,294.1 236.4,294.1 237.4,294.0 238.3,294.0 239.3,293.9 240.2,293.9 241.2,293.9 242.2,293.8 243.1,293.8 244.1,293.7 245.0,293.7 246.0,293.6 247.0,293.6 247.9,293.5 248.9,293.5 249.8,293.4 250.8,293.4 251.8,293.4 252.7,293.3 253.7,293.3 254.6,293.2 255.6,293.2 256.6,293.2 257.5,293.1 258.5,293.1 259.4,293.1 260.4,293.0 261.4,293.0 262.3,293.0 263.3,293.0 264.2,293.0 265.2,292.9 266.2,292.9 267.1,292.9 268.1,292.9 269.0,293.0 270.0,293.0 271.0,293.0 271.9,293.0 272.9,293.0 273.8,293.0 274.8,293.0 275.8,293.1 276.7,293.1 277.7,293.1 278.6,293.1 279.6,293.1 280.6,293.1 281.5,293.1 282.5,293.1 283.4,293.1 284.4,293.1 285.4,293.1 286.3,293.1 287.3,293.1 288.2,293.1 289.2,293.0 290.2,293.0 291.1,293.0 292.1,292.9 293.0,292.9 294.0,292.8 295.0,292.8 295.9,292.7 296.9,292.6 297.8,292.6 298.8,292.5 299.8,292.4 300.7,292.4 301.7,292.3 302.6,292.2 303.6,292.1 304.6,292.1 305.5,292.0 306.5,292.0 307.4,291.9 308.4,291.9 309.4,291.8 310.3,291.8 311.3,291.8 312.2,291.8 313.2,291.8 314.2,291.8 315.1,291.8 316.1,291.9 317.0,291.9 318.0,291.9 319.0,292.0 319.9,292.0 320.9,292.1 321.8,292.2 322.8,292.2 323.8,292.3 324.7,292.4 325.7,292.4 326.6,292.5 327.6,292.6 328.6,292.7 329.5,292.8 330.5,292.8 331.4,292.9 332.4,293.0 333.4,293.1 334.3,293.2 335.3,293.3 336.2,293.4 337.2,293.4 338.2,293.5 339.1,293.6 340.1,293.7 341.0,293.8 342.0,293.8"/>
</g>
<line x1="54.00" y1="228.38" x2="342.00" y2="228.38" stroke="#000" stroke-width="2.0" stroke-dasharray="1.39 4.17"/>
<line x1="126.00" y1="311.60" x2="126.00" y2="215.24" stroke="#000" stroke-width="2.1" stroke-dasharray="8.33 8.33"/>
<line x1="54.00" y1="209.00" x2="59.56" y2="209.00" stroke="#000" stroke-width="0.9"/>
<line x1="342.00" y1="209.00" x2="336.44" y2="209.00" stroke="#000" stroke-width="0.9"/>
<text x="48.60" y="213.30" text-anchor="end" font-size="14" font-style="normal" >0</text>
<line x1="54.00" y1="181.41" x2="59.56" y2="181.41" stroke="#000" stroke-width="0.9"/>
<line x1="342.00" y1="181.41" x2="336.44" y2="181.41" stroke="#000" stroke-width="0.9"/>
<text x="48.60" y="185.71" text-anchor="end" font-size="14" font-style="normal" >2</text>
<line x1="54.00" y1="153.83" x2="59.56" y2="153.83" stroke="#000" stroke-width="0.9"/>
<line x1="342.00" y1="153.83" x2="336.44" y2="153.83" stroke="#000" stroke-width="0.9"/>
<text x="48.60" y="158.13" text-anchor="end" font-size="14" font-style="normal" >4</text>
<line x1="54.00" y1="126.24" x2="59.56" y2="126.24" stroke="#000" stroke-width="0.9"/>
<line x1="342.00" y1="126.24" x2="336.44" y2="126.24" stroke="#000" stroke-width="0.9"/>
<text x="48.60" y="130.54" text-anchor="end" font-size="14" font-style="normal" >6</text>
<line x1="54.00" y1="98.66" x2="59.56" y2="98.66" stroke="#000" stroke-width="0.9"/>
<line x1="342.00" y1="98.66" x2="336.44" y2="98.66" stroke="#000" stroke-width="0.9"/>
<text x="48.60" y="102.96" text-anchor="end" font-size="14" font-style="normal" >8</text>
<line x1="54.00" y1="71.07" x2="59.56" y2="71.07" stroke="#000" stroke-width="0.9"/>
<line x1="342.00" y1="71.07" x2="336.44" y2="71.07" stroke="#000" stroke-width="0.9"/>
<text x="48.60" y="75.37" text-anchor="end" font-size="14" font-style="normal" >10</text>
<line x1="54.00" y1="43.48" x2="59.56" y2="43.48" stroke="#000" stroke-width="0.9"/>
<line x1="342.00" y1="43.48" x2="336.44" y2="43.48" stroke="#000" stroke-width="0.9"/>
<text x="48.60" y="47.78" text-anchor="end" font-size="14" font-style="normal" >12</text>
<line x1="54.00" y1="15.90" x2="59.56" y2="15.90" stroke="#000" stroke-width="0.9"/>
<line x1="342.00" y1="15.90" x2="336.44" y2="15.90" stroke="#000" stroke-width="0.9"/>
<text x="48.60" y="20.20" text-anchor="end" font-size="14" font-style="normal" >14</text>
<line x1="54.00" y1="209.00" x2="54.00" y2="203.44" stroke="#000" stroke-width="0.9"/>
<line x1="54.00" y1="15.90" x2="54.00" y2="21.46" stroke="#000" stroke-width="0.9"/>
<line x1="102.00" y1="209.00" x2="102.00" y2="203.44" stroke="#000" stroke-width="0.9"/>
<line x1="102.00" y1="15.90" x2="102.00" y2="21.46" stroke="#000" stroke-width="0.9"/>
<line x1="150.00" y1="209.00" x2="150.00" y2="203.44" stroke="#000" stroke-width="0.9"/>
<line x1="150.00" y1="15.90" x2="150.00" y2="21.46" stroke="#000" stroke-width="0.9"/>
<line x1="198.00" y1="209.00" x2="198.00" y2="203.44" stroke="#000" stroke-width="0.9"/>
<line x1="198.00" y1="15.90" x2="198.00" y2="21.46" stroke="#000" stroke-width="0.9"/>
<line x1="246.00" y1="209.00" x2="246.00" y2="203.44" stroke="#000" stroke-width="0.9"/>
<line x1="246.00" y1="15.90" x2="246.00" y2="21.46" stroke="#000" stroke-width="0.9"/>
<line x1="294.00" y1="209.00" x2="294.00" y2="203.44" stroke="#000" stroke-width="0.9"/>
<line x1="294.00" y1="15.90" x2="294.00" y2="21.46" stroke="#000" stroke-width="0.9"/>
<line x1="342.00" y1="209.00" x2="342.00" y2="203.44" stroke="#000" stroke-width="0.9"/>
<line x1="342.00" y1="15.90" x2="342.00" y2="21.46" stroke="#000" stroke-width="0.9"/>
<rect x="54.0" y="16.1" width="288.2" height="193.1" fill="none" stroke="#000" stroke-width="0.85"/>
<line x1="54.00" y1="311.60" x2="59.56" y2="311.60" stroke="#000" stroke-width="0.9"/>
<line x1="342.00" y1="311.60" x2="336.44" y2="311.60" stroke="#000" stroke-width="0.9"/>
<text x="48.60" y="315.90" text-anchor="end" font-size="14" font-style="normal" >0.0</text>
<line x1="54.00" y1="294.08" x2="59.56" y2="294.08" stroke="#000" stroke-width="0.9"/>
<line x1="342.00" y1="294.08" x2="336.44" y2="294.08" stroke="#000" stroke-width="0.9"/>
<text x="48.60" y="298.38" text-anchor="end" font-size="14" font-style="normal" >0.2</text>
<line x1="54.00" y1="276.56" x2="59.56" y2="276.56" stroke="#000" stroke-width="0.9"/>
<line x1="342.00" y1="276.56" x2="336.44" y2="276.56" stroke="#000" stroke-width="0.9"/>
<text x="48.60" y="280.86" text-anchor="end" font-size="14" font-style="normal" >0.4</text>
<line x1="54.00" y1="259.04" x2="59.56" y2="259.04" stroke="#000" stroke-width="0.9"/>
<line x1="342.00" y1="259.04" x2="336.44" y2="259.04" stroke="#000" stroke-width="0.9"/>
<text x="48.60" y="263.34" text-anchor="end" font-size="14" font-style="normal" >0.6</text>
<line x1="54.00" y1="241.52" x2="59.56" y2="241.52" stroke="#000" stroke-width="0.9"/>
<line x1="342.00" y1="241.52" x2="336.44" y2="241.52" stroke="#000" stroke-width="0.9"/>
<text x="48.60" y="245.82" text-anchor="end" font-size="14" font-style="normal" >0.8</text>
<line x1="54.00" y1="224.00" x2="59.56" y2="224.00" stroke="#000" stroke-width="0.9"/>
<line x1="342.00" y1="224.00" x2="336.44" y2="224.00" stroke="#000" stroke-width="0.9"/>
<text x="48.60" y="228.30" text-anchor="end" font-size="14" font-style="normal" >1.0</text>
<line x1="54.00" y1="311.60" x2="54.00" y2="306.04" stroke="#000" stroke-width="0.9"/>
<line x1="54.00" y1="215.24" x2="54.00" y2="220.80" stroke="#000" stroke-width="0.9"/>
<text x="54.00" y="327.50" text-anchor="middle" font-size="14" font-style="normal" >0</text>
<line x1="102.00" y1="311.60" x2="102.00" y2="306.04" stroke="#000" stroke-width="0.9"/>
<line x1="102.00" y1="215.24" x2="102.00" y2="220.80" stroke="#000" stroke-width="0.9"/>
<text x="102.00" y="327.50" text-anchor="middle" font-size="14" font-style="normal" >5</text>
<line x1="150.00" y1="311.60" x2="150.00" y2="306.04" stroke="#000" stroke-width="0.9"/>
<line x1="150.00" y1="215.24" x2="150.00" y2="220.80" stroke="#000" stroke-width="0.9"/>
<text x="150.00" y="327.50" text-anchor="middle" font-size="14" font-style="normal" >10</text>
<line x1="198.00" y1="311.60" x2="198.00" y2="306.04" stroke="#000" stroke-width="0.9"/>
<line x1="198.00" y1="215.24" x2="198.00" y2="220.80" stroke="#000" stroke-width="0.9"/>
<text x="198.00" y="327.50" text-anchor="middle" font-size="14" font-style="normal" >15</text>
<line x1="246.00" y1="311.60" x2="246.00" y2="306.04" stroke="#000" stroke-width="0.9"/>
<line x1="246.00" y1="215.24" x2="246.00" y2="220.80" stroke="#000" stroke-width="0.9"/>
<text x="246.00" y="327.50" text-anchor="middle" font-size="14" font-style="normal" >20</text>
<line x1="294.00" y1="311.60" x2="294.00" y2="306.04" stroke="#000" stroke-width="0.9"/>
<line x1="294.00" y1="215.24" x2="294.00" y2="220.80" stroke="#000" stroke-width="0.9"/>
<text x="294.00" y="327.50" text-anchor="middle" font-size="14" font-style="normal" >25</text>
<line x1="342.00" y1="311.60" x2="342.00" y2="306.04" stroke="#000" stroke-width="0.9"/>
<line x1="342.00" y1="215.24" x2="342.00" y2="220.80" stroke="#000" stroke-width="0.9"/>
<text x="342.00" y="327.50" text-anchor="middle" font-size="14" font-style="normal" >30</text>
<rect x="54.0" y="215.24" width="288.2" height="96.61000000000001" fill="none" stroke="#000" stroke-width="0.85"/>
<g transform="translate(24.70,128.10) rotate(-90)">
<text x="-0.42" y="0.00" font-size="14" font-style="italic">σ</text>
<text x="7.76" y="-6.00" font-size="10" font-style="normal">2</text>
<text x="14.28" y="0.00" font-size="14" font-style="normal">(</text>
<text x="19.78" y="0.00" font-size="14" font-style="italic">t</text>
<text x="26.15" y="0.00" font-size="14" font-style="normal">)</text>
</g>
<g transform="translate(20.70,277.90) rotate(-90)">
<text x="0.16" y="0.00" font-size="14" font-style="italic">D</text>
<text x="12.48" y="0.00" font-size="14" font-style="normal">(</text>
<text x="18.18" y="0.00" font-size="14" font-style="italic">t</text>
<text x="23.15" y="0.00" font-size="14" font-style="normal">)</text>
</g>
<text x="198.15" y="346.80" text-anchor="middle" font-size="14" font-style="normal" >t</text>
<line x1="66.00" y1="33.42" x2="93.00" y2="33.42" stroke="#000" stroke-width="2.0" stroke-dasharray="1.39 4.17" stroke-dashoffset="-0.7"/>
<line x1="66.00" y1="52.67" x2="94.80" y2="52.67" stroke="#fdcc8a" stroke-width="2.0"/>
<line x1="66.00" y1="71.92" x2="94.80" y2="71.92" stroke="#fc8d59" stroke-width="2.0"/>
<line x1="66.00" y1="91.17" x2="94.80" y2="91.17" stroke="#d7301f" stroke-width="2.0"/>
<line x1="66.00" y1="110.42" x2="94.80" y2="110.42" stroke="#000" stroke-width="2.1" stroke-dasharray="8.33 8.33"/>
<text x="105.90" y="38.72" text-anchor="start" font-size="14" font-style="normal" >Diffusion</text>
<text x="106.92" y="57.97" font-size="14" font-style="italic">χ</text>
<text transform="translate(117.69,57.97) scale(1.443,1)" font-size="14">=</text>
<text x="132.00" y="57.97" font-size="14">64</text>
<text x="106.92" y="77.22" font-size="14" font-style="italic">χ</text>
<text transform="translate(117.69,77.22) scale(1.443,1)" font-size="14">=</text>
<text x="132.00" y="77.22" font-size="14">128</text>
<text x="106.92" y="96.47" font-size="14" font-style="italic">χ</text>
<text transform="translate(117.69,96.47) scale(1.443,1)" font-size="14">=</text>
<text x="132.00" y="96.47" font-size="14">256</text>
<text x="105.16" y="114.02" font-size="14.5" font-style="italic">t</text>
<text x="110.35" y="115.1" font-size="7.5" font-family="DejaVu Sans, sans-serif">∗</text>
<rect x="221.8" y="113.3" width="103.59999999999997" height="59.000000000000014" fill="#fff"/>
<polyline points="221.80,159.00 236.09,151.85 245.81,146.99 253.19,143.31 259.13,140.33 264.11,137.84 268.39,135.70 272.15,133.82 275.50,132.15 278.52,130.64 281.27,129.26 283.80,128.00 286.13,126.84 288.30,125.75 290.32,124.74 292.22,123.79 294.01,122.89 295.70,122.05 297.30,121.25 298.83,120.49 300.28,119.76 301.66,119.07 302.99,118.40 304.26,117.77 305.48,117.16 306.66,116.57 307.79,116.01 308.88,115.46 309.93,114.93 310.95,114.42 311.94,113.93 312.89,113.45 313.82,112.99 314.72,112.54 315.59,112.10 316.44,111.68 317.27,111.27 318.07,110.86 318.86,110.47 319.62,110.09 320.37,109.72 321.10,109.35 321.81,108.99 322.51,108.65 323.19,108.31 323.85,107.97 324.50,107.65 325.14,107.33 325.77,107.02 326.38,106.71" fill="none" stroke="#000" stroke-width="2.0" stroke-dasharray="1.39 4.17" stroke-dashoffset="-1.6" clip-path="url(#cins)"/>
<g fill="none" stroke="#fdcc8a" stroke-width="1.7" stroke-opacity="0.55" stroke-linejoin="round" clip-path="url(#cins)">
<polyline points="220.5,170.4 221.2,170.1 221.8,169.8 222.4,169.5 223.0,169.3 223.6,169.0 224.2,168.7 224.7,168.4 225.3,168.2 225.8,167.9 226.4,167.6 226.9,167.3 227.4,167.1 227.9,166.8 228.4,166.5 228.9,166.3 229.4,166.0 229.9,165.7 230.3,165.4 230.8,165.2 231.3,164.9 231.7,164.6 232.1,164.4 232.6,164.1 233.0,163.9 233.4,163.6 233.9,163.3 234.3,163.1 234.7,162.8 235.1,162.6 235.5,162.3 235.9,162.1 236.3,161.8 236.6,161.6 237.0,161.3 237.4,161.1 237.8,160.8 238.1,160.6 238.5,160.4 238.8,160.1 239.2,159.9 239.5,159.7 239.9,159.4 240.2,159.2 240.5,159.0 240.9,158.7 241.2,158.5 241.5,158.3 241.9,158.1 242.2,157.9 242.5,157.7 242.8,157.5 243.1,157.2 244.6,156.3 246.0,155.3 247.4,154.4 248.7,153.6 250.0,152.7 251.2,151.9 252.3,151.1 253.5,150.3 254.5,149.5 255.6,148.8 256.6,148.1 257.6,147.4 258.5,146.7 259.4,146.1 260.3,145.5 261.2,144.9 262.0,144.3 262.8,143.8 263.6,143.2 264.4,142.7 265.2,142.2 265.9,141.7 266.6,141.3 267.4,140.8 268.0,140.4 268.7,140.0 269.4,139.5 270.0,139.1 270.7,138.7 271.3,138.4 271.9,138.0 272.5,137.6 273.1,137.3 273.7,136.9 274.2,136.6 274.8,136.3 275.3,136.0 275.9,135.7 276.4,135.4 276.9,135.1 277.4,134.9 277.9,134.6 278.4,134.4 278.9,134.1 279.4,133.9 279.8,133.7 280.3,133.5 280.7,133.3 281.2,133.1 281.6,133.0 282.1,132.8 282.5,132.7 282.9,132.5 283.3,132.4 283.8,132.3 284.2,132.2 284.6,132.2 285.0,132.1 285.4,132.1 285.7,132.0 286.1,132.0 286.5,131.9 286.9,131.9 287.2,131.8 287.6,131.8 288.0,131.8 288.3,131.7 288.7,131.7 289.0,131.7 289.4,131.6 289.7,131.6 290.0,131.5 290.4,131.5 290.7,131.5 291.0,131.4 291.3,131.4 291.7,131.3 292.0,131.3 292.3,131.2 292.6,131.2 292.9,131.2 293.2,131.1 293.5,131.1 293.8,131.0 294.1,131.0 294.4,130.9 294.7,130.9 295.0,130.9 295.2,130.8 295.5,130.8 295.8,130.7 296.1,130.7 296.4,130.6 296.6,130.6 296.9,130.5 297.2,130.5 297.4,130.5 297.7,130.4 297.9,130.4 298.2,130.3 298.5,130.3 298.7,130.2 299.0,130.2 299.2,130.2 299.5,130.1 299.7,130.1 299.9,130.0 300.2,130.0 300.4,129.9 300.7,129.9 300.9,129.8 301.1,129.8 301.4,129.8 301.6,129.7 301.8,129.7 302.1,129.6 302.3,129.6 302.5,129.5 302.7,129.5 302.9,129.5 303.2,129.4 303.4,129.4 303.6,129.3 303.8,129.3 304.0,129.3 304.2,129.2 304.4,129.2 304.7,129.1 304.9,129.1 305.1,129.1 305.3,129.0 305.5,129.0 305.7,128.9 305.9,128.9 306.1,128.9 306.3,128.8 306.5,128.8 306.7,128.7 306.9,128.7 307.1,128.7 307.2,128.6 307.4,128.6 307.6,128.5 307.8,128.5 308.0,128.5 308.2,128.4 308.4,128.4 308.6,128.3 308.7,128.3 308.9,128.3 309.1,128.2 309.3,128.2 309.5,128.2 309.6,128.1 309.8,128.1 310.0,128.0 310.2,128.0 310.3,128.0 310.5,127.9 310.7,127.9 310.8,127.8 311.0,127.8 311.2,127.8 311.3,127.7 311.5,127.7 311.7,127.7 311.8,127.6 312.0,127.6 312.2,127.5 312.3,127.5 312.5,127.5 312.7,127.4 312.8,127.4 313.0,127.3 313.1,127.3 313.3,127.3 313.4,127.2 313.6,127.2 313.8,127.2 313.9,127.1 314.1,127.1 314.2,127.1 314.4,127.0 314.5,127.0 314.7,126.9 314.8,126.9 315.0,126.9 315.1,126.8 315.3,126.8 315.4,126.8 315.6,126.7 315.7,126.7 315.8,126.6 316.0,126.6 316.1,126.6 316.3,126.5 316.4,126.5 316.6,126.5 316.7,126.4 316.8,126.4 317.0,126.4 317.1,126.3 317.3,126.3 317.4,126.2 317.5,126.2 317.7,126.2 317.8,126.1 317.9,126.1 318.1,126.1 318.2,126.0 318.3,126.0 318.5,126.0 318.6,125.9 318.7,125.9 318.9,125.8 319.0,125.8 319.1,125.8 319.3,125.7 319.4,125.7 319.5,125.7 319.6,125.6 319.8,125.6 319.9,125.6 320.0,125.5 320.2,125.5 320.3,125.4 320.4,125.4 320.5,125.4 320.7,125.3 320.8,125.3 320.9,125.3 321.0,125.2 321.1,125.2 321.3,125.1 321.4,125.1 321.5,125.1 321.6,125.0 321.7,125.0 321.9,125.0 322.0,124.9 322.1,124.9 322.2,124.8 322.3,124.8 322.4,124.8 322.6,124.7 322.7,124.7 322.8,124.7 322.9,124.6 323.0,124.6 323.1,124.5 323.3,124.5 323.4,124.5 323.5,124.4 323.6,124.4 323.7,124.4 323.8,124.3 323.9,124.3 324.0,124.3 324.1,124.2 324.3,124.2 324.4,124.2 324.5,124.1 324.6,124.1 324.7,124.1 324.8,124.0 324.9,124.0 325.0,124.0 325.1,123.9 325.2,123.9 325.3,123.9 325.4,123.8 325.5,123.8 325.7,123.8 325.8,123.7 325.9,123.7 326.0,123.7 326.1,123.6 326.2,123.6 326.3,123.6 326.4,123.6"/>
<polyline points="220.5,170.4 221.2,170.1 221.8,169.8 222.4,169.5 223.0,169.3 223.6,169.0 224.2,168.7 224.7,168.4 225.3,168.2 225.8,167.9 226.4,167.6 226.9,167.3 227.4,167.1 227.9,166.8 228.4,166.5 228.9,166.3 229.4,166.0 229.9,165.7 230.3,165.4 230.8,165.2 231.3,164.9 231.7,164.6 232.1,164.4 232.6,164.1 233.0,163.9 233.4,163.6 233.9,163.3 234.3,163.1 234.7,162.8 235.1,162.6 235.5,162.3 235.9,162.1 236.3,161.8 236.6,161.6 237.0,161.3 237.4,161.1 237.8,160.8 238.1,160.6 238.5,160.4 238.8,160.1 239.2,159.9 239.5,159.7 239.9,159.4 240.2,159.2 240.5,159.0 240.9,158.7 241.2,158.5 241.5,158.3 241.9,158.1 242.2,157.9 242.5,157.7 242.8,157.5 243.1,157.2 244.6,156.3 246.0,155.3 247.4,154.4 248.7,153.6 250.0,152.7 251.2,151.9 252.3,151.1 253.5,150.3 254.5,149.5 255.6,148.8 256.6,148.1 257.6,147.4 258.5,146.7 259.4,146.1 260.3,145.5 261.2,144.9 262.0,144.3 262.8,143.8 263.6,143.2 264.4,142.7 265.2,142.2 265.9,141.7 266.6,141.3 267.4,140.8 268.0,140.4 268.7,140.0 269.4,139.5 270.0,139.1 270.7,138.7 271.3,138.4 271.9,138.0 272.5,137.6 273.1,137.3 273.7,136.9 274.2,136.6 274.8,136.3 275.3,136.0 275.9,135.7 276.4,135.4 276.9,135.1 277.4,134.9 277.9,134.6 278.4,134.4 278.9,134.1 279.4,133.9 279.8,133.7 280.3,133.5 280.7,133.3 281.2,133.1 281.6,132.9 282.1,132.8 282.5,132.6 282.9,132.5 283.3,132.3 283.8,132.2 284.2,132.1 284.6,132.1 285.0,132.0 285.4,132.0 285.7,131.9 286.1,131.8 286.5,131.8 286.9,131.7 287.2,131.7 287.6,131.6 288.0,131.6 288.3,131.5 288.7,131.5 289.0,131.4 289.4,131.4 289.7,131.3 290.0,131.3 290.4,131.3 290.7,131.2 291.0,131.2 291.3,131.1 291.7,131.1 292.0,131.0 292.3,131.0 292.6,130.9 292.9,130.9 293.2,130.9 293.5,130.8 293.8,130.8 294.1,130.7 294.4,130.7 294.7,130.6 295.0,130.6 295.2,130.6 295.5,130.5 295.8,130.5 296.1,130.4 296.4,130.4 296.6,130.3 296.9,130.3 297.2,130.3 297.4,130.2 297.7,130.2 297.9,130.1 298.2,130.1 298.5,130.0 298.7,130.0 299.0,129.9 299.2,129.9 299.5,129.9 299.7,129.8 299.9,129.8 300.2,129.7 300.4,129.7 300.7,129.6 300.9,129.6 301.1,129.6 301.4,129.5 301.6,129.5 301.8,129.4 302.1,129.4 302.3,129.3 302.5,129.3 302.7,129.3 302.9,129.2 303.2,129.2 303.4,129.1 303.6,129.1 303.8,129.1 304.0,129.0 304.2,129.0 304.4,128.9 304.7,128.9 304.9,128.9 305.1,128.8 305.3,128.8 305.5,128.7 305.7,128.7 305.9,128.7 306.1,128.6 306.3,128.6 306.5,128.6 306.7,128.5 306.9,128.5 307.1,128.4 307.2,128.4 307.4,128.4 307.6,128.3 307.8,128.3 308.0,128.2 308.2,128.2 308.4,128.2 308.6,128.1 308.7,128.1 308.9,128.1 309.1,128.0 309.3,128.0 309.5,127.9 309.6,127.9 309.8,127.9 310.0,127.8 310.2,127.8 310.3,127.7 310.5,127.7 310.7,127.7 310.8,127.6 311.0,127.6 311.2,127.6 311.3,127.5 311.5,127.5 311.7,127.4 311.8,127.4 312.0,127.4 312.2,127.3 312.3,127.3 312.5,127.3 312.7,127.2 312.8,127.2 313.0,127.1 313.1,127.1 313.3,127.1 313.4,127.0 313.6,127.0 313.8,127.0 313.9,126.9 314.1,126.9 314.2,126.8 314.4,126.8 314.5,126.8 314.7,126.7 314.8,126.7 315.0,126.7 315.1,126.6 315.3,126.6 315.4,126.6 315.6,126.5 315.7,126.5 315.8,126.4 316.0,126.4 316.1,126.4 316.3,126.3 316.4,126.3 316.6,126.3 316.7,126.2 316.8,126.2 317.0,126.2 317.1,126.1 317.3,126.1 317.4,126.1 317.5,126.0 317.7,126.0 317.8,125.9 317.9,125.9 318.1,125.9 318.2,125.8 318.3,125.8 318.5,125.8 318.6,125.7 318.7,125.7 318.9,125.7 319.0,125.6 319.1,125.6 319.3,125.6 319.4,125.5 319.5,125.5 319.6,125.4 319.8,125.4 319.9,125.4 320.0,125.3 320.2,125.3 320.3,125.3 320.4,125.2 320.5,125.2 320.7,125.2 320.8,125.1 320.9,125.1 321.0,125.0 321.1,125.0 321.3,125.0 321.4,124.9 321.5,124.9 321.6,124.9 321.7,124.8 321.9,124.8 322.0,124.7 322.1,124.7 322.2,124.7 322.3,124.6 322.4,124.6 322.6,124.6 322.7,124.5 322.8,124.5 322.9,124.4 323.0,124.4 323.1,124.4 323.3,124.3 323.4,124.3 323.5,124.3 323.6,124.2 323.7,124.2 323.8,124.2 323.9,124.1 324.0,124.1 324.1,124.1 324.3,124.0 324.4,124.0 324.5,124.0 324.6,123.9 324.7,123.9 324.8,123.9 324.9,123.8 325.0,123.8 325.1,123.8 325.2,123.7 325.3,123.7 325.4,123.7 325.5,123.6 325.7,123.6 325.8,123.6 325.9,123.5 326.0,123.5 326.1,123.5 326.2,123.5 326.3,123.4 326.4,123.4"/>
<polyline points="220.5,170.4 221.2,170.1 221.8,169.8 222.4,169.5 223.0,169.3 223.6,169.0 224.2,168.7 224.7,168.4 225.3,168.2 225.8,167.9 226.4,167.6 226.9,167.3 227.4,167.1 227.9,166.8 228.4,166.5 228.9,166.3 229.4,166.0 229.9,165.7 230.3,165.4 230.8,165.2 231.3,164.9 231.7,164.6 232.1,164.4 232.6,164.1 233.0,163.9 233.4,163.6 233.9,163.3 234.3,163.1 234.7,162.8 235.1,162.6 235.5,162.3 235.9,162.1 236.3,161.8 236.6,161.6 237.0,161.3 237.4,161.1 237.8,160.8 238.1,160.6 238.5,160.4 238.8,160.1 239.2,159.9 239.5,159.7 239.9,159.4 240.2,159.2 240.5,159.0 240.9,158.7 241.2,158.5 241.5,158.3 241.9,158.1 242.2,157.9 242.5,157.7 242.8,157.5 243.1,157.2 244.6,156.3 246.0,155.3 247.4,154.4 248.7,153.6 250.0,152.7 251.2,151.9 252.3,151.1 253.5,150.3 254.5,149.5 255.6,148.8 256.6,148.1 257.6,147.4 258.5,146.7 259.4,146.1 260.3,145.5 261.2,144.9 262.0,144.3 262.8,143.8 263.6,143.2 264.4,142.7 265.2,142.2 265.9,141.7 266.6,141.3 267.4,140.8 268.0,140.4 268.7,140.0 269.4,139.5 270.0,139.1 270.7,138.7 271.3,138.4 271.9,138.0 272.5,137.6 273.1,137.3 273.7,136.9 274.2,136.6 274.8,136.3 275.3,136.0 275.9,135.7 276.4,135.4 276.9,135.1 277.4,134.9 277.9,134.6 278.4,134.4 278.9,134.1 279.4,133.9 279.8,133.7 280.3,133.5 280.7,133.3 281.2,133.1 281.6,132.9 282.1,132.7 282.5,132.6 282.9,132.4 283.3,132.3 283.8,132.1 284.2,132.0 284.6,132.0 285.0,131.9 285.4,131.8 285.7,131.8 286.1,131.7 286.5,131.6 286.9,131.6 287.2,131.5 287.6,131.4 288.0,131.4 288.3,131.3 288.7,131.3 289.0,131.2 289.4,131.2 289.7,131.1 290.0,131.1 290.4,131.0 290.7,131.0 291.0,130.9 291.3,130.9 291.7,130.8 292.0,130.8 292.3,130.7 292.6,130.7 292.9,130.6 293.2,130.6 293.5,130.6 293.8,130.5 294.1,130.5 294.4,130.4 294.7,130.4 295.0,130.3 295.2,130.3 295.5,130.3 295.8,130.2 296.1,130.2 296.4,130.1 296.6,130.1 296.9,130.0 297.2,130.0 297.4,130.0 297.7,129.9 297.9,129.9 298.2,129.8 298.5,129.8 298.7,129.7 299.0,129.7 299.2,129.7 299.5,129.6 299.7,129.6 299.9,129.5 300.2,129.5 300.4,129.5 300.7,129.4 300.9,129.4 301.1,129.3 301.4,129.3 301.6,129.2 301.8,129.2 302.1,129.2 302.3,129.1 302.5,129.1 302.7,129.0 302.9,129.0 303.2,129.0 303.4,128.9 303.6,128.9 303.8,128.8 304.0,128.8 304.2,128.8 304.4,128.7 304.7,128.7 304.9,128.6 305.1,128.6 305.3,128.6 305.5,128.5 305.7,128.5 305.9,128.4 306.1,128.4 306.3,128.4 306.5,128.3 306.7,128.3 306.9,128.3 307.1,128.2 307.2,128.2 307.4,128.1 307.6,128.1 307.8,128.1 308.0,128.0 308.2,128.0 308.4,127.9 308.6,127.9 308.7,127.9 308.9,127.8 309.1,127.8 309.3,127.8 309.5,127.7 309.6,127.7 309.8,127.6 310.0,127.6 310.2,127.6 310.3,127.5 310.5,127.5 310.7,127.5 310.8,127.4 311.0,127.4 311.2,127.3 311.3,127.3 311.5,127.3 311.7,127.2 311.8,127.2 312.0,127.2 312.2,127.1 312.3,127.1 312.5,127.1 312.7,127.0 312.8,127.0 313.0,126.9 313.1,126.9 313.3,126.9 313.4,126.8 313.6,126.8 313.8,126.8 313.9,126.7 314.1,126.7 314.2,126.7 314.4,126.6 314.5,126.6 314.7,126.5 314.8,126.5 315.0,126.5 315.1,126.4 315.3,126.4 315.4,126.4 315.6,126.3 315.7,126.3 315.8,126.3 316.0,126.2 316.1,126.2 316.3,126.1 316.4,126.1 316.6,126.1 316.7,126.0 316.8,126.0 317.0,126.0 317.1,125.9 317.3,125.9 317.4,125.9 317.5,125.8 317.7,125.8 317.8,125.8 317.9,125.7 318.1,125.7 318.2,125.7 318.3,125.6 318.5,125.6 318.6,125.5 318.7,125.5 318.9,125.5 319.0,125.4 319.1,125.4 319.3,125.4 319.4,125.3 319.5,125.3 319.6,125.3 319.8,125.2 319.9,125.2 320.0,125.2 320.2,125.1 320.3,125.1 320.4,125.1 320.5,125.0 320.7,125.0 320.8,124.9 320.9,124.9 321.0,124.9 321.1,124.8 321.3,124.8 321.4,124.8 321.5,124.7 321.6,124.7 321.7,124.6 321.9,124.6 322.0,124.6 322.1,124.5 322.2,124.5 322.3,124.5 322.4,124.4 322.6,124.4 322.7,124.4 322.8,124.3 322.9,124.3 323.0,124.2 323.1,124.2 323.3,124.2 323.4,124.1 323.5,124.1 323.6,124.1 323.7,124.0 323.8,124.0 323.9,124.0 324.0,123.9 324.1,123.9 324.3,123.9 324.4,123.8 324.5,123.8 324.6,123.8 324.7,123.7 324.8,123.7 324.9,123.7 325.0,123.6 325.1,123.6 325.2,123.6 325.3,123.5 325.4,123.5 325.5,123.5 325.7,123.4 325.8,123.4 325.9,123.4 326.0,123.4 326.1,123.3 326.2,123.3 326.3,123.3 326.4,123.2"/>
<polyline points="220.5,170.4 221.2,170.1 221.8,169.8 222.4,169.5 223.0,169.3 223.6,169.0 224.2,168.7 224.7,168.4 225.3,168.2 225.8,167.9 226.4,167.6 226.9,167.3 227.4,167.1 227.9,166.8 228.4,166.5 228.9,166.3 229.4,166.0 229.9,165.7 230.3,165.4 230.8,165.2 231.3,164.9 231.7,164.6 232.1,164.4 232.6,164.1 233.0,163.9 233.4,163.6 233.9,163.3 234.3,163.1 234.7,162.8 235.1,162.6 235.5,162.3 235.9,162.1 236.3,161.8 236.6,161.6 237.0,161.3 237.4,161.1 237.8,160.8 238.1,160.6 238.5,160.4 238.8,160.1 239.2,159.9 239.5,159.7 239.9,159.4 240.2,159.2 240.5,159.0 240.9,158.7 241.2,158.5 241.5,158.3 241.9,158.1 242.2,157.9 242.5,157.7 242.8,157.5 243.1,157.2 244.6,156.3 246.0,155.3 247.4,154.4 248.7,153.6 250.0,152.7 251.2,151.9 252.3,151.1 253.5,150.3 254.5,149.5 255.6,148.8 256.6,148.1 257.6,147.4 258.5,146.7 259.4,146.1 260.3,145.5 261.2,144.9 262.0,144.3 262.8,143.8 263.6,143.2 264.4,142.7 265.2,142.2 265.9,141.7 266.6,141.3 267.4,140.8 268.0,140.4 268.7,140.0 269.4,139.5 270.0,139.1 270.7,138.7 271.3,138.4 271.9,138.0 272.5,137.6 273.1,137.3 273.7,136.9 274.2,136.6 274.8,136.3 275.3,136.0 275.9,135.7 276.4,135.4 276.9,135.1 277.4,134.9 277.9,134.6 278.4,134.4 278.9,134.1 279.4,133.9 279.8,133.7 280.3,133.4 280.7,133.2 281.2,133.0 281.6,132.8 282.1,132.7 282.5,132.5 282.9,132.3 283.3,132.2 283.8,132.0 284.2,131.9 284.6,131.9 285.0,131.8 285.4,131.7 285.7,131.6 286.1,131.5 286.5,131.5 286.9,131.4 287.2,131.3 287.6,131.3 288.0,131.2 288.3,131.1 288.7,131.1 289.0,131.0 289.4,130.9 289.7,130.9 290.0,130.8 290.4,130.8 290.7,130.7 291.0,130.7 291.3,130.6 291.7,130.6 292.0,130.5 292.3,130.5 292.6,130.4 292.9,130.4 293.2,130.3 293.5,130.3 293.8,130.3 294.1,130.2 294.4,130.2 294.7,130.1 295.0,130.1 295.2,130.1 295.5,130.0 295.8,130.0 296.1,129.9 296.4,129.9 296.6,129.8 296.9,129.8 297.2,129.8 297.4,129.7 297.7,129.7 297.9,129.6 298.2,129.6 298.5,129.6 298.7,129.5 299.0,129.5 299.2,129.4 299.5,129.4 299.7,129.3 299.9,129.3 300.2,129.3 300.4,129.2 300.7,129.2 300.9,129.1 301.1,129.1 301.4,129.0 301.6,129.0 301.8,129.0 302.1,128.9 302.3,128.9 302.5,128.8 302.7,128.8 302.9,128.8 303.2,128.7 303.4,128.7 303.6,128.6 303.8,128.6 304.0,128.6 304.2,128.5 304.4,128.5 304.7,128.5 304.9,128.4 305.1,128.4 305.3,128.3 305.5,128.3 305.7,128.3 305.9,128.2 306.1,128.2 306.3,128.1 306.5,128.1 306.7,128.1 306.9,128.0 307.1,128.0 307.2,128.0 307.4,127.9 307.6,127.9 307.8,127.8 308.0,127.8 308.2,127.8 308.4,127.7 308.6,127.7 308.7,127.7 308.9,127.6 309.1,127.6 309.3,127.6 309.5,127.5 309.6,127.5 309.8,127.4 310.0,127.4 310.2,127.4 310.3,127.3 310.5,127.3 310.7,127.3 310.8,127.2 311.0,127.2 311.2,127.1 311.3,127.1 311.5,127.1 311.7,127.0 311.8,127.0 312.0,127.0 312.2,126.9 312.3,126.9 312.5,126.9 312.7,126.8 312.8,126.8 313.0,126.7 313.1,126.7 313.3,126.7 313.4,126.6 313.6,126.6 313.8,126.6 313.9,126.5 314.1,126.5 314.2,126.5 314.4,126.4 314.5,126.4 314.7,126.3 314.8,126.3 315.0,126.3 315.1,126.2 315.3,126.2 315.4,126.2 315.6,126.1 315.7,126.1 315.8,126.1 316.0,126.0 316.1,126.0 316.3,126.0 316.4,125.9 316.6,125.9 316.7,125.9 316.8,125.8 317.0,125.8 317.1,125.7 317.3,125.7 317.4,125.7 317.5,125.6 317.7,125.6 317.8,125.6 317.9,125.5 318.1,125.5 318.2,125.5 318.3,125.4 318.5,125.4 318.6,125.4 318.7,125.3 318.9,125.3 319.0,125.3 319.1,125.2 319.3,125.2 319.4,125.2 319.5,125.1 319.6,125.1 319.8,125.1 319.9,125.0 320.0,125.0 320.2,124.9 320.3,124.9 320.4,124.9 320.5,124.8 320.7,124.8 320.8,124.8 320.9,124.7 321.0,124.7 321.1,124.7 321.3,124.6 321.4,124.6 321.5,124.5 321.6,124.5 321.7,124.5 321.9,124.4 322.0,124.4 322.1,124.4 322.2,124.3 322.3,124.3 322.4,124.3 322.6,124.2 322.7,124.2 322.8,124.1 322.9,124.1 323.0,124.1 323.1,124.0 323.3,124.0 323.4,124.0 323.5,123.9 323.6,123.9 323.7,123.9 323.8,123.8 323.9,123.8 324.0,123.8 324.1,123.7 324.3,123.7 324.4,123.7 324.5,123.6 324.6,123.6 324.7,123.6 324.8,123.5 324.9,123.5 325.0,123.5 325.1,123.4 325.2,123.4 325.3,123.4 325.4,123.3 325.5,123.3 325.7,123.3 325.8,123.3 325.9,123.2 326.0,123.2 326.1,123.2 326.2,123.1 326.3,123.1 326.4,123.1"/>
</g>
<g fill="none" stroke="#fc8d59" stroke-width="1.7" stroke-opacity="0.55" stroke-linejoin="round" clip-path="url(#cins)">
<polyline points="220.5,170.3 221.2,170.1 221.8,169.8 222.4,169.5 223.0,169.3 223.6,169.0 224.2,168.7 224.7,168.4 225.3,168.2 225.8,167.9 226.4,167.6 226.9,167.4 227.4,167.1 227.9,166.8 228.4,166.6 228.9,166.3 229.4,166.0 229.9,165.7 230.3,165.5 230.8,165.2 231.3,164.9 231.7,164.7 232.1,164.4 232.6,164.2 233.0,163.9 233.4,163.6 233.9,163.4 234.3,163.1 234.7,162.9 235.1,162.6 235.5,162.4 235.9,162.1 236.3,161.9 236.6,161.6 237.0,161.4 237.4,161.1 237.8,160.9 238.1,160.7 238.5,160.4 238.8,160.2 239.2,160.0 239.5,159.7 239.9,159.5 240.2,159.3 240.5,159.0 240.9,158.8 241.2,158.6 241.5,158.4 241.9,158.2 242.2,157.9 242.5,157.7 242.8,157.5 243.1,157.3 244.6,156.3 246.0,155.4 247.4,154.5 248.7,153.7 250.0,152.8 251.2,152.0 252.3,151.2 253.5,150.4 254.5,149.6 255.6,148.9 256.6,148.2 257.6,147.5 258.5,146.8 259.4,146.2 260.3,145.6 261.2,145.0 262.0,144.4 262.8,143.9 263.6,143.3 264.4,142.8 265.2,142.3 265.9,141.8 266.6,141.4 267.4,140.9 268.0,140.5 268.7,140.1 269.4,139.7 270.0,139.2 270.7,138.9 271.3,138.5 271.9,138.1 272.5,137.7 273.1,137.3 273.7,137.0 274.2,136.6 274.8,136.3 275.3,136.0 275.9,135.6 276.4,135.3 276.9,135.0 277.4,134.7 277.9,134.4 278.4,134.1 278.9,133.9 279.4,133.6 279.8,133.3 280.3,133.1 280.7,132.8 281.2,132.6 281.6,132.4 282.1,132.1 282.5,131.9 282.9,131.7 283.3,131.5 283.8,131.4 284.2,131.2 284.6,131.0 285.0,130.9 285.4,130.7 285.7,130.6 286.1,130.5 286.5,130.4 286.9,130.3 287.2,130.2 287.6,130.1 288.0,130.0 288.3,129.9 288.7,129.8 289.0,129.8 289.4,129.7 289.7,129.7 290.0,129.6 290.4,129.6 290.7,129.5 291.0,129.5 291.3,129.4 291.7,129.3 292.0,129.3 292.3,129.3 292.6,129.2 292.9,129.2 293.2,129.1 293.5,129.1 293.8,129.0 294.1,129.0 294.4,128.9 294.7,128.9 295.0,128.9 295.2,128.8 295.5,128.8 295.8,128.7 296.1,128.7 296.4,128.7 296.6,128.6 296.9,128.6 297.2,128.6 297.4,128.5 297.7,128.5 297.9,128.4 298.2,128.4 298.5,128.4 298.7,128.3 299.0,128.3 299.2,128.2 299.5,128.2 299.7,128.2 299.9,128.1 300.2,128.1 300.4,128.1 300.7,128.0 300.9,128.0 301.1,127.9 301.4,127.9 301.6,127.9 301.8,127.8 302.1,127.8 302.3,127.8 302.5,127.7 302.7,127.7 302.9,127.6 303.2,127.6 303.4,127.6 303.6,127.5 303.8,127.5 304.0,127.5 304.2,127.4 304.4,127.4 304.7,127.3 304.9,127.3 305.1,127.3 305.3,127.2 305.5,127.2 305.7,127.2 305.9,127.1 306.1,127.1 306.3,127.0 306.5,127.0 306.7,127.0 306.9,126.9 307.1,126.9 307.2,126.9 307.4,126.8 307.6,126.8 307.8,126.7 308.0,126.7 308.2,126.7 308.4,126.6 308.6,126.6 308.7,126.6 308.9,126.5 309.1,126.5 309.3,126.4 309.5,126.4 309.6,126.4 309.8,126.3 310.0,126.3 310.2,126.3 310.3,126.2 310.5,126.2 310.7,126.1 310.8,126.1 311.0,126.1 311.2,126.0 311.3,126.0 311.5,126.0 311.7,125.9 311.8,125.9 312.0,125.8 312.2,125.8 312.3,125.8 312.5,125.7 312.7,125.7 312.8,125.7 313.0,125.6 313.1,125.6 313.3,125.5 313.4,125.5 313.6,125.5 313.8,125.4 313.9,125.4 314.1,125.4 314.2,125.3 314.4,125.3 314.5,125.2 314.7,125.2 314.8,125.2 315.0,125.1 315.1,125.1 315.3,125.1 315.4,125.0 315.6,125.0 315.7,125.0 315.8,124.9 316.0,124.9 316.1,124.8 316.3,124.8 316.4,124.8 316.6,124.7 316.7,124.7 316.8,124.7 317.0,124.6 317.1,124.6 317.3,124.6 317.4,124.5 317.5,124.5 317.7,124.4 317.8,124.4 317.9,124.4 318.1,124.3 318.2,124.3 318.3,124.3 318.5,124.2 318.6,124.2 318.7,124.2 318.9,124.1 319.0,124.1 319.1,124.1 319.3,124.0 319.4,124.0 319.5,124.0 319.6,123.9 319.8,123.9 319.9,123.8 320.0,123.8 320.2,123.8 320.3,123.7 320.4,123.7 320.5,123.7 320.7,123.6 320.8,123.6 320.9,123.6 321.0,123.5 321.1,123.5 321.3,123.5 321.4,123.4 321.5,123.4 321.6,123.4 321.7,123.3 321.9,123.3 322.0,123.3 322.1,123.2 322.2,123.2 322.3,123.2 322.4,123.1 322.6,123.1 322.7,123.1 322.8,123.0 322.9,123.0 323.0,123.0 323.1,122.9 323.3,122.9 323.4,122.9 323.5,122.8 323.6,122.8 323.7,122.8 323.8,122.8 323.9,122.7 324.0,122.7 324.1,122.7 324.3,122.6 324.4,122.6 324.5,122.6 324.6,122.5 324.7,122.5 324.8,122.5 324.9,122.4 325.0,122.4 325.1,122.4 325.2,122.4 325.3,122.3 325.4,122.3 325.5,122.3 325.7,122.2 325.8,122.2 325.9,122.2 326.0,122.2 326.1,122.1 326.2,122.1 326.3,122.1 326.4,122.0"/>
<polyline points="220.5,170.3 221.2,170.1 221.8,169.8 222.4,169.5 223.0,169.3 223.6,169.0 224.2,168.7 224.7,168.4 225.3,168.2 225.8,167.9 226.4,167.6 226.9,167.4 227.4,167.1 227.9,166.8 228.4,166.6 228.9,166.3 229.4,166.0 229.9,165.7 230.3,165.5 230.8,165.2 231.3,164.9 231.7,164.7 232.1,164.4 232.6,164.2 233.0,163.9 233.4,163.6 233.9,163.4 234.3,163.1 234.7,162.9 235.1,162.6 235.5,162.4 235.9,162.1 236.3,161.9 236.6,161.6 237.0,161.4 237.4,161.1 237.8,160.9 238.1,160.7 238.5,160.4 238.8,160.2 239.2,160.0 239.5,159.7 239.9,159.5 240.2,159.3 240.5,159.0 240.9,158.8 241.2,158.6 241.5,158.4 241.9,158.2 242.2,157.9 242.5,157.7 242.8,157.5 243.1,157.3 244.6,156.3 246.0,155.4 247.4,154.5 248.7,153.7 250.0,152.8 251.2,152.0 252.3,151.2 253.5,150.4 254.5,149.6 255.6,148.9 256.6,148.2 257.6,147.5 258.5,146.8 259.4,146.2 260.3,145.6 261.2,145.0 262.0,144.4 262.8,143.9 263.6,143.3 264.4,142.8 265.2,142.3 265.9,141.8 266.6,141.4 267.4,140.9 268.0,140.5 268.7,140.1 269.4,139.7 270.0,139.2 270.7,138.9 271.3,138.5 271.9,138.1 272.5,137.7 273.1,137.3 273.7,137.0 274.2,136.6 274.8,136.3 275.3,136.0 275.9,135.6 276.4,135.3 276.9,135.0 277.4,134.7 277.9,134.4 278.4,134.1 278.9,133.9 279.4,133.6 279.8,133.3 280.3,133.1 280.7,132.8 281.2,132.6 281.6,132.3 282.1,132.1 282.5,131.9 282.9,131.7 283.3,131.5 283.8,131.3 284.2,131.2 284.6,131.0 285.0,130.8 285.4,130.7 285.7,130.5 286.1,130.4 286.5,130.3 286.9,130.2 287.2,130.1 287.6,130.0 288.0,129.9 288.3,129.8 288.7,129.7 289.0,129.6 289.4,129.6 289.7,129.5 290.0,129.5 290.4,129.4 290.7,129.3 291.0,129.3 291.3,129.2 291.7,129.2 292.0,129.1 292.3,129.1 292.6,129.0 292.9,129.0 293.2,128.9 293.5,128.9 293.8,128.8 294.1,128.8 294.4,128.7 294.7,128.7 295.0,128.6 295.2,128.6 295.5,128.6 295.8,128.5 296.1,128.5 296.4,128.4 296.6,128.4 296.9,128.4 297.2,128.3 297.4,128.3 297.7,128.3 297.9,128.2 298.2,128.2 298.5,128.1 298.7,128.1 299.0,128.1 299.2,128.0 299.5,128.0 299.7,128.0 299.9,127.9 300.2,127.9 300.4,127.8 300.7,127.8 300.9,127.8 301.1,127.7 301.4,127.7 301.6,127.7 301.8,127.6 302.1,127.6 302.3,127.6 302.5,127.5 302.7,127.5 302.9,127.4 303.2,127.4 303.4,127.4 303.6,127.3 303.8,127.3 304.0,127.3 304.2,127.2 304.4,127.2 304.7,127.1 304.9,127.1 305.1,127.1 305.3,127.0 305.5,127.0 305.7,127.0 305.9,126.9 306.1,126.9 306.3,126.8 306.5,126.8 306.7,126.8 306.9,126.7 307.1,126.7 307.2,126.7 307.4,126.6 307.6,126.6 307.8,126.5 308.0,126.5 308.2,126.5 308.4,126.4 308.6,126.4 308.7,126.4 308.9,126.3 309.1,126.3 309.3,126.2 309.5,126.2 309.6,126.2 309.8,126.1 310.0,126.1 310.2,126.1 310.3,126.0 310.5,126.0 310.7,125.9 310.8,125.9 311.0,125.9 311.2,125.8 311.3,125.8 311.5,125.8 311.7,125.7 311.8,125.7 312.0,125.7 312.2,125.6 312.3,125.6 312.5,125.5 312.7,125.5 312.8,125.5 313.0,125.4 313.1,125.4 313.3,125.4 313.4,125.3 313.6,125.3 313.8,125.3 313.9,125.2 314.1,125.2 314.2,125.1 314.4,125.1 314.5,125.1 314.7,125.0 314.8,125.0 315.0,125.0 315.1,124.9 315.3,124.9 315.4,124.8 315.6,124.8 315.7,124.8 315.8,124.7 316.0,124.7 316.1,124.7 316.3,124.6 316.4,124.6 316.6,124.6 316.7,124.5 316.8,124.5 317.0,124.5 317.1,124.4 317.3,124.4 317.4,124.3 317.5,124.3 317.7,124.3 317.8,124.2 317.9,124.2 318.1,124.2 318.2,124.1 318.3,124.1 318.5,124.1 318.6,124.0 318.7,124.0 318.9,124.0 319.0,123.9 319.1,123.9 319.3,123.9 319.4,123.8 319.5,123.8 319.6,123.8 319.8,123.7 319.9,123.7 320.0,123.7 320.2,123.6 320.3,123.6 320.4,123.6 320.5,123.5 320.7,123.5 320.8,123.5 320.9,123.4 321.0,123.4 321.1,123.4 321.3,123.3 321.4,123.3 321.5,123.3 321.6,123.2 321.7,123.2 321.9,123.2 322.0,123.1 322.1,123.1 322.2,123.1 322.3,123.0 322.4,123.0 322.6,123.0 322.7,122.9 322.8,122.9 322.9,122.9 323.0,122.8 323.1,122.8 323.3,122.8 323.4,122.7 323.5,122.7 323.6,122.7 323.7,122.6 323.8,122.6 323.9,122.6 324.0,122.5 324.1,122.5 324.3,122.5 324.4,122.4 324.5,122.4 324.6,122.4 324.7,122.4 324.8,122.3 324.9,122.3 325.0,122.3 325.1,122.2 325.2,122.2 325.3,122.2 325.4,122.1 325.5,122.1 325.7,122.1 325.8,122.1 325.9,122.0 326.0,122.0 326.1,122.0 326.2,122.0 326.3,121.9 326.4,121.9"/>
<polyline points="220.5,170.3 221.2,170.1 221.8,169.8 222.4,169.5 223.0,169.3 223.6,169.0 224.2,168.7 224.7,168.4 225.3,168.2 225.8,167.9 226.4,167.6 226.9,167.4 227.4,167.1 227.9,166.8 228.4,166.6 228.9,166.3 229.4,166.0 229.9,165.7 230.3,165.5 230.8,165.2 231.3,164.9 231.7,164.7 232.1,164.4 232.6,164.2 233.0,163.9 233.4,163.6 233.9,163.4 234.3,163.1 234.7,162.9 235.1,162.6 235.5,162.4 235.9,162.1 236.3,161.9 236.6,161.6 237.0,161.4 237.4,161.1 237.8,160.9 238.1,160.7 238.5,160.4 238.8,160.2 239.2,160.0 239.5,159.7 239.9,159.5 240.2,159.3 240.5,159.0 240.9,158.8 241.2,158.6 241.5,158.4 241.9,158.2 242.2,157.9 242.5,157.7 242.8,157.5 243.1,157.3 244.6,156.3 246.0,155.4 247.4,154.5 248.7,153.7 250.0,152.8 251.2,152.0 252.3,151.2 253.5,150.4 254.5,149.6 255.6,148.9 256.6,148.2 257.6,147.5 258.5,146.8 259.4,146.2 260.3,145.6 261.2,145.0 262.0,144.4 262.8,143.9 263.6,143.3 264.4,142.8 265.2,142.3 265.9,141.8 266.6,141.4 267.4,140.9 268.0,140.5 268.7,140.1 269.4,139.7 270.0,139.2 270.7,138.9 271.3,138.5 271.9,138.1 272.5,137.7 273.1,137.3 273.7,137.0 274.2,136.6 274.8,136.3 275.3,136.0 275.9,135.6 276.4,135.3 276.9,135.0 277.4,134.7 277.9,134.4 278.4,134.1 278.9,133.9 279.4,133.6 279.8,133.3 280.3,133.1 280.7,132.8 281.2,132.6 281.6,132.3 282.1,132.1 282.5,131.9 282.9,131.7 283.3,131.5 283.8,131.3 284.2,131.1 284.6,130.9 285.0,130.8 285.4,130.6 285.7,130.5 286.1,130.3 286.5,130.2 286.9,130.1 287.2,130.0 287.6,129.9 288.0,129.8 288.3,129.7 288.7,129.6 289.0,129.5 289.4,129.4 289.7,129.4 290.0,129.3 290.4,129.2 290.7,129.2 291.0,129.1 291.3,129.0 291.7,129.0 292.0,128.9 292.3,128.9 292.6,128.8 292.9,128.7 293.2,128.7 293.5,128.6 293.8,128.6 294.1,128.6 294.4,128.5 294.7,128.5 295.0,128.4 295.2,128.4 295.5,128.3 295.8,128.3 296.1,128.3 296.4,128.2 296.6,128.2 296.9,128.1 297.2,128.1 297.4,128.1 297.7,128.0 297.9,128.0 298.2,128.0 298.5,127.9 298.7,127.9 299.0,127.9 299.2,127.8 299.5,127.8 299.7,127.7 299.9,127.7 300.2,127.7 300.4,127.6 300.7,127.6 300.9,127.6 301.1,127.5 301.4,127.5 301.6,127.5 301.8,127.4 302.1,127.4 302.3,127.3 302.5,127.3 302.7,127.3 302.9,127.2 303.2,127.2 303.4,127.2 303.6,127.1 303.8,127.1 304.0,127.1 304.2,127.0 304.4,127.0 304.7,126.9 304.9,126.9 305.1,126.9 305.3,126.8 305.5,126.8 305.7,126.8 305.9,126.7 306.1,126.7 306.3,126.6 306.5,126.6 306.7,126.6 306.9,126.5 307.1,126.5 307.2,126.5 307.4,126.4 307.6,126.4 307.8,126.4 308.0,126.3 308.2,126.3 308.4,126.2 308.6,126.2 308.7,126.2 308.9,126.1 309.1,126.1 309.3,126.1 309.5,126.0 309.6,126.0 309.8,125.9 310.0,125.9 310.2,125.9 310.3,125.8 310.5,125.8 310.7,125.8 310.8,125.7 311.0,125.7 311.2,125.7 311.3,125.6 311.5,125.6 311.7,125.5 311.8,125.5 312.0,125.5 312.2,125.4 312.3,125.4 312.5,125.4 312.7,125.3 312.8,125.3 313.0,125.3 313.1,125.2 313.3,125.2 313.4,125.1 313.6,125.1 313.8,125.1 313.9,125.0 314.1,125.0 314.2,125.0 314.4,124.9 314.5,124.9 314.7,124.9 314.8,124.8 315.0,124.8 315.1,124.7 315.3,124.7 315.4,124.7 315.6,124.6 315.7,124.6 315.8,124.6 316.0,124.5 316.1,124.5 316.3,124.5 316.4,124.4 316.6,124.4 316.7,124.4 316.8,124.3 317.0,124.3 317.1,124.2 317.3,124.2 317.4,124.2 317.5,124.1 317.7,124.1 317.8,124.1 317.9,124.0 318.1,124.0 318.2,124.0 318.3,123.9 318.5,123.9 318.6,123.9 318.7,123.8 318.9,123.8 319.0,123.8 319.1,123.7 319.3,123.7 319.4,123.7 319.5,123.6 319.6,123.6 319.8,123.6 319.9,123.5 320.0,123.5 320.2,123.5 320.3,123.4 320.4,123.4 320.5,123.4 320.7,123.3 320.8,123.3 320.9,123.3 321.0,123.2 321.1,123.2 321.3,123.2 321.4,123.1 321.5,123.1 321.6,123.1 321.7,123.0 321.9,123.0 322.0,123.0 322.1,122.9 322.2,122.9 322.3,122.9 322.4,122.8 322.6,122.8 322.7,122.8 322.8,122.7 322.9,122.7 323.0,122.7 323.1,122.6 323.3,122.6 323.4,122.6 323.5,122.5 323.6,122.5 323.7,122.5 323.8,122.5 323.9,122.4 324.0,122.4 324.1,122.4 324.3,122.3 324.4,122.3 324.5,122.3 324.6,122.2 324.7,122.2 324.8,122.2 324.9,122.1 325.0,122.1 325.1,122.1 325.2,122.1 325.3,122.0 325.4,122.0 325.5,122.0 325.7,121.9 325.8,121.9 325.9,121.9 326.0,121.9 326.1,121.8 326.2,121.8 326.3,121.8 326.4,121.8"/>
<polyline points="220.5,170.3 221.2,170.1 221.8,169.8 222.4,169.5 223.0,169.3 223.6,169.0 224.2,168.7 224.7,168.4 225.3,168.2 225.8,167.9 226.4,167.6 226.9,167.4 227.4,167.1 227.9,166.8 228.4,166.6 228.9,166.3 229.4,166.0 229.9,165.7 230.3,165.5 230.8,165.2 231.3,164.9 231.7,164.7 232.1,164.4 232.6,164.2 233.0,163.9 233.4,163.6 233.9,163.4 234.3,163.1 234.7,162.9 235.1,162.6 235.5,162.4 235.9,162.1 236.3,161.9 236.6,161.6 237.0,161.4 237.4,161.1 237.8,160.9 238.1,160.7 238.5,160.4 238.8,160.2 239.2,160.0 239.5,159.7 239.9,159.5 240.2,159.3 240.5,159.0 240.9,158.8 241.2,158.6 241.5,158.4 241.9,158.2 242.2,157.9 242.5,157.7 242.8,157.5 243.1,157.3 244.6,156.3 246.0,155.4 247.4,154.5 248.7,153.7 250.0,152.8 251.2,152.0 252.3,151.2 253.5,150.4 254.5,149.6 255.6,148.9 256.6,148.2 257.6,147.5 258.5,146.8 259.4,146.2 260.3,145.6 261.2,145.0 262.0,144.4 262.8,143.9 263.6,143.3 264.4,142.8 265.2,142.3 265.9,141.8 266.6,141.4 267.4,140.9 268.0,140.5 268.7,140.1 269.4,139.7 270.0,139.2 270.7,138.9 271.3,138.5 271.9,138.1 272.5,137.7 273.1,137.3 273.7,137.0 274.2,136.6 274.8,136.3 275.3,136.0 275.9,135.6 276.4,135.3 276.9,135.0 277.4,134.7 277.9,134.4 278.4,134.1 278.9,133.9 279.4,133.6 279.8,133.3 280.3,133.1 280.7,132.8 281.2,132.6 281.6,132.3 282.1,132.1 282.5,131.9 282.9,131.7 283.3,131.5 283.8,131.3 284.2,131.1 284.6,130.9 285.0,130.7 285.4,130.6 285.7,130.4 286.1,130.3 286.5,130.1 286.9,130.0 287.2,129.9 287.6,129.8 288.0,129.6 288.3,129.5 288.7,129.5 289.0,129.4 289.4,129.3 289.7,129.2 290.0,129.2 290.4,129.1 290.7,129.0 291.0,128.9 291.3,128.9 291.7,128.8 292.0,128.7 292.3,128.7 292.6,128.6 292.9,128.5 293.2,128.5 293.5,128.4 293.8,128.4 294.1,128.3 294.4,128.3 294.7,128.2 295.0,128.2 295.2,128.2 295.5,128.1 295.8,128.1 296.1,128.0 296.4,128.0 296.6,128.0 296.9,127.9 297.2,127.9 297.4,127.9 297.7,127.8 297.9,127.8 298.2,127.7 298.5,127.7 298.7,127.7 299.0,127.6 299.2,127.6 299.5,127.6 299.7,127.5 299.9,127.5 300.2,127.5 300.4,127.4 300.7,127.4 300.9,127.4 301.1,127.3 301.4,127.3 301.6,127.2 301.8,127.2 302.1,127.2 302.3,127.1 302.5,127.1 302.7,127.1 302.9,127.0 303.2,127.0 303.4,127.0 303.6,126.9 303.8,126.9 304.0,126.9 304.2,126.8 304.4,126.8 304.7,126.7 304.9,126.7 305.1,126.7 305.3,126.6 305.5,126.6 305.7,126.6 305.9,126.5 306.1,126.5 306.3,126.5 306.5,126.4 306.7,126.4 306.9,126.3 307.1,126.3 307.2,126.3 307.4,126.2 307.6,126.2 307.8,126.2 308.0,126.1 308.2,126.1 308.4,126.0 308.6,126.0 308.7,126.0 308.9,125.9 309.1,125.9 309.3,125.9 309.5,125.8 309.6,125.8 309.8,125.8 310.0,125.7 310.2,125.7 310.3,125.6 310.5,125.6 310.7,125.6 310.8,125.5 311.0,125.5 311.2,125.5 311.3,125.4 311.5,125.4 311.7,125.4 311.8,125.3 312.0,125.3 312.2,125.3 312.3,125.2 312.5,125.2 312.7,125.1 312.8,125.1 313.0,125.1 313.1,125.0 313.3,125.0 313.4,125.0 313.6,124.9 313.8,124.9 313.9,124.9 314.1,124.8 314.2,124.8 314.4,124.8 314.5,124.7 314.7,124.7 314.8,124.6 315.0,124.6 315.1,124.6 315.3,124.5 315.4,124.5 315.6,124.5 315.7,124.4 315.8,124.4 316.0,124.4 316.1,124.3 316.3,124.3 316.4,124.3 316.6,124.2 316.7,124.2 316.8,124.1 317.0,124.1 317.1,124.1 317.3,124.0 317.4,124.0 317.5,124.0 317.7,123.9 317.8,123.9 317.9,123.9 318.1,123.8 318.2,123.8 318.3,123.8 318.5,123.7 318.6,123.7 318.7,123.7 318.9,123.6 319.0,123.6 319.1,123.6 319.3,123.5 319.4,123.5 319.5,123.5 319.6,123.4 319.8,123.4 319.9,123.4 320.0,123.3 320.2,123.3 320.3,123.3 320.4,123.2 320.5,123.2 320.7,123.2 320.8,123.1 320.9,123.1 321.0,123.1 321.1,123.0 321.3,123.0 321.4,123.0 321.5,122.9 321.6,122.9 321.7,122.9 321.9,122.8 322.0,122.8 322.1,122.8 322.2,122.7 322.3,122.7 322.4,122.7 322.6,122.6 322.7,122.6 322.8,122.6 322.9,122.6 323.0,122.5 323.1,122.5 323.3,122.5 323.4,122.4 323.5,122.4 323.6,122.4 323.7,122.3 323.8,122.3 323.9,122.3 324.0,122.2 324.1,122.2 324.3,122.2 324.4,122.1 324.5,122.1 324.6,122.1 324.7,122.1 324.8,122.0 324.9,122.0 325.0,122.0 325.1,121.9 325.2,121.9 325.3,121.9 325.4,121.9 325.5,121.8 325.7,121.8 325.8,121.8 325.9,121.7 326.0,121.7 326.1,121.7 326.2,121.7 326.3,121.6 326.4,121.6"/>
</g>
<g fill="none" stroke="#d7301f" stroke-width="1.7" stroke-opacity="0.55" stroke-linejoin="round" clip-path="url(#cins)">
<polyline points="220.5,170.3 221.2,170.1 221.8,169.8 222.4,169.5 223.0,169.3 223.6,169.0 224.2,168.7 224.7,168.5 225.3,168.2 225.8,167.9 226.4,167.7 226.9,167.4 227.4,167.1 227.9,166.9 228.4,166.6 228.9,166.3 229.4,166.1 229.9,165.8 230.3,165.5 230.8,165.3 231.3,165.0 231.7,164.7 232.1,164.5 232.6,164.2 233.0,164.0 233.4,163.7 233.9,163.5 234.3,163.2 234.7,163.0 235.1,162.7 235.5,162.4 235.9,162.2 236.3,162.0 236.6,161.7 237.0,161.5 237.4,161.2 237.8,161.0 238.1,160.7 238.5,160.5 238.8,160.3 239.2,160.0 239.5,159.8 239.9,159.6 240.2,159.4 240.5,159.1 240.9,158.9 241.2,158.7 241.5,158.5 241.9,158.2 242.2,158.0 242.5,157.8 242.8,157.6 243.1,157.4 244.6,156.4 246.0,155.5 247.4,154.6 248.7,153.8 250.0,152.9 251.2,152.1 252.3,151.3 253.5,150.5 254.5,149.7 255.6,149.0 256.6,148.3 257.6,147.6 258.5,146.9 259.4,146.3 260.3,145.7 261.2,145.1 262.0,144.5 262.8,144.0 263.6,143.4 264.4,142.9 265.2,142.4 265.9,141.9 266.6,141.5 267.4,141.0 268.0,140.6 268.7,140.2 269.4,139.7 270.0,139.3 270.7,138.9 271.3,138.5 271.9,138.2 272.5,137.8 273.1,137.4 273.7,137.1 274.2,136.7 274.8,136.4 275.3,136.0 275.9,135.7 276.4,135.4 276.9,135.1 277.4,134.7 277.9,134.4 278.4,134.1 278.9,133.9 279.4,133.6 279.8,133.3 280.3,133.0 280.7,132.7 281.2,132.5 281.6,132.2 282.1,131.9 282.5,131.7 282.9,131.5 283.3,131.3 283.8,131.1 284.2,130.9 284.6,130.7 285.0,130.4 285.4,130.2 285.7,130.0 286.1,129.8 286.5,129.6 286.9,129.5 287.2,129.3 287.6,129.1 288.0,129.0 288.3,128.8 288.7,128.7 289.0,128.6 289.4,128.5 289.7,128.3 290.0,128.2 290.4,128.1 290.7,128.0 291.0,127.9 291.3,127.8 291.7,127.7 292.0,127.7 292.3,127.6 292.6,127.5 292.9,127.4 293.2,127.3 293.5,127.3 293.8,127.2 294.1,127.1 294.4,127.1 294.7,127.0 295.0,127.0 295.2,126.9 295.5,126.9 295.8,126.8 296.1,126.8 296.4,126.7 296.6,126.7 296.9,126.6 297.2,126.6 297.4,126.6 297.7,126.5 297.9,126.5 298.2,126.5 298.5,126.4 298.7,126.4 299.0,126.3 299.2,126.3 299.5,126.3 299.7,126.2 299.9,126.2 300.2,126.2 300.4,126.1 300.7,126.1 300.9,126.1 301.1,126.0 301.4,126.0 301.6,126.0 301.8,125.9 302.1,125.9 302.3,125.9 302.5,125.9 302.7,125.8 302.9,125.8 303.2,125.8 303.4,125.7 303.6,125.7 303.8,125.7 304.0,125.6 304.2,125.6 304.4,125.6 304.7,125.5 304.9,125.5 305.1,125.5 305.3,125.5 305.5,125.4 305.7,125.4 305.9,125.4 306.1,125.3 306.3,125.3 306.5,125.3 306.7,125.2 306.9,125.2 307.1,125.2 307.2,125.1 307.4,125.1 307.6,125.1 307.8,125.1 308.0,125.0 308.2,125.0 308.4,125.0 308.6,124.9 308.7,124.9 308.9,124.9 309.1,124.8 309.3,124.8 309.5,124.8 309.6,124.7 309.8,124.7 310.0,124.7 310.2,124.6 310.3,124.6 310.5,124.6 310.7,124.6 310.8,124.5 311.0,124.5 311.2,124.5 311.3,124.4 311.5,124.4 311.7,124.4 311.8,124.3 312.0,124.3 312.2,124.3 312.3,124.2 312.5,124.2 312.7,124.2 312.8,124.2 313.0,124.1 313.1,124.1 313.3,124.1 313.4,124.0 313.6,124.0 313.8,124.0 313.9,123.9 314.1,123.9 314.2,123.9 314.4,123.8 314.5,123.8 314.7,123.8 314.8,123.7 315.0,123.7 315.1,123.7 315.3,123.6 315.4,123.6 315.6,123.6 315.7,123.6 315.8,123.5 316.0,123.5 316.1,123.5 316.3,123.4 316.4,123.4 316.6,123.4 316.7,123.3 316.8,123.3 317.0,123.3 317.1,123.2 317.3,123.2 317.4,123.2 317.5,123.1 317.7,123.1 317.8,123.1 317.9,123.0 318.1,123.0 318.2,123.0 318.3,122.9 318.5,122.9 318.6,122.9 318.7,122.8 318.9,122.8 319.0,122.8 319.1,122.8 319.3,122.7 319.4,122.7 319.5,122.7 319.6,122.6 319.8,122.6 319.9,122.6 320.0,122.5 320.2,122.5 320.3,122.5 320.4,122.4 320.5,122.4 320.7,122.4 320.8,122.3 320.9,122.3 321.0,122.3 321.1,122.2 321.3,122.2 321.4,122.2 321.5,122.1 321.6,122.1 321.7,122.1 321.9,122.1 322.0,122.0 322.1,122.0 322.2,122.0 322.3,121.9 322.4,121.9 322.6,121.9 322.7,121.8 322.8,121.8 322.9,121.8 323.0,121.7 323.1,121.7 323.3,121.7 323.4,121.6 323.5,121.6 323.6,121.6 323.7,121.6 323.8,121.5 323.9,121.5 324.0,121.5 324.1,121.4 324.3,121.4 324.4,121.4 324.5,121.3 324.6,121.3 324.7,121.3 324.8,121.3 324.9,121.2 325.0,121.2 325.1,121.2 325.2,121.2 325.3,121.1 325.4,121.1 325.5,121.1 325.7,121.1 325.8,121.0 325.9,121.0 326.0,121.0 326.1,121.0 326.2,120.9 326.3,120.9 326.4,120.9"/>
<polyline points="220.5,170.3 221.2,170.1 221.8,169.8 222.4,169.5 223.0,169.3 223.6,169.0 224.2,168.7 224.7,168.5 225.3,168.2 225.8,167.9 226.4,167.7 226.9,167.4 227.4,167.1 227.9,166.9 228.4,166.6 228.9,166.3 229.4,166.1 229.9,165.8 230.3,165.5 230.8,165.3 231.3,165.0 231.7,164.7 232.1,164.5 232.6,164.2 233.0,164.0 233.4,163.7 233.9,163.5 234.3,163.2 234.7,163.0 235.1,162.7 235.5,162.4 235.9,162.2 236.3,162.0 236.6,161.7 237.0,161.5 237.4,161.2 237.8,161.0 238.1,160.7 238.5,160.5 238.8,160.3 239.2,160.0 239.5,159.8 239.9,159.6 240.2,159.4 240.5,159.1 240.9,158.9 241.2,158.7 241.5,158.5 241.9,158.2 242.2,158.0 242.5,157.8 242.8,157.6 243.1,157.4 244.6,156.4 246.0,155.5 247.4,154.6 248.7,153.8 250.0,152.9 251.2,152.1 252.3,151.3 253.5,150.5 254.5,149.7 255.6,149.0 256.6,148.3 257.6,147.6 258.5,146.9 259.4,146.3 260.3,145.7 261.2,145.1 262.0,144.5 262.8,144.0 263.6,143.4 264.4,142.9 265.2,142.4 265.9,141.9 266.6,141.5 267.4,141.0 268.0,140.6 268.7,140.2 269.4,139.7 270.0,139.3 270.7,138.9 271.3,138.5 271.9,138.2 272.5,137.8 273.1,137.4 273.7,137.1 274.2,136.7 274.8,136.4 275.3,136.0 275.9,135.7 276.4,135.4 276.9,135.1 277.4,134.7 277.9,134.4 278.4,134.1 278.9,133.9 279.4,133.6 279.8,133.3 280.3,133.0 280.7,132.7 281.2,132.5 281.6,132.2 282.1,131.9 282.5,131.7 282.9,131.5 283.3,131.3 283.8,131.1 284.2,130.9 284.6,130.7 285.0,130.4 285.4,130.2 285.7,130.0 286.1,129.8 286.5,129.6 286.9,129.4 287.2,129.3 287.6,129.1 288.0,128.9 288.3,128.8 288.7,128.7 289.0,128.5 289.4,128.4 289.7,128.3 290.0,128.2 290.4,128.1 290.7,128.0 291.0,127.9 291.3,127.8 291.7,127.7 292.0,127.6 292.3,127.5 292.6,127.4 292.9,127.3 293.2,127.2 293.5,127.2 293.8,127.1 294.1,127.0 294.4,127.0 294.7,126.9 295.0,126.8 295.2,126.8 295.5,126.7 295.8,126.7 296.1,126.6 296.4,126.6 296.6,126.5 296.9,126.5 297.2,126.4 297.4,126.4 297.7,126.4 297.9,126.3 298.2,126.3 298.5,126.2 298.7,126.2 299.0,126.2 299.2,126.1 299.5,126.1 299.7,126.1 299.9,126.0 300.2,126.0 300.4,126.0 300.7,125.9 300.9,125.9 301.1,125.9 301.4,125.8 301.6,125.8 301.8,125.8 302.1,125.7 302.3,125.7 302.5,125.7 302.7,125.7 302.9,125.6 303.2,125.6 303.4,125.6 303.6,125.5 303.8,125.5 304.0,125.5 304.2,125.4 304.4,125.4 304.7,125.4 304.9,125.3 305.1,125.3 305.3,125.3 305.5,125.3 305.7,125.2 305.9,125.2 306.1,125.2 306.3,125.1 306.5,125.1 306.7,125.1 306.9,125.0 307.1,125.0 307.2,125.0 307.4,124.9 307.6,124.9 307.8,124.9 308.0,124.9 308.2,124.8 308.4,124.8 308.6,124.8 308.7,124.7 308.9,124.7 309.1,124.7 309.3,124.6 309.5,124.6 309.6,124.6 309.8,124.5 310.0,124.5 310.2,124.5 310.3,124.5 310.5,124.4 310.7,124.4 310.8,124.4 311.0,124.3 311.2,124.3 311.3,124.3 311.5,124.2 311.7,124.2 311.8,124.2 312.0,124.2 312.2,124.1 312.3,124.1 312.5,124.1 312.7,124.0 312.8,124.0 313.0,124.0 313.1,123.9 313.3,123.9 313.4,123.9 313.6,123.8 313.8,123.8 313.9,123.8 314.1,123.8 314.2,123.7 314.4,123.7 314.5,123.7 314.7,123.6 314.8,123.6 315.0,123.6 315.1,123.5 315.3,123.5 315.4,123.5 315.6,123.4 315.7,123.4 315.8,123.4 316.0,123.3 316.1,123.3 316.3,123.3 316.4,123.2 316.6,123.2 316.7,123.2 316.8,123.1 317.0,123.1 317.1,123.1 317.3,123.1 317.4,123.0 317.5,123.0 317.7,123.0 317.8,122.9 317.9,122.9 318.1,122.9 318.2,122.8 318.3,122.8 318.5,122.8 318.6,122.7 318.7,122.7 318.9,122.7 319.0,122.6 319.1,122.6 319.3,122.6 319.4,122.5 319.5,122.5 319.6,122.5 319.8,122.5 319.9,122.4 320.0,122.4 320.2,122.4 320.3,122.3 320.4,122.3 320.5,122.3 320.7,122.2 320.8,122.2 320.9,122.2 321.0,122.1 321.1,122.1 321.3,122.1 321.4,122.0 321.5,122.0 321.6,122.0 321.7,121.9 321.9,121.9 322.0,121.9 322.1,121.9 322.2,121.8 322.3,121.8 322.4,121.8 322.6,121.7 322.7,121.7 322.8,121.7 322.9,121.6 323.0,121.6 323.1,121.6 323.3,121.5 323.4,121.5 323.5,121.5 323.6,121.4 323.7,121.4 323.8,121.4 323.9,121.4 324.0,121.3 324.1,121.3 324.3,121.3 324.4,121.2 324.5,121.2 324.6,121.2 324.7,121.2 324.8,121.1 324.9,121.1 325.0,121.1 325.1,121.1 325.2,121.0 325.3,121.0 325.4,121.0 325.5,121.0 325.7,120.9 325.8,120.9 325.9,120.9 326.0,120.9 326.1,120.8 326.2,120.8 326.3,120.8 326.4,120.8"/>
<polyline points="220.5,170.3 221.2,170.1 221.8,169.8 222.4,169.5 223.0,169.3 223.6,169.0 224.2,168.7 224.7,168.5 225.3,168.2 225.8,167.9 226.4,167.7 226.9,167.4 227.4,167.1 227.9,166.9 228.4,166.6 228.9,166.3 229.4,166.1 229.9,165.8 230.3,165.5 230.8,165.3 231.3,165.0 231.7,164.7 232.1,164.5 232.6,164.2 233.0,164.0 233.4,163.7 233.9,163.5 234.3,163.2 234.7,163.0 235.1,162.7 235.5,162.4 235.9,162.2 236.3,162.0 236.6,161.7 237.0,161.5 237.4,161.2 237.8,161.0 238.1,160.7 238.5,160.5 238.8,160.3 239.2,160.0 239.5,159.8 239.9,159.6 240.2,159.4 240.5,159.1 240.9,158.9 241.2,158.7 241.5,158.5 241.9,158.2 242.2,158.0 242.5,157.8 242.8,157.6 243.1,157.4 244.6,156.4 246.0,155.5 247.4,154.6 248.7,153.8 250.0,152.9 251.2,152.1 252.3,151.3 253.5,150.5 254.5,149.7 255.6,149.0 256.6,148.3 257.6,147.6 258.5,146.9 259.4,146.3 260.3,145.7 261.2,145.1 262.0,144.5 262.8,144.0 263.6,143.4 264.4,142.9 265.2,142.4 265.9,141.9 266.6,141.5 267.4,141.0 268.0,140.6 268.7,140.2 269.4,139.7 270.0,139.3 270.7,138.9 271.3,138.5 271.9,138.2 272.5,137.8 273.1,137.4 273.7,137.1 274.2,136.7 274.8,136.4 275.3,136.0 275.9,135.7 276.4,135.4 276.9,135.1 277.4,134.7 277.9,134.4 278.4,134.1 278.9,133.9 279.4,133.6 279.8,133.3 280.3,133.0 280.7,132.7 281.2,132.5 281.6,132.2 282.1,131.9 282.5,131.7 282.9,131.5 283.3,131.3 283.8,131.1 284.2,130.9 284.6,130.7 285.0,130.4 285.4,130.2 285.7,130.0 286.1,129.8 286.5,129.6 286.9,129.4 287.2,129.2 287.6,129.1 288.0,128.9 288.3,128.8 288.7,128.6 289.0,128.5 289.4,128.4 289.7,128.3 290.0,128.1 290.4,128.0 290.7,127.9 291.0,127.8 291.3,127.7 291.7,127.6 292.0,127.5 292.3,127.4 292.6,127.3 292.9,127.2 293.2,127.1 293.5,127.1 293.8,127.0 294.1,126.9 294.4,126.8 294.7,126.8 295.0,126.7 295.2,126.6 295.5,126.6 295.8,126.5 296.1,126.5 296.4,126.4 296.6,126.4 296.9,126.3 297.2,126.3 297.4,126.2 297.7,126.2 297.9,126.1 298.2,126.1 298.5,126.1 298.7,126.0 299.0,126.0 299.2,126.0 299.5,125.9 299.7,125.9 299.9,125.9 300.2,125.8 300.4,125.8 300.7,125.8 300.9,125.7 301.1,125.7 301.4,125.7 301.6,125.6 301.8,125.6 302.1,125.6 302.3,125.5 302.5,125.5 302.7,125.5 302.9,125.5 303.2,125.4 303.4,125.4 303.6,125.4 303.8,125.3 304.0,125.3 304.2,125.3 304.4,125.2 304.7,125.2 304.9,125.2 305.1,125.2 305.3,125.1 305.5,125.1 305.7,125.1 305.9,125.0 306.1,125.0 306.3,125.0 306.5,124.9 306.7,124.9 306.9,124.9 307.1,124.8 307.2,124.8 307.4,124.8 307.6,124.8 307.8,124.7 308.0,124.7 308.2,124.7 308.4,124.6 308.6,124.6 308.7,124.6 308.9,124.5 309.1,124.5 309.3,124.5 309.5,124.4 309.6,124.4 309.8,124.4 310.0,124.4 310.2,124.3 310.3,124.3 310.5,124.3 310.7,124.2 310.8,124.2 311.0,124.2 311.2,124.1 311.3,124.1 311.5,124.1 311.7,124.1 311.8,124.0 312.0,124.0 312.2,124.0 312.3,123.9 312.5,123.9 312.7,123.9 312.8,123.8 313.0,123.8 313.1,123.8 313.3,123.8 313.4,123.7 313.6,123.7 313.8,123.7 313.9,123.6 314.1,123.6 314.2,123.6 314.4,123.5 314.5,123.5 314.7,123.5 314.8,123.4 315.0,123.4 315.1,123.4 315.3,123.3 315.4,123.3 315.6,123.3 315.7,123.3 315.8,123.2 316.0,123.2 316.1,123.2 316.3,123.1 316.4,123.1 316.6,123.1 316.7,123.0 316.8,123.0 317.0,123.0 317.1,122.9 317.3,122.9 317.4,122.9 317.5,122.8 317.7,122.8 317.8,122.8 317.9,122.8 318.1,122.7 318.2,122.7 318.3,122.7 318.5,122.6 318.6,122.6 318.7,122.6 318.9,122.5 319.0,122.5 319.1,122.5 319.3,122.4 319.4,122.4 319.5,122.4 319.6,122.3 319.8,122.3 319.9,122.3 320.0,122.3 320.2,122.2 320.3,122.2 320.4,122.2 320.5,122.1 320.7,122.1 320.8,122.1 320.9,122.0 321.0,122.0 321.1,122.0 321.3,121.9 321.4,121.9 321.5,121.9 321.6,121.8 321.7,121.8 321.9,121.8 322.0,121.8 322.1,121.7 322.2,121.7 322.3,121.7 322.4,121.6 322.6,121.6 322.7,121.6 322.8,121.5 322.9,121.5 323.0,121.5 323.1,121.4 323.3,121.4 323.4,121.4 323.5,121.3 323.6,121.3 323.7,121.3 323.8,121.3 323.9,121.2 324.0,121.2 324.1,121.2 324.3,121.1 324.4,121.1 324.5,121.1 324.6,121.1 324.7,121.0 324.8,121.0 324.9,121.0 325.0,121.0 325.1,120.9 325.2,120.9 325.3,120.9 325.4,120.8 325.5,120.8 325.7,120.8 325.8,120.8 325.9,120.8 326.0,120.7 326.1,120.7 326.2,120.7 326.3,120.7 326.4,120.6"/>
<polyline points="220.5,170.3 221.2,170.1 221.8,169.8 222.4,169.5 223.0,169.3 223.6,169.0 224.2,168.7 224.7,168.5 225.3,168.2 225.8,167.9 226.4,167.7 226.9,167.4 227.4,167.1 227.9,166.9 228.4,166.6 228.9,166.3 229.4,166.1 229.9,165.8 230.3,165.5 230.8,165.3 231.3,165.0 231.7,164.7 232.1,164.5 232.6,164.2 233.0,164.0 233.4,163.7 233.9,163.5 234.3,163.2 234.7,163.0 235.1,162.7 235.5,162.4 235.9,162.2 236.3,162.0 236.6,161.7 237.0,161.5 237.4,161.2 237.8,161.0 238.1,160.7 238.5,160.5 238.8,160.3 239.2,160.0 239.5,159.8 239.9,159.6 240.2,159.4 240.5,159.1 240.9,158.9 241.2,158.7 241.5,158.5 241.9,158.2 242.2,158.0 242.5,157.8 242.8,157.6 243.1,157.4 244.6,156.4 246.0,155.5 247.4,154.6 248.7,153.8 250.0,152.9 251.2,152.1 252.3,151.3 253.5,150.5 254.5,149.7 255.6,149.0 256.6,148.3 257.6,147.6 258.5,146.9 259.4,146.3 260.3,145.7 261.2,145.1 262.0,144.5 262.8,144.0 263.6,143.4 264.4,142.9 265.2,142.4 265.9,141.9 266.6,141.5 267.4,141.0 268.0,140.6 268.7,140.2 269.4,139.7 270.0,139.3 270.7,138.9 271.3,138.5 271.9,138.2 272.5,137.8 273.1,137.4 273.7,137.1 274.2,136.7 274.8,136.4 275.3,136.0 275.9,135.7 276.4,135.4 276.9,135.1 277.4,134.7 277.9,134.4 278.4,134.1 278.9,133.9 279.4,133.6 279.8,133.3 280.3,133.0 280.7,132.7 281.2,132.5 281.6,132.2 282.1,131.9 282.5,131.7 282.9,131.5 283.3,131.3 283.8,131.1 284.2,130.9 284.6,130.7 285.0,130.4 285.4,130.2 285.7,130.0 286.1,129.8 286.5,129.6 286.9,129.4 287.2,129.2 287.6,129.0 288.0,128.9 288.3,128.7 288.7,128.6 289.0,128.5 289.4,128.3 289.7,128.2 290.0,128.1 290.4,128.0 290.7,127.8 291.0,127.7 291.3,127.6 291.7,127.5 292.0,127.4 292.3,127.3 292.6,127.2 292.9,127.1 293.2,127.0 293.5,126.9 293.8,126.9 294.1,126.8 294.4,126.7 294.7,126.6 295.0,126.6 295.2,126.5 295.5,126.4 295.8,126.4 296.1,126.3 296.4,126.3 296.6,126.2 296.9,126.2 297.2,126.1 297.4,126.1 297.7,126.0 297.9,126.0 298.2,125.9 298.5,125.9 298.7,125.9 299.0,125.8 299.2,125.8 299.5,125.7 299.7,125.7 299.9,125.7 300.2,125.6 300.4,125.6 300.7,125.6 300.9,125.6 301.1,125.5 301.4,125.5 301.6,125.5 301.8,125.4 302.1,125.4 302.3,125.4 302.5,125.3 302.7,125.3 302.9,125.3 303.2,125.3 303.4,125.2 303.6,125.2 303.8,125.2 304.0,125.1 304.2,125.1 304.4,125.1 304.7,125.0 304.9,125.0 305.1,125.0 305.3,125.0 305.5,124.9 305.7,124.9 305.9,124.9 306.1,124.8 306.3,124.8 306.5,124.8 306.7,124.7 306.9,124.7 307.1,124.7 307.2,124.7 307.4,124.6 307.6,124.6 307.8,124.6 308.0,124.5 308.2,124.5 308.4,124.5 308.6,124.4 308.7,124.4 308.9,124.4 309.1,124.4 309.3,124.3 309.5,124.3 309.6,124.3 309.8,124.2 310.0,124.2 310.2,124.2 310.3,124.1 310.5,124.1 310.7,124.1 310.8,124.1 311.0,124.0 311.2,124.0 311.3,124.0 311.5,123.9 311.7,123.9 311.8,123.9 312.0,123.8 312.2,123.8 312.3,123.8 312.5,123.8 312.7,123.7 312.8,123.7 313.0,123.7 313.1,123.6 313.3,123.6 313.4,123.6 313.6,123.5 313.8,123.5 313.9,123.5 314.1,123.4 314.2,123.4 314.4,123.4 314.5,123.4 314.7,123.3 314.8,123.3 315.0,123.3 315.1,123.2 315.3,123.2 315.4,123.2 315.6,123.1 315.7,123.1 315.8,123.1 316.0,123.0 316.1,123.0 316.3,123.0 316.4,123.0 316.6,122.9 316.7,122.9 316.8,122.9 317.0,122.8 317.1,122.8 317.3,122.8 317.4,122.7 317.5,122.7 317.7,122.7 317.8,122.6 317.9,122.6 318.1,122.6 318.2,122.5 318.3,122.5 318.5,122.5 318.6,122.5 318.7,122.4 318.9,122.4 319.0,122.4 319.1,122.3 319.3,122.3 319.4,122.3 319.5,122.2 319.6,122.2 319.8,122.2 319.9,122.1 320.0,122.1 320.2,122.1 320.3,122.1 320.4,122.0 320.5,122.0 320.7,122.0 320.8,121.9 320.9,121.9 321.0,121.9 321.1,121.8 321.3,121.8 321.4,121.8 321.5,121.7 321.6,121.7 321.7,121.7 321.9,121.7 322.0,121.6 322.1,121.6 322.2,121.6 322.3,121.5 322.4,121.5 322.6,121.5 322.7,121.4 322.8,121.4 322.9,121.4 323.0,121.3 323.1,121.3 323.3,121.3 323.4,121.3 323.5,121.2 323.6,121.2 323.7,121.2 323.8,121.1 323.9,121.1 324.0,121.1 324.1,121.0 324.3,121.0 324.4,121.0 324.5,121.0 324.6,120.9 324.7,120.9 324.8,120.9 324.9,120.9 325.0,120.8 325.1,120.8 325.2,120.8 325.3,120.7 325.4,120.7 325.5,120.7 325.7,120.7 325.8,120.7 325.9,120.6 326.0,120.6 326.1,120.6 326.2,120.6 326.3,120.5 326.4,120.5"/>
</g>
<line x1="221.80" y1="172.30" x2="221.80" y2="166.74" stroke="#000" stroke-width="0.9"/>
<line x1="221.80" y1="113.30" x2="221.80" y2="118.86" stroke="#000" stroke-width="0.9"/>
<line x1="292.60" y1="172.30" x2="292.60" y2="166.74" stroke="#000" stroke-width="0.9"/>
<line x1="292.60" y1="113.30" x2="292.60" y2="118.86" stroke="#000" stroke-width="0.9"/>
<line x1="243.11" y1="172.30" x2="243.11" y2="169.52" stroke="#000" stroke-width="0.9"/>
<line x1="243.11" y1="113.30" x2="243.11" y2="116.08" stroke="#000" stroke-width="0.9"/>
<line x1="255.58" y1="172.30" x2="255.58" y2="169.52" stroke="#000" stroke-width="0.9"/>
<line x1="255.58" y1="113.30" x2="255.58" y2="116.08" stroke="#000" stroke-width="0.9"/>
<line x1="264.43" y1="172.30" x2="264.43" y2="169.52" stroke="#000" stroke-width="0.9"/>
<line x1="264.43" y1="113.30" x2="264.43" y2="116.08" stroke="#000" stroke-width="0.9"/>
<line x1="271.29" y1="172.30" x2="271.29" y2="169.52" stroke="#000" stroke-width="0.9"/>
<line x1="271.29" y1="113.30" x2="271.29" y2="116.08" stroke="#000" stroke-width="0.9"/>
<line x1="276.89" y1="172.30" x2="276.89" y2="169.52" stroke="#000" stroke-width="0.9"/>
<line x1="276.89" y1="113.30" x2="276.89" y2="116.08" stroke="#000" stroke-width="0.9"/>
<line x1="281.63" y1="172.30" x2="281.63" y2="169.52" stroke="#000" stroke-width="0.9"/>
<line x1="281.63" y1="113.30" x2="281.63" y2="116.08" stroke="#000" stroke-width="0.9"/>
<line x1="285.74" y1="172.30" x2="285.74" y2="169.52" stroke="#000" stroke-width="0.9"/>
<line x1="285.74" y1="113.30" x2="285.74" y2="116.08" stroke="#000" stroke-width="0.9"/>
<line x1="289.36" y1="172.30" x2="289.36" y2="169.52" stroke="#000" stroke-width="0.9"/>
<line x1="289.36" y1="113.30" x2="289.36" y2="116.08" stroke="#000" stroke-width="0.9"/>
<line x1="313.91" y1="172.30" x2="313.91" y2="169.52" stroke="#000" stroke-width="0.9"/>
<line x1="313.91" y1="113.30" x2="313.91" y2="116.08" stroke="#000" stroke-width="0.9"/>
<line x1="221.80" y1="159.00" x2="227.36" y2="159.00" stroke="#000" stroke-width="0.9"/>
<line x1="325.40" y1="159.00" x2="319.84" y2="159.00" stroke="#000" stroke-width="0.9"/>
<line x1="221.80" y1="123.60" x2="227.36" y2="123.60" stroke="#000" stroke-width="0.9"/>
<line x1="325.40" y1="123.60" x2="319.84" y2="123.60" stroke="#000" stroke-width="0.9"/>
<line x1="221.80" y1="169.66" x2="224.58" y2="169.66" stroke="#000" stroke-width="0.9"/>
<line x1="325.40" y1="169.66" x2="322.62" y2="169.66" stroke="#000" stroke-width="0.9"/>
<line x1="221.80" y1="166.85" x2="224.58" y2="166.85" stroke="#000" stroke-width="0.9"/>
<line x1="325.40" y1="166.85" x2="322.62" y2="166.85" stroke="#000" stroke-width="0.9"/>
<line x1="221.80" y1="164.48" x2="224.58" y2="164.48" stroke="#000" stroke-width="0.9"/>
<line x1="325.40" y1="164.48" x2="322.62" y2="164.48" stroke="#000" stroke-width="0.9"/>
<line x1="221.80" y1="162.43" x2="224.58" y2="162.43" stroke="#000" stroke-width="0.9"/>
<line x1="325.40" y1="162.43" x2="322.62" y2="162.43" stroke="#000" stroke-width="0.9"/>
<line x1="221.80" y1="160.62" x2="224.58" y2="160.62" stroke="#000" stroke-width="0.9"/>
<line x1="325.40" y1="160.62" x2="322.62" y2="160.62" stroke="#000" stroke-width="0.9"/>
<line x1="221.80" y1="148.34" x2="224.58" y2="148.34" stroke="#000" stroke-width="0.9"/>
<line x1="325.40" y1="148.34" x2="322.62" y2="148.34" stroke="#000" stroke-width="0.9"/>
<line x1="221.80" y1="142.11" x2="224.58" y2="142.11" stroke="#000" stroke-width="0.9"/>
<line x1="325.40" y1="142.11" x2="322.62" y2="142.11" stroke="#000" stroke-width="0.9"/>
<line x1="221.80" y1="137.69" x2="224.58" y2="137.69" stroke="#000" stroke-width="0.9"/>
<line x1="325.40" y1="137.69" x2="322.62" y2="137.69" stroke="#000" stroke-width="0.9"/>
<line x1="221.80" y1="134.26" x2="224.58" y2="134.26" stroke="#000" stroke-width="0.9"/>
<line x1="325.40" y1="134.26" x2="322.62" y2="134.26" stroke="#000" stroke-width="0.9"/>
<line x1="221.80" y1="131.45" x2="224.58" y2="131.45" stroke="#000" stroke-width="0.9"/>
<line x1="325.40" y1="131.45" x2="322.62" y2="131.45" stroke="#000" stroke-width="0.9"/>
<line x1="221.80" y1="129.08" x2="224.58" y2="129.08" stroke="#000" stroke-width="0.9"/>
<line x1="325.40" y1="129.08" x2="322.62" y2="129.08" stroke="#000" stroke-width="0.9"/>
<line x1="221.80" y1="127.03" x2="224.58" y2="127.03" stroke="#000" stroke-width="0.9"/>
<line x1="325.40" y1="127.03" x2="322.62" y2="127.03" stroke="#000" stroke-width="0.9"/>
<line x1="221.80" y1="125.22" x2="224.58" y2="125.22" stroke="#000" stroke-width="0.9"/>
<line x1="325.40" y1="125.22" x2="322.62" y2="125.22" stroke="#000" stroke-width="0.9"/>
<rect x="221.8" y="113.3" width="103.59999999999997" height="59.000000000000014" fill="none" stroke="#000" stroke-width="0.85"/>
<text x="197.40" y="127.30" font-size="14">10</text>
<text x="211.70" y="121.60" font-size="10">1</text>
<text x="197.40" y="161.90" font-size="14">10</text>
<text x="211.70" y="156.20" font-size="10">0</text>
<text x="212.95" y="187.70" font-size="14">10</text>
<text x="227.25" y="182.00" font-size="10">0</text>
<text x="283.55" y="187.70" font-size="14">10</text>
<text x="297.85" y="182.00" font-size="10">1</text>
<text x="274.40" y="201.60" text-anchor="middle" font-size="14" font-style="normal" >t</text>
<g transform="translate(187.60,158.90) rotate(-90)">
<text x="-0.42" y="0.00" font-size="14" font-style="italic">σ</text>
<text x="7.76" y="-6.00" font-size="10" font-style="normal">2</text>
<text x="14.28" y="0.00" font-size="14" font-style="normal">(</text>
<text x="19.78" y="0.00" font-size="14" font-style="italic">t</text>
<text x="26.15" y="0.00" font-size="14" font-style="normal">)</text>
</g>
</g></svg>
</body></html>
